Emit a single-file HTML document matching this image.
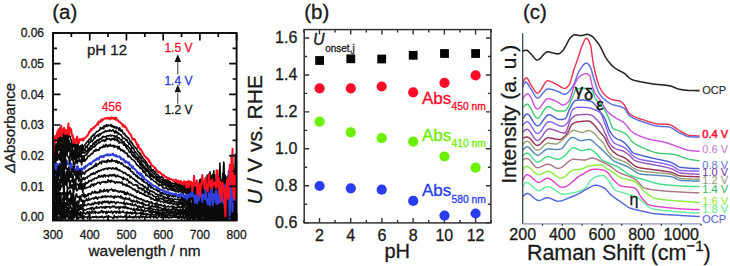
<!DOCTYPE html>
<html><head><meta charset="utf-8"><style>
html,body{margin:0;padding:0;background:#fff;width:730px;height:266px;overflow:hidden}
svg{display:block;font-family:"Liberation Sans",sans-serif}
</style></head><body>
<svg width="730" height="266" viewBox="0 0 730 266"><text x="52.3" y="18.6" font-size="20.5" fill="#1a1a1a" text-anchor="start" font-family="Liberation Sans, sans-serif"  stroke="#1a1a1a" stroke-width="0.3">(a)</text>
<text x="44" y="221.3" font-size="12" fill="#1a1a1a" text-anchor="end" font-family="Liberation Sans, sans-serif"  stroke="#1a1a1a" stroke-width="0.3">0.00</text>
<text x="44" y="190.63" font-size="12" fill="#1a1a1a" text-anchor="end" font-family="Liberation Sans, sans-serif"  stroke="#1a1a1a" stroke-width="0.3">0.01</text>
<text x="44" y="159.96" font-size="12" fill="#1a1a1a" text-anchor="end" font-family="Liberation Sans, sans-serif"  stroke="#1a1a1a" stroke-width="0.3">0.02</text>
<text x="44" y="129.29000000000002" font-size="12" fill="#1a1a1a" text-anchor="end" font-family="Liberation Sans, sans-serif"  stroke="#1a1a1a" stroke-width="0.3">0.03</text>
<text x="44" y="98.61999999999999" font-size="12" fill="#1a1a1a" text-anchor="end" font-family="Liberation Sans, sans-serif"  stroke="#1a1a1a" stroke-width="0.3">0.04</text>
<text x="44" y="67.95" font-size="12" fill="#1a1a1a" text-anchor="end" font-family="Liberation Sans, sans-serif"  stroke="#1a1a1a" stroke-width="0.3">0.05</text>
<text x="44" y="37.280000000000015" font-size="12" fill="#1a1a1a" text-anchor="end" font-family="Liberation Sans, sans-serif"  stroke="#1a1a1a" stroke-width="0.3">0.06</text>
<text x="53.0" y="238.8" font-size="12" fill="#1a1a1a" text-anchor="middle" font-family="Liberation Sans, sans-serif"  stroke="#1a1a1a" stroke-width="0.3">300</text>
<text x="89.72" y="238.8" font-size="12" fill="#1a1a1a" text-anchor="middle" font-family="Liberation Sans, sans-serif"  stroke="#1a1a1a" stroke-width="0.3">400</text>
<text x="126.44" y="238.8" font-size="12" fill="#1a1a1a" text-anchor="middle" font-family="Liberation Sans, sans-serif"  stroke="#1a1a1a" stroke-width="0.3">500</text>
<text x="163.16" y="238.8" font-size="12" fill="#1a1a1a" text-anchor="middle" font-family="Liberation Sans, sans-serif"  stroke="#1a1a1a" stroke-width="0.3">600</text>
<text x="199.88" y="238.8" font-size="12" fill="#1a1a1a" text-anchor="middle" font-family="Liberation Sans, sans-serif"  stroke="#1a1a1a" stroke-width="0.3">700</text>
<text x="236.6" y="238.8" font-size="12" fill="#1a1a1a" text-anchor="middle" font-family="Liberation Sans, sans-serif"  stroke="#1a1a1a" stroke-width="0.3">800</text>
<text x="144.5" y="256.4" font-size="15.4" fill="#1a1a1a" text-anchor="middle" font-family="Liberation Sans, sans-serif"  stroke="#1a1a1a" stroke-width="0.3">wavelength / nm</text>
<text transform="translate(15.3,128) rotate(-90)" font-size="15" fill="#1a1a1a" stroke="#1a1a1a" stroke-width="0.3" text-anchor="middle" font-family="Liberation Sans, sans-serif"><tspan font-style="italic">Δ</tspan>Absorbance</text>
<defs><clipPath id="ca"><rect x="53.0" y="33.0" width="183.6" height="187.5"/></clipPath></defs>
<g clip-path="url(#ca)" fill="none" stroke-linejoin="round">
<path d="M53.00,172.15 L53.55,176.44 L54.10,170.12 L54.65,171.64 L55.20,167.62 L55.75,160.57 L56.30,178.94 L56.86,167.76 L57.41,163.94 L57.96,166.07 L58.51,171.52 L59.06,165.60 L59.61,163.52 L60.16,163.85 L60.71,168.08 L61.26,167.64 L61.81,164.62 L62.36,167.78 L62.91,163.95 L63.47,162.03 L64.02,162.51 L64.57,169.03 L65.12,161.46 L65.67,165.48 L66.22,165.04 L66.77,160.79 L67.32,163.88 L67.87,164.25 L68.42,164.57 L68.97,164.27 L69.52,163.48 L70.07,160.38 L70.63,166.56 L71.18,169.94 L71.73,164.27 L72.28,167.52 L72.83,168.08 L73.38,166.83 L73.93,169.45 L74.48,170.88 L75.03,169.15 L75.58,175.60 L76.13,172.48 L76.68,166.69 L77.24,168.39 L77.79,166.12 L78.34,169.41 L78.89,169.81 L79.44,171.00 L79.99,168.81 L80.54,169.82 L81.09,168.46 L81.64,171.33 L82.19,169.88 L82.74,168.75 L83.29,168.45 L83.84,167.27 L84.40,168.72 L84.95,167.90 L85.50,165.98 L86.05,166.77 L86.60,165.88" stroke="#2f3fd8" stroke-width="2.0"/>
<path d="M53.00,143.06 L53.55,143.05 L54.10,146.51 L54.65,153.12 L55.20,154.36 L55.75,148.11 L56.30,155.44 L56.86,153.91 L57.41,143.73 L57.96,137.38 L58.51,137.29 L59.06,137.50 L59.61,139.18 L60.16,127.22 L60.71,134.14 L61.26,141.31 L61.81,132.68 L62.36,142.72 L62.91,143.20 L63.47,134.49 L64.02,147.14 L64.57,134.54 L65.12,134.50 L65.67,136.65 L66.22,141.94 L66.77,132.74 L67.32,138.00 L67.87,132.83 L68.42,137.24 L68.97,136.40 L69.52,135.92 L70.07,136.48 L70.63,139.31 L71.18,139.59 L71.73,142.76 L72.28,144.95 L72.83,143.81 L73.38,146.68 L73.93,143.66 L74.48,147.27 L75.03,148.74 L75.58,142.94 L76.13,148.02 L76.68,151.43 L77.24,146.10 L77.79,143.84 L78.34,146.00 L78.89,148.27 L79.44,146.35 L79.99,147.65 L80.54,145.55 L81.09,146.83 L81.64,147.53 L82.19,144.65 L82.74,148.92 L83.29,148.42 L83.84,145.88 L84.40,145.39 L84.95,144.91 L85.50,143.89 L86.05,143.53 L86.60,142.31 L87.15,142.07 L87.70,141.18 L88.25,142.26 L88.80,139.72 L89.35,139.59 L89.90,138.89 L90.45,138.28 L91.01,138.97 L91.56,136.28 L92.11,136.14 L92.66,136.24 L93.21,134.98 L93.76,134.27 L94.31,135.04 L94.86,133.72 L95.41,133.34 L95.96,132.47 L96.51,131.81 L97.06,131.52 L97.61,131.42 L98.17,131.31 L98.72,130.54 L99.27,130.33 L99.82,129.77 L100.37,127.51 L100.92,128.76 L101.47,128.09 L102.02,128.54 L102.57,127.58 L103.12,127.16 L103.67,128.79 L104.22,125.44 L104.78,126.60 L105.33,126.63 L105.88,126.24 L106.43,124.65 L106.98,126.55 L107.53,125.99 L108.08,124.96 L108.63,125.70 L109.18,125.59 L109.73,125.31 L110.28,126.13 L110.83,124.60 L111.38,125.17 L111.94,126.61 L112.49,125.49 L113.04,127.09 L113.59,126.71 L114.14,127.91 L114.69,126.43 L115.24,127.02 L115.79,127.10 L116.34,128.85 L116.89,127.11 L117.44,127.67 L117.99,127.97 L118.55,128.76 L119.10,130.43 L119.65,127.84 L120.20,129.39 L120.75,130.80 L121.30,131.30 L121.85,129.71 L122.40,131.32 L122.95,133.09 L123.50,133.81 L124.05,133.55 L124.60,133.28 L125.15,135.19 L125.71,136.10 L126.26,135.87 L126.81,136.32 L127.36,137.59 L127.91,137.46 L128.46,137.90 L129.01,138.87 L129.56,139.49 L130.11,141.96 L130.66,141.57 L131.21,141.43 L131.76,143.28 L132.32,143.05 L132.87,144.86 L133.42,145.75 L133.97,146.46 L134.52,146.51 L135.07,147.21 L135.62,148.20 L136.17,148.22 L136.72,148.38 L137.27,150.61 L137.82,151.70 L138.37,151.56 L138.92,152.68 L139.48,152.58 L140.03,154.55 L140.58,153.61 L141.13,156.18 L141.68,156.90 L142.23,156.65 L142.78,157.89 L143.33,158.71 L143.88,159.25 L144.43,160.05 L144.98,160.60 L145.53,162.11 L146.09,161.65 L146.64,162.62 L147.19,163.82 L147.74,165.14 L148.29,165.79 L148.84,165.78 L149.39,166.33 L149.94,167.24 L150.49,166.05 L151.04,168.76 L151.59,170.35 L152.14,169.54 L152.69,170.31 L153.25,169.76 L153.80,171.10 L154.35,171.62 L154.90,172.29 L155.45,171.08 L156.00,172.84 L156.55,174.03 L157.10,174.64 L157.65,174.45 L158.20,175.03 L158.75,175.62 L159.30,176.39 L159.86,177.60 L160.41,177.71 L160.96,177.15 L161.51,176.63 L162.06,176.70 L162.61,177.45 L163.16,178.51 L163.71,179.88 L164.26,180.12 L164.81,180.07 L165.36,180.29 L165.91,179.91 L166.46,181.42 L167.02,179.90 L167.57,180.15 L168.12,182.28 L168.67,179.96 L169.22,182.12 L169.77,181.95 L170.32,181.50 L170.87,183.33 L171.42,183.76 L171.97,183.13 L172.52,183.15 L173.07,183.69 L173.63,183.70 L174.18,183.59 L174.73,183.14 L175.28,182.58 L175.83,184.97 L176.38,184.46 L176.93,183.53 L177.48,184.96 L178.03,185.16 L178.58,184.05 L179.13,185.28 L179.68,183.82 L180.23,184.87 L180.79,184.37 L181.34,184.14 L181.89,185.17 L182.44,185.58 L182.99,184.93 L183.54,188.03 L184.09,186.45 L184.64,184.50 L185.19,187.46 L185.74,183.87 L186.29,181.98 L186.84,186.75 L187.40,181.83 L187.95,184.85 L188.50,182.62 L189.05,191.19 L189.60,186.73 L190.15,187.13 L190.70,183.93 L191.25,182.29 L191.80,184.17 L192.35,187.81 L192.90,186.24 L193.45,189.75 L194.00,185.69 L194.56,188.23 L195.11,190.47 L195.66,189.03 L196.21,190.95 L196.76,191.78 L197.31,189.17 L197.86,189.12 L198.41,185.84 L198.96,187.71 L199.51,179.95 L200.06,180.40 L200.61,179.20 L201.17,184.92 L201.72,189.14 L202.27,189.97 L202.82,189.16 L203.37,183.49 L203.92,188.00 L204.47,191.55 L205.02,186.57 L205.57,177.45 L206.12,182.23 L206.67,186.76 L207.22,183.73 L207.77,185.64 L208.33,188.25 L208.88,196.49 L209.43,187.43 L209.98,191.39 L210.53,187.68 L211.08,175.48 L211.63,184.72 L212.18,183.38 L212.73,186.99 L213.28,183.64 L213.83,191.91 L214.38,182.82 L214.94,180.04 L215.49,187.49 L216.04,185.82 L216.59,182.21 L217.14,187.43 L217.69,189.08 L218.24,183.06 L218.79,184.03 L219.34,185.43 L219.89,163.17 L220.44,191.08 L220.99,187.20 L221.54,199.12 L222.10,185.52 L222.65,194.85 L223.20,184.19 L223.75,188.29 L224.30,197.01 L224.85,180.24 L225.40,182.56 L225.95,181.54 L226.50,180.80 L227.05,191.22 L227.60,204.49 L228.15,205.02 L228.71,217.31 L229.26,194.86 L229.81,175.66 L230.36,191.56 L230.91,199.81 L231.46,184.14 L232.01,193.70 L232.56,184.04 L233.11,178.30 L233.66,183.52 L234.21,190.80 L234.76,194.85 L235.31,204.29 L235.87,156.97 L236.42,174.98" stroke="#0a0a0a" stroke-width="1.6"/>
<path d="M53.00,157.89 L53.55,148.83 L54.10,149.90 L54.65,142.54 L55.20,149.61 L55.75,145.87 L56.30,152.18 L56.86,153.02 L57.41,145.34 L57.96,146.24 L58.51,145.40 L59.06,143.66 L59.61,140.10 L60.16,136.65 L60.71,147.13 L61.26,143.77 L61.81,145.30 L62.36,149.06 L62.91,148.92 L63.47,147.42 L64.02,132.61 L64.57,140.04 L65.12,140.87 L65.67,143.35 L66.22,133.30 L66.77,144.55 L67.32,150.49 L67.87,135.21 L68.42,141.72 L68.97,140.18 L69.52,142.47 L70.07,148.28 L70.63,145.11 L71.18,143.12 L71.73,143.21 L72.28,142.59 L72.83,151.36 L73.38,151.26 L73.93,158.11 L74.48,150.12 L75.03,150.81 L75.58,150.05 L76.13,144.71 L76.68,148.88 L77.24,152.42 L77.79,144.96 L78.34,149.40 L78.89,147.97 L79.44,149.57 L79.99,147.45 L80.54,154.19 L81.09,150.51 L81.64,147.78 L82.19,150.99 L82.74,150.01 L83.29,151.11 L83.84,149.01 L84.40,150.28 L84.95,149.61 L85.50,147.87 L86.05,146.09 L86.60,146.98 L87.15,147.61 L87.70,145.31 L88.25,144.31 L88.80,144.36 L89.35,142.01 L89.90,142.72 L90.45,141.93 L91.01,140.25 L91.56,140.41 L92.11,141.55 L92.66,140.36 L93.21,139.98 L93.76,138.99 L94.31,136.99 L94.86,138.33 L95.41,137.27 L95.96,136.01 L96.51,135.84 L97.06,135.95 L97.61,134.91 L98.17,135.26 L98.72,136.49 L99.27,133.70 L99.82,134.47 L100.37,134.98 L100.92,133.84 L101.47,133.25 L102.02,133.01 L102.57,133.04 L103.12,132.08 L103.67,132.33 L104.22,132.17 L104.78,131.39 L105.33,130.62 L105.88,131.51 L106.43,131.67 L106.98,130.87 L107.53,131.16 L108.08,130.68 L108.63,130.94 L109.18,131.09 L109.73,129.93 L110.28,130.74 L110.83,130.43 L111.38,131.27 L111.94,130.90 L112.49,130.32 L113.04,129.80 L113.59,131.32 L114.14,131.02 L114.69,132.97 L115.24,132.17 L115.79,130.76 L116.34,132.81 L116.89,131.97 L117.44,132.60 L117.99,133.80 L118.55,132.83 L119.10,134.36 L119.65,134.07 L120.20,134.69 L120.75,135.14 L121.30,134.87 L121.85,136.56 L122.40,136.82 L122.95,138.45 L123.50,138.45 L124.05,138.06 L124.60,138.23 L125.15,138.75 L125.71,140.23 L126.26,140.50 L126.81,139.30 L127.36,141.17 L127.91,142.37 L128.46,142.65 L129.01,144.32 L129.56,143.30 L130.11,144.36 L130.66,144.82 L131.21,146.09 L131.76,148.45 L132.32,147.58 L132.87,147.85 L133.42,148.53 L133.97,148.91 L134.52,151.21 L135.07,152.76 L135.62,151.95 L136.17,153.27 L136.72,153.60 L137.27,154.10 L137.82,155.01 L138.37,155.48 L138.92,155.92 L139.48,156.55 L140.03,157.76 L140.58,158.66 L141.13,158.25 L141.68,160.00 L142.23,161.84 L142.78,161.44 L143.33,160.90 L143.88,162.18 L144.43,162.81 L144.98,162.61 L145.53,164.06 L146.09,165.73 L146.64,165.15 L147.19,165.93 L147.74,167.60 L148.29,167.86 L148.84,168.82 L149.39,169.41 L149.94,169.90 L150.49,170.44 L151.04,171.13 L151.59,170.42 L152.14,171.98 L152.69,172.43 L153.25,173.42 L153.80,173.66 L154.35,173.76 L154.90,174.57 L155.45,175.16 L156.00,176.15 L156.55,176.35 L157.10,177.99 L157.65,177.64 L158.20,176.45 L158.75,177.65 L159.30,178.54 L159.86,178.20 L160.41,178.85 L160.96,179.19 L161.51,179.51 L162.06,179.35 L162.61,180.11 L163.16,182.23 L163.71,180.86 L164.26,181.63 L164.81,181.91 L165.36,181.57 L165.91,182.07 L166.46,182.87 L167.02,182.44 L167.57,183.16 L168.12,182.96 L168.67,183.23 L169.22,183.54 L169.77,183.93 L170.32,182.86 L170.87,185.43 L171.42,184.61 L171.97,184.94 L172.52,185.62 L173.07,185.66 L173.63,185.43 L174.18,185.99 L174.73,185.15 L175.28,184.58 L175.83,185.04 L176.38,184.89 L176.93,185.66 L177.48,185.13 L178.03,186.80 L178.58,186.71 L179.13,184.80 L179.68,188.49 L180.23,185.57 L180.79,187.41 L181.34,184.79 L181.89,186.38 L182.44,189.66 L182.99,187.89 L183.54,185.24 L184.09,186.09 L184.64,188.34 L185.19,187.09 L185.74,186.93 L186.29,188.92 L186.84,188.58 L187.40,187.82 L187.95,186.78 L188.50,187.73 L189.05,186.61 L189.60,188.56 L190.15,188.47 L190.70,187.80 L191.25,191.09 L191.80,186.99 L192.35,185.97 L192.90,190.83 L193.45,194.40 L194.00,190.05 L194.56,186.36 L195.11,188.26 L195.66,189.71 L196.21,195.06 L196.76,186.08 L197.31,187.29 L197.86,189.07 L198.41,193.87 L198.96,197.60 L199.51,184.06 L200.06,198.93 L200.61,188.84 L201.17,184.50 L201.72,199.92 L202.27,182.88 L202.82,190.60 L203.37,184.60 L203.92,189.56 L204.47,190.38 L205.02,188.37 L205.57,188.75 L206.12,202.67 L206.67,196.69 L207.22,187.33 L207.77,187.08 L208.33,184.65 L208.88,189.01 L209.43,185.22 L209.98,171.69 L210.53,181.42 L211.08,179.79 L211.63,189.66 L212.18,177.16 L212.73,174.33 L213.28,185.53 L213.83,181.05 L214.38,196.71 L214.94,191.84 L215.49,180.95 L216.04,193.99 L216.59,185.53 L217.14,179.46 L217.69,185.30 L218.24,175.50 L218.79,178.68 L219.34,175.95 L219.89,210.81 L220.44,203.28 L220.99,181.74 L221.54,204.47 L222.10,186.11 L222.65,173.58 L223.20,186.97 L223.75,162.08 L224.30,185.20 L224.85,215.84 L225.40,181.37 L225.95,201.20 L226.50,189.06 L227.05,177.84 L227.60,194.79 L228.15,209.48 L228.71,218.93 L229.26,183.12 L229.81,170.07 L230.36,195.96 L230.91,181.07 L231.46,187.84 L232.01,201.77 L232.56,192.38 L233.11,191.60 L233.66,183.88 L234.21,188.66 L234.76,203.14 L235.31,181.74 L235.87,193.93 L236.42,198.10" stroke="#0a0a0a" stroke-width="1.6"/>
<path d="M53.00,161.30 L53.55,161.20 L54.10,153.44 L54.65,153.54 L55.20,145.80 L55.75,154.92 L56.30,143.72 L56.86,148.20 L57.41,146.76 L57.96,143.29 L58.51,149.23 L59.06,149.84 L59.61,145.79 L60.16,138.04 L60.71,143.73 L61.26,157.84 L61.81,145.20 L62.36,149.40 L62.91,143.58 L63.47,146.67 L64.02,144.64 L64.57,156.83 L65.12,144.52 L65.67,146.81 L66.22,147.95 L66.77,151.96 L67.32,148.33 L67.87,144.15 L68.42,148.93 L68.97,145.67 L69.52,148.92 L70.07,146.67 L70.63,145.05 L71.18,146.83 L71.73,145.80 L72.28,152.73 L72.83,150.73 L73.38,154.29 L73.93,151.44 L74.48,154.29 L75.03,151.59 L75.58,155.39 L76.13,155.82 L76.68,151.76 L77.24,155.57 L77.79,155.30 L78.34,151.82 L78.89,153.59 L79.44,151.37 L79.99,149.14 L80.54,156.80 L81.09,153.43 L81.64,149.48 L82.19,152.60 L82.74,153.18 L83.29,152.82 L83.84,152.52 L84.40,152.56 L84.95,153.05 L85.50,150.62 L86.05,151.89 L86.60,150.97 L87.15,151.49 L87.70,149.38 L88.25,148.68 L88.80,149.28 L89.35,147.82 L89.90,148.40 L90.45,145.87 L91.01,146.19 L91.56,145.73 L92.11,146.56 L92.66,144.54 L93.21,142.95 L93.76,143.11 L94.31,144.43 L94.86,142.53 L95.41,141.29 L95.96,142.65 L96.51,141.86 L97.06,140.10 L97.61,140.46 L98.17,139.82 L98.72,141.15 L99.27,139.02 L99.82,138.98 L100.37,139.13 L100.92,138.40 L101.47,138.94 L102.02,137.68 L102.57,136.61 L103.12,137.11 L103.67,136.30 L104.22,136.71 L104.78,137.01 L105.33,136.82 L105.88,136.62 L106.43,136.02 L106.98,136.00 L107.53,135.79 L108.08,135.71 L108.63,136.12 L109.18,135.44 L109.73,135.47 L110.28,135.03 L110.83,136.20 L111.38,135.78 L111.94,135.24 L112.49,135.44 L113.04,135.57 L113.59,135.80 L114.14,136.40 L114.69,135.63 L115.24,136.86 L115.79,136.57 L116.34,137.91 L116.89,135.62 L117.44,137.96 L117.99,137.69 L118.55,138.25 L119.10,137.80 L119.65,139.02 L120.20,139.03 L120.75,139.86 L121.30,140.60 L121.85,139.69 L122.40,141.25 L122.95,141.71 L123.50,142.61 L124.05,141.78 L124.60,143.10 L125.15,145.07 L125.71,144.60 L126.26,144.68 L126.81,145.43 L127.36,146.33 L127.91,145.77 L128.46,146.75 L129.01,147.48 L129.56,148.28 L130.11,148.58 L130.66,150.43 L131.21,149.07 L131.76,151.11 L132.32,152.18 L132.87,152.71 L133.42,152.58 L133.97,153.72 L134.52,154.81 L135.07,155.04 L135.62,155.87 L136.17,156.86 L136.72,158.07 L137.27,158.20 L137.82,157.02 L138.37,157.97 L138.92,159.93 L139.48,159.98 L140.03,160.67 L140.58,163.36 L141.13,162.21 L141.68,163.78 L142.23,164.25 L142.78,164.20 L143.33,165.25 L143.88,166.13 L144.43,166.43 L144.98,167.36 L145.53,168.53 L146.09,168.22 L146.64,168.22 L147.19,169.68 L147.74,169.79 L148.29,171.41 L148.84,170.95 L149.39,171.68 L149.94,172.73 L150.49,172.98 L151.04,174.13 L151.59,174.07 L152.14,174.59 L152.69,175.44 L153.25,175.36 L153.80,176.65 L154.35,176.98 L154.90,177.39 L155.45,177.39 L156.00,178.47 L156.55,179.87 L157.10,178.89 L157.65,179.01 L158.20,179.23 L158.75,180.33 L159.30,180.45 L159.86,180.26 L160.41,181.36 L160.96,181.08 L161.51,181.53 L162.06,181.53 L162.61,182.85 L163.16,182.51 L163.71,183.30 L164.26,182.16 L164.81,183.32 L165.36,182.83 L165.91,184.86 L166.46,184.16 L167.02,184.19 L167.57,185.17 L168.12,186.45 L168.67,184.31 L169.22,184.81 L169.77,186.35 L170.32,186.66 L170.87,185.92 L171.42,186.69 L171.97,187.52 L172.52,187.02 L173.07,186.61 L173.63,186.22 L174.18,186.97 L174.73,186.17 L175.28,186.88 L175.83,187.97 L176.38,186.89 L176.93,188.23 L177.48,188.10 L178.03,188.01 L178.58,188.02 L179.13,187.68 L179.68,188.36 L180.23,189.25 L180.79,190.65 L181.34,188.96 L181.89,189.37 L182.44,188.45 L182.99,188.24 L183.54,188.15 L184.09,189.63 L184.64,190.16 L185.19,188.50 L185.74,188.92 L186.29,189.72 L186.84,187.99 L187.40,190.23 L187.95,191.46 L188.50,188.90 L189.05,186.78 L189.60,190.75 L190.15,186.18 L190.70,186.49 L191.25,189.52 L191.80,191.89 L192.35,190.22 L192.90,193.70 L193.45,188.27 L194.00,194.78 L194.56,188.32 L195.11,189.27 L195.66,190.01 L196.21,186.33 L196.76,195.42 L197.31,185.74 L197.86,189.62 L198.41,186.40 L198.96,199.91 L199.51,200.24 L200.06,190.63 L200.61,183.23 L201.17,188.38 L201.72,199.70 L202.27,186.72 L202.82,187.61 L203.37,182.69 L203.92,188.24 L204.47,181.11 L205.02,188.87 L205.57,182.01 L206.12,193.91 L206.67,187.93 L207.22,175.08 L207.77,186.58 L208.33,197.94 L208.88,174.03 L209.43,199.07 L209.98,183.14 L210.53,195.77 L211.08,207.55 L211.63,199.61 L212.18,193.72 L212.73,184.35 L213.28,192.55 L213.83,170.72 L214.38,206.35 L214.94,175.09 L215.49,193.24 L216.04,190.00 L216.59,189.99 L217.14,189.98 L217.69,186.46 L218.24,189.85 L218.79,191.53 L219.34,213.38 L219.89,202.05 L220.44,179.23 L220.99,192.60 L221.54,192.45 L222.10,181.84 L222.65,187.17 L223.20,182.01 L223.75,163.52 L224.30,178.67 L224.85,200.35 L225.40,176.27 L225.95,199.89 L226.50,188.82 L227.05,196.19 L227.60,202.24 L228.15,196.60 L228.71,191.83 L229.26,189.98 L229.81,202.66 L230.36,182.17 L230.91,192.93 L231.46,184.03 L232.01,190.57 L232.56,195.11 L233.11,190.05 L233.66,187.85 L234.21,203.66 L234.76,184.05 L235.31,154.28 L235.87,182.51 L236.42,174.30" stroke="#0a0a0a" stroke-width="1.6"/>
<path d="M53.00,157.97 L53.55,160.47 L54.10,154.69 L54.65,162.82 L55.20,148.61 L55.75,152.43 L56.30,155.19 L56.86,160.32 L57.41,160.23 L57.96,138.22 L58.51,143.22 L59.06,149.87 L59.61,148.60 L60.16,147.31 L60.71,160.83 L61.26,151.63 L61.81,146.13 L62.36,150.86 L62.91,153.16 L63.47,149.32 L64.02,152.59 L64.57,146.15 L65.12,148.85 L65.67,152.22 L66.22,145.91 L66.77,144.53 L67.32,153.03 L67.87,150.17 L68.42,141.05 L68.97,151.08 L69.52,148.00 L70.07,145.97 L70.63,153.29 L71.18,150.70 L71.73,158.65 L72.28,152.95 L72.83,152.46 L73.38,158.31 L73.93,157.73 L74.48,159.39 L75.03,152.27 L75.58,156.81 L76.13,159.23 L76.68,154.18 L77.24,151.17 L77.79,157.83 L78.34,151.38 L78.89,158.82 L79.44,154.90 L79.99,154.37 L80.54,155.15 L81.09,154.70 L81.64,159.88 L82.19,156.59 L82.74,155.78 L83.29,155.92 L83.84,158.41 L84.40,156.07 L84.95,155.32 L85.50,155.53 L86.05,154.63 L86.60,154.08 L87.15,153.08 L87.70,153.77 L88.25,150.35 L88.80,151.58 L89.35,149.78 L89.90,150.28 L90.45,149.39 L91.01,148.93 L91.56,149.45 L92.11,147.61 L92.66,146.93 L93.21,146.95 L93.76,146.67 L94.31,147.05 L94.86,145.04 L95.41,146.28 L95.96,144.90 L96.51,144.10 L97.06,144.08 L97.61,143.53 L98.17,142.86 L98.72,142.87 L99.27,142.23 L99.82,142.63 L100.37,141.75 L100.92,141.49 L101.47,141.16 L102.02,140.53 L102.57,140.28 L103.12,140.66 L103.67,140.02 L104.22,141.46 L104.78,140.08 L105.33,139.86 L105.88,140.95 L106.43,137.67 L106.98,138.29 L107.53,139.42 L108.08,138.95 L108.63,138.73 L109.18,138.46 L109.73,138.64 L110.28,139.84 L110.83,140.37 L111.38,139.48 L111.94,138.47 L112.49,138.56 L113.04,139.54 L113.59,138.81 L114.14,138.04 L114.69,140.20 L115.24,139.11 L115.79,140.02 L116.34,139.90 L116.89,140.58 L117.44,139.11 L117.99,141.35 L118.55,140.76 L119.10,143.19 L119.65,142.21 L120.20,142.36 L120.75,142.39 L121.30,142.91 L121.85,142.69 L122.40,142.45 L122.95,142.90 L123.50,145.14 L124.05,144.60 L124.60,145.21 L125.15,144.89 L125.71,147.01 L126.26,146.57 L126.81,148.57 L127.36,148.61 L127.91,149.34 L128.46,149.99 L129.01,151.64 L129.56,152.59 L130.11,152.03 L130.66,152.16 L131.21,151.32 L131.76,154.92 L132.32,154.36 L132.87,156.27 L133.42,155.20 L133.97,157.68 L134.52,155.93 L135.07,157.36 L135.62,158.13 L136.17,159.38 L136.72,159.26 L137.27,159.02 L137.82,161.61 L138.37,161.77 L138.92,161.55 L139.48,162.96 L140.03,164.93 L140.58,163.81 L141.13,166.10 L141.68,164.69 L142.23,164.57 L142.78,168.14 L143.33,167.21 L143.88,167.96 L144.43,169.03 L144.98,168.81 L145.53,168.36 L146.09,171.81 L146.64,170.87 L147.19,169.84 L147.74,171.72 L148.29,172.14 L148.84,173.08 L149.39,175.13 L149.94,174.39 L150.49,176.28 L151.04,175.72 L151.59,175.10 L152.14,176.96 L152.69,176.55 L153.25,177.29 L153.80,177.84 L154.35,177.87 L154.90,177.00 L155.45,177.76 L156.00,178.83 L156.55,179.39 L157.10,181.10 L157.65,180.66 L158.20,181.39 L158.75,180.74 L159.30,182.25 L159.86,181.84 L160.41,182.17 L160.96,182.68 L161.51,183.12 L162.06,185.06 L162.61,184.18 L163.16,184.60 L163.71,185.08 L164.26,184.52 L164.81,184.38 L165.36,184.74 L165.91,185.59 L166.46,186.87 L167.02,184.78 L167.57,186.26 L168.12,186.53 L168.67,185.84 L169.22,188.13 L169.77,188.25 L170.32,187.02 L170.87,187.87 L171.42,188.40 L171.97,187.13 L172.52,188.16 L173.07,189.30 L173.63,187.84 L174.18,189.29 L174.73,189.29 L175.28,189.26 L175.83,189.91 L176.38,189.24 L176.93,188.95 L177.48,189.51 L178.03,190.79 L178.58,189.97 L179.13,189.52 L179.68,188.50 L180.23,189.71 L180.79,190.61 L181.34,189.80 L181.89,190.91 L182.44,190.70 L182.99,189.99 L183.54,188.35 L184.09,189.88 L184.64,188.94 L185.19,189.65 L185.74,193.43 L186.29,192.48 L186.84,186.69 L187.40,189.15 L187.95,190.00 L188.50,192.71 L189.05,190.47 L189.60,195.89 L190.15,189.95 L190.70,185.99 L191.25,191.28 L191.80,188.96 L192.35,184.92 L192.90,195.20 L193.45,189.40 L194.00,188.77 L194.56,190.30 L195.11,187.20 L195.66,190.84 L196.21,189.41 L196.76,190.12 L197.31,195.60 L197.86,192.19 L198.41,192.18 L198.96,185.15 L199.51,190.43 L200.06,189.26 L200.61,194.50 L201.17,191.63 L201.72,192.55 L202.27,191.21 L202.82,188.46 L203.37,189.74 L203.92,203.99 L204.47,192.12 L205.02,187.83 L205.57,178.31 L206.12,184.25 L206.67,188.64 L207.22,186.56 L207.77,187.10 L208.33,189.62 L208.88,193.79 L209.43,195.44 L209.98,191.31 L210.53,191.01 L211.08,182.16 L211.63,209.01 L212.18,192.63 L212.73,197.98 L213.28,195.77 L213.83,180.66 L214.38,210.91 L214.94,179.33 L215.49,202.65 L216.04,191.48 L216.59,203.58 L217.14,192.15 L217.69,181.79 L218.24,185.26 L218.79,183.42 L219.34,185.60 L219.89,192.65 L220.44,190.45 L220.99,196.22 L221.54,196.44 L222.10,179.77 L222.65,179.72 L223.20,186.34 L223.75,196.79 L224.30,186.93 L224.85,190.57 L225.40,203.63 L225.95,194.29 L226.50,184.97 L227.05,190.58 L227.60,197.07 L228.15,193.25 L228.71,189.37 L229.26,196.55 L229.81,172.40 L230.36,184.45 L230.91,183.44 L231.46,184.51 L232.01,183.21 L232.56,201.38 L233.11,177.95 L233.66,193.35 L234.21,192.02 L234.76,182.56 L235.31,210.90 L235.87,187.77 L236.42,177.44" stroke="#0a0a0a" stroke-width="1.6"/>
<path d="M53.00,166.96 L53.55,169.76 L54.10,152.89 L54.65,161.40 L55.20,162.33 L55.75,161.17 L56.30,153.83 L56.86,156.31 L57.41,154.78 L57.96,155.35 L58.51,154.24 L59.06,159.75 L59.61,158.74 L60.16,152.66 L60.71,153.88 L61.26,160.06 L61.81,166.17 L62.36,151.60 L62.91,157.04 L63.47,150.79 L64.02,146.96 L64.57,165.33 L65.12,164.84 L65.67,150.58 L66.22,155.33 L66.77,153.54 L67.32,155.70 L67.87,156.75 L68.42,157.46 L68.97,157.84 L69.52,163.75 L70.07,152.78 L70.63,153.73 L71.18,150.77 L71.73,159.82 L72.28,157.66 L72.83,157.70 L73.38,163.20 L73.93,164.47 L74.48,167.06 L75.03,161.80 L75.58,160.66 L76.13,162.62 L76.68,159.17 L77.24,163.57 L77.79,161.12 L78.34,160.24 L78.89,161.51 L79.44,159.77 L79.99,159.82 L80.54,162.06 L81.09,161.19 L81.64,164.93 L82.19,160.62 L82.74,157.47 L83.29,161.26 L83.84,160.66 L84.40,158.18 L84.95,161.27 L85.50,159.87 L86.05,159.95 L86.60,158.85 L87.15,158.37 L87.70,156.09 L88.25,156.39 L88.80,156.52 L89.35,155.78 L89.90,155.60 L90.45,155.08 L91.01,154.34 L91.56,153.38 L92.11,153.78 L92.66,153.75 L93.21,152.28 L93.76,151.07 L94.31,150.41 L94.86,151.39 L95.41,150.84 L95.96,149.19 L96.51,150.78 L97.06,149.95 L97.61,149.89 L98.17,149.57 L98.72,150.53 L99.27,149.43 L99.82,147.60 L100.37,148.38 L100.92,147.30 L101.47,147.35 L102.02,146.93 L102.57,147.47 L103.12,146.88 L103.67,145.01 L104.22,146.95 L104.78,145.75 L105.33,146.71 L105.88,144.35 L106.43,145.94 L106.98,145.50 L107.53,146.89 L108.08,144.96 L108.63,145.45 L109.18,146.30 L109.73,146.27 L110.28,144.23 L110.83,145.80 L111.38,145.67 L111.94,146.24 L112.49,145.84 L113.04,145.22 L113.59,146.01 L114.14,147.46 L114.69,145.56 L115.24,146.52 L115.79,146.65 L116.34,146.92 L116.89,146.46 L117.44,146.30 L117.99,148.95 L118.55,147.44 L119.10,146.49 L119.65,148.86 L120.20,148.92 L120.75,150.57 L121.30,149.67 L121.85,149.47 L122.40,150.96 L122.95,150.25 L123.50,151.16 L124.05,151.93 L124.60,150.97 L125.15,153.08 L125.71,152.97 L126.26,153.38 L126.81,153.05 L127.36,153.76 L127.91,156.52 L128.46,156.88 L129.01,155.86 L129.56,156.57 L130.11,157.16 L130.66,157.46 L131.21,158.31 L131.76,159.37 L132.32,159.65 L132.87,159.75 L133.42,160.29 L133.97,160.40 L134.52,161.25 L135.07,161.68 L135.62,162.77 L136.17,163.67 L136.72,165.03 L137.27,164.89 L137.82,165.72 L138.37,165.93 L138.92,166.54 L139.48,167.03 L140.03,168.38 L140.58,167.68 L141.13,168.61 L141.68,168.09 L142.23,169.54 L142.78,171.35 L143.33,172.12 L143.88,170.40 L144.43,172.71 L144.98,172.54 L145.53,173.63 L146.09,175.76 L146.64,174.25 L147.19,175.82 L147.74,175.96 L148.29,176.43 L148.84,176.71 L149.39,177.46 L149.94,177.40 L150.49,178.45 L151.04,179.65 L151.59,178.72 L152.14,179.37 L152.69,179.64 L153.25,180.14 L153.80,180.95 L154.35,181.57 L154.90,181.52 L155.45,181.64 L156.00,182.56 L156.55,182.70 L157.10,183.81 L157.65,183.69 L158.20,184.27 L158.75,185.55 L159.30,183.95 L159.86,185.40 L160.41,184.98 L160.96,185.14 L161.51,185.76 L162.06,185.98 L162.61,187.74 L163.16,187.16 L163.71,188.05 L164.26,188.20 L164.81,188.63 L165.36,188.00 L165.91,188.28 L166.46,187.92 L167.02,188.50 L167.57,189.16 L168.12,189.90 L168.67,189.38 L169.22,189.14 L169.77,189.19 L170.32,189.58 L170.87,189.98 L171.42,189.84 L171.97,190.52 L172.52,190.14 L173.07,190.03 L173.63,190.00 L174.18,191.09 L174.73,190.63 L175.28,190.68 L175.83,191.30 L176.38,191.36 L176.93,191.72 L177.48,191.48 L178.03,190.98 L178.58,192.17 L179.13,191.59 L179.68,191.32 L180.23,190.65 L180.79,191.48 L181.34,192.50 L181.89,192.17 L182.44,192.48 L182.99,194.45 L183.54,190.95 L184.09,191.81 L184.64,192.44 L185.19,190.71 L185.74,193.32 L186.29,188.69 L186.84,192.86 L187.40,192.53 L187.95,194.79 L188.50,189.65 L189.05,193.87 L189.60,195.73 L190.15,192.98 L190.70,190.91 L191.25,193.35 L191.80,197.90 L192.35,196.47 L192.90,195.25 L193.45,198.38 L194.00,195.91 L194.56,192.81 L195.11,190.07 L195.66,195.13 L196.21,194.40 L196.76,194.24 L197.31,189.45 L197.86,202.02 L198.41,186.31 L198.96,190.03 L199.51,194.56 L200.06,187.58 L200.61,197.85 L201.17,188.83 L201.72,192.70 L202.27,198.32 L202.82,194.82 L203.37,187.39 L203.92,199.68 L204.47,192.67 L205.02,190.19 L205.57,190.13 L206.12,187.03 L206.67,193.11 L207.22,196.29 L207.77,192.44 L208.33,189.00 L208.88,195.23 L209.43,190.66 L209.98,193.68 L210.53,199.07 L211.08,196.31 L211.63,179.99 L212.18,183.32 L212.73,197.18 L213.28,196.18 L213.83,198.14 L214.38,188.60 L214.94,213.47 L215.49,186.95 L216.04,189.52 L216.59,196.74 L217.14,201.44 L217.69,194.20 L218.24,197.40 L218.79,200.02 L219.34,195.67 L219.89,169.67 L220.44,192.69 L220.99,194.75 L221.54,197.68 L222.10,187.41 L222.65,190.93 L223.20,185.23 L223.75,196.87 L224.30,190.12 L224.85,220.79 L225.40,201.35 L225.95,190.27 L226.50,195.88 L227.05,186.31 L227.60,188.28 L228.15,188.17 L228.71,187.89 L229.26,182.79 L229.81,198.81 L230.36,204.53 L230.91,192.95 L231.46,184.14 L232.01,191.33 L232.56,221.00 L233.11,164.51 L233.66,178.86 L234.21,200.95 L234.76,198.09 L235.31,205.49 L235.87,190.15 L236.42,170.36" stroke="#0a0a0a" stroke-width="1.6"/>
<path d="M53.00,163.11 L53.55,162.42 L54.10,177.45 L54.65,174.22 L55.20,171.47 L55.75,173.81 L56.30,173.72 L56.86,177.88 L57.41,171.94 L57.96,166.64 L58.51,168.78 L59.06,171.76 L59.61,164.73 L60.16,166.91 L60.71,166.24 L61.26,179.20 L61.81,179.33 L62.36,172.42 L62.91,162.45 L63.47,158.34 L64.02,172.18 L64.57,167.41 L65.12,165.03 L65.67,159.17 L66.22,169.32 L66.77,167.97 L67.32,169.92 L67.87,173.90 L68.42,168.60 L68.97,170.41 L69.52,176.91 L70.07,174.47 L70.63,171.50 L71.18,176.36 L71.73,168.72 L72.28,170.23 L72.83,171.92 L73.38,166.70 L73.93,173.10 L74.48,174.63 L75.03,174.10 L75.58,170.78 L76.13,174.93 L76.68,172.79 L77.24,175.30 L77.79,170.74 L78.34,178.77 L78.89,177.43 L79.44,171.85 L79.99,169.72 L80.54,171.52 L81.09,177.28 L81.64,173.67 L82.19,173.88 L82.74,171.85 L83.29,173.36 L83.84,173.18 L84.40,174.24 L84.95,173.55 L85.50,171.24 L86.05,171.78 L86.60,171.10 L87.15,170.18 L87.70,170.81 L88.25,170.26 L88.80,169.74 L89.35,168.60 L89.90,169.29 L90.45,168.68 L91.01,168.46 L91.56,167.54 L92.11,168.23 L92.66,167.19 L93.21,167.33 L93.76,166.03 L94.31,165.69 L94.86,166.63 L95.41,164.49 L95.96,163.35 L96.51,166.19 L97.06,164.40 L97.61,164.13 L98.17,164.36 L98.72,163.75 L99.27,163.41 L99.82,162.14 L100.37,162.78 L100.92,162.18 L101.47,163.92 L102.02,161.05 L102.57,161.49 L103.12,161.50 L103.67,160.98 L104.22,162.20 L104.78,160.96 L105.33,161.61 L105.88,161.59 L106.43,162.54 L106.98,160.56 L107.53,162.01 L108.08,159.78 L108.63,160.61 L109.18,161.11 L109.73,161.87 L110.28,160.57 L110.83,161.22 L111.38,161.54 L111.94,159.31 L112.49,161.02 L113.04,161.06 L113.59,161.14 L114.14,160.50 L114.69,161.11 L115.24,161.34 L115.79,162.33 L116.34,160.81 L116.89,160.54 L117.44,162.45 L117.99,163.35 L118.55,161.83 L119.10,161.91 L119.65,162.46 L120.20,163.12 L120.75,163.45 L121.30,164.16 L121.85,162.84 L122.40,164.03 L122.95,164.44 L123.50,165.21 L124.05,166.18 L124.60,166.40 L125.15,166.15 L125.71,166.59 L126.26,167.40 L126.81,166.86 L127.36,167.71 L127.91,168.59 L128.46,167.17 L129.01,169.40 L129.56,169.26 L130.11,168.37 L130.66,171.28 L131.21,171.14 L131.76,171.72 L132.32,171.86 L132.87,171.86 L133.42,174.08 L133.97,173.27 L134.52,174.51 L135.07,174.53 L135.62,174.88 L136.17,176.53 L136.72,175.94 L137.27,175.83 L137.82,177.89 L138.37,177.23 L138.92,177.20 L139.48,178.47 L140.03,178.55 L140.58,179.28 L141.13,178.66 L141.68,179.18 L142.23,180.98 L142.78,179.68 L143.33,179.57 L143.88,182.19 L144.43,182.07 L144.98,182.34 L145.53,182.86 L146.09,182.65 L146.64,182.86 L147.19,183.26 L147.74,184.69 L148.29,184.47 L148.84,186.96 L149.39,185.05 L149.94,184.85 L150.49,186.67 L151.04,188.22 L151.59,186.90 L152.14,187.16 L152.69,187.42 L153.25,188.58 L153.80,189.27 L154.35,189.32 L154.90,189.51 L155.45,189.62 L156.00,189.60 L156.55,190.41 L157.10,189.61 L157.65,191.51 L158.20,190.94 L158.75,191.51 L159.30,190.45 L159.86,191.87 L160.41,193.73 L160.96,192.62 L161.51,193.82 L162.06,192.29 L162.61,192.96 L163.16,193.22 L163.71,193.92 L164.26,194.36 L164.81,193.99 L165.36,193.87 L165.91,193.70 L166.46,195.11 L167.02,195.32 L167.57,194.79 L168.12,194.31 L168.67,193.59 L169.22,196.84 L169.77,195.09 L170.32,195.21 L170.87,195.63 L171.42,195.90 L171.97,196.17 L172.52,195.68 L173.07,196.74 L173.63,196.96 L174.18,195.74 L174.73,194.91 L175.28,196.66 L175.83,195.56 L176.38,196.34 L176.93,196.58 L177.48,196.83 L178.03,197.54 L178.58,197.92 L179.13,197.12 L179.68,196.96 L180.23,197.86 L180.79,197.43 L181.34,196.53 L181.89,198.55 L182.44,197.83 L182.99,198.66 L183.54,198.30 L184.09,200.75 L184.64,197.43 L185.19,198.16 L185.74,199.33 L186.29,198.77 L186.84,199.21 L187.40,197.18 L187.95,199.38 L188.50,197.37 L189.05,199.39 L189.60,197.24 L190.15,197.15 L190.70,198.01 L191.25,197.13 L191.80,199.51 L192.35,196.59 L192.90,197.17 L193.45,197.93 L194.00,202.29 L194.56,199.17 L195.11,197.90 L195.66,201.38 L196.21,200.01 L196.76,197.19 L197.31,198.82 L197.86,196.20 L198.41,199.20 L198.96,199.85 L199.51,204.55 L200.06,201.96 L200.61,199.99 L201.17,193.71 L201.72,205.72 L202.27,200.40 L202.82,191.03 L203.37,199.09 L203.92,196.57 L204.47,199.16 L205.02,205.39 L205.57,188.34 L206.12,188.97 L206.67,203.78 L207.22,206.68 L207.77,206.82 L208.33,197.81 L208.88,209.64 L209.43,197.18 L209.98,203.98 L210.53,194.88 L211.08,194.85 L211.63,199.09 L212.18,204.06 L212.73,206.76 L213.28,200.83 L213.83,198.52 L214.38,197.50 L214.94,191.95 L215.49,191.46 L216.04,214.14 L216.59,191.60 L217.14,181.01 L217.69,180.81 L218.24,207.08 L218.79,209.26 L219.34,194.33 L219.89,206.51 L220.44,195.08 L220.99,199.27 L221.54,204.63 L222.10,198.23 L222.65,185.08 L223.20,193.93 L223.75,186.95 L224.30,203.31 L224.85,203.38 L225.40,197.17 L225.95,215.19 L226.50,208.03 L227.05,211.62 L227.60,203.46 L228.15,194.54 L228.71,208.78 L229.26,190.70 L229.81,167.10 L230.36,194.95 L230.91,202.39 L231.46,181.29 L232.01,199.25 L232.56,181.67 L233.11,211.19 L233.66,188.52 L234.21,184.54 L234.76,193.25 L235.31,210.10 L235.87,187.94 L236.42,188.57" stroke="#0a0a0a" stroke-width="1.6"/>
<path d="M53.00,179.20 L53.55,168.08 L54.10,178.62 L54.65,185.41 L55.20,176.68 L55.75,190.91 L56.30,185.11 L56.86,173.55 L57.41,178.24 L57.96,172.09 L58.51,179.61 L59.06,170.73 L59.61,166.75 L60.16,175.94 L60.71,176.14 L61.26,178.08 L61.81,174.43 L62.36,179.24 L62.91,174.07 L63.47,174.38 L64.02,169.77 L64.57,179.98 L65.12,176.95 L65.67,178.51 L66.22,171.51 L66.77,176.03 L67.32,177.84 L67.87,177.12 L68.42,171.08 L68.97,166.68 L69.52,177.58 L70.07,171.89 L70.63,177.17 L71.18,171.65 L71.73,177.77 L72.28,174.51 L72.83,174.57 L73.38,179.84 L73.93,182.93 L74.48,179.47 L75.03,181.52 L75.58,185.92 L76.13,175.24 L76.68,178.78 L77.24,174.91 L77.79,174.08 L78.34,179.07 L78.89,181.49 L79.44,178.12 L79.99,180.24 L80.54,179.51 L81.09,182.41 L81.64,182.40 L82.19,178.12 L82.74,179.08 L83.29,179.23 L83.84,177.58 L84.40,179.81 L84.95,179.20 L85.50,177.94 L86.05,177.49 L86.60,177.35 L87.15,178.14 L87.70,176.37 L88.25,176.37 L88.80,176.46 L89.35,175.62 L89.90,175.24 L90.45,175.33 L91.01,173.91 L91.56,174.37 L92.11,173.23 L92.66,174.32 L93.21,173.46 L93.76,172.86 L94.31,173.88 L94.86,174.15 L95.41,173.05 L95.96,172.00 L96.51,171.86 L97.06,172.67 L97.61,171.17 L98.17,171.12 L98.72,170.59 L99.27,171.31 L99.82,170.88 L100.37,170.34 L100.92,169.81 L101.47,170.37 L102.02,169.62 L102.57,169.54 L103.12,169.11 L103.67,169.78 L104.22,168.85 L104.78,169.02 L105.33,168.61 L105.88,168.42 L106.43,168.51 L106.98,168.33 L107.53,169.33 L108.08,168.95 L108.63,167.87 L109.18,168.49 L109.73,167.94 L110.28,168.09 L110.83,168.33 L111.38,168.95 L111.94,168.74 L112.49,168.03 L113.04,167.85 L113.59,168.39 L114.14,169.04 L114.69,168.94 L115.24,168.35 L115.79,168.92 L116.34,167.66 L116.89,169.65 L117.44,168.63 L117.99,169.91 L118.55,170.36 L119.10,170.55 L119.65,169.88 L120.20,170.52 L120.75,170.93 L121.30,171.18 L121.85,171.62 L122.40,171.55 L122.95,172.42 L123.50,173.22 L124.05,172.51 L124.60,172.52 L125.15,173.03 L125.71,172.92 L126.26,174.50 L126.81,174.32 L127.36,174.84 L127.91,175.38 L128.46,175.25 L129.01,174.94 L129.56,175.85 L130.11,177.75 L130.66,176.19 L131.21,176.76 L131.76,177.37 L132.32,178.08 L132.87,178.24 L133.42,179.14 L133.97,178.87 L134.52,179.49 L135.07,180.49 L135.62,180.60 L136.17,181.57 L136.72,180.61 L137.27,181.55 L137.82,182.15 L138.37,183.04 L138.92,183.04 L139.48,183.57 L140.03,183.91 L140.58,184.76 L141.13,184.61 L141.68,184.67 L142.23,185.60 L142.78,184.92 L143.33,185.92 L143.88,186.69 L144.43,187.99 L144.98,186.22 L145.53,186.90 L146.09,187.91 L146.64,188.72 L147.19,190.23 L147.74,187.45 L148.29,189.27 L148.84,189.79 L149.39,190.50 L149.94,191.09 L150.49,190.69 L151.04,191.54 L151.59,191.37 L152.14,191.25 L152.69,191.28 L153.25,192.37 L153.80,192.01 L154.35,192.47 L154.90,193.07 L155.45,193.94 L156.00,194.26 L156.55,193.87 L157.10,194.48 L157.65,194.66 L158.20,194.66 L158.75,194.61 L159.30,195.34 L159.86,195.14 L160.41,196.35 L160.96,196.17 L161.51,194.40 L162.06,195.20 L162.61,195.77 L163.16,197.59 L163.71,196.69 L164.26,196.74 L164.81,198.21 L165.36,197.20 L165.91,197.75 L166.46,198.19 L167.02,198.17 L167.57,196.56 L168.12,196.65 L168.67,198.83 L169.22,198.59 L169.77,199.68 L170.32,198.94 L170.87,198.13 L171.42,198.41 L171.97,198.68 L172.52,199.24 L173.07,199.37 L173.63,199.45 L174.18,199.80 L174.73,198.95 L175.28,199.25 L175.83,199.24 L176.38,199.41 L176.93,199.76 L177.48,199.14 L178.03,199.43 L178.58,199.42 L179.13,200.14 L179.68,199.49 L180.23,201.94 L180.79,199.81 L181.34,198.84 L181.89,200.38 L182.44,200.11 L182.99,200.16 L183.54,197.34 L184.09,198.48 L184.64,200.18 L185.19,200.04 L185.74,200.81 L186.29,202.00 L186.84,197.51 L187.40,199.12 L187.95,199.40 L188.50,205.35 L189.05,199.42 L189.60,199.57 L190.15,202.15 L190.70,199.21 L191.25,194.63 L191.80,199.25 L192.35,199.29 L192.90,207.53 L193.45,201.38 L194.00,198.22 L194.56,204.36 L195.11,197.60 L195.66,206.47 L196.21,202.94 L196.76,194.25 L197.31,202.10 L197.86,199.59 L198.41,202.95 L198.96,199.70 L199.51,201.23 L200.06,202.94 L200.61,201.46 L201.17,200.27 L201.72,206.24 L202.27,202.65 L202.82,204.05 L203.37,196.40 L203.92,204.13 L204.47,198.10 L205.02,202.47 L205.57,204.37 L206.12,196.88 L206.67,197.25 L207.22,196.52 L207.77,190.55 L208.33,188.09 L208.88,205.54 L209.43,190.87 L209.98,200.28 L210.53,194.95 L211.08,192.99 L211.63,199.68 L212.18,197.86 L212.73,196.50 L213.28,199.46 L213.83,211.80 L214.38,187.17 L214.94,204.69 L215.49,207.44 L216.04,180.05 L216.59,213.90 L217.14,179.26 L217.69,191.34 L218.24,200.89 L218.79,185.82 L219.34,192.18 L219.89,207.24 L220.44,214.38 L220.99,205.59 L221.54,193.75 L222.10,180.65 L222.65,212.66 L223.20,179.58 L223.75,196.29 L224.30,185.89 L224.85,204.22 L225.40,218.64 L225.95,210.32 L226.50,195.79 L227.05,209.36 L227.60,202.45 L228.15,208.77 L228.71,205.01 L229.26,208.36 L229.81,195.48 L230.36,209.33 L230.91,199.12 L231.46,189.73 L232.01,191.23 L232.56,200.43 L233.11,185.20 L233.66,178.42 L234.21,189.24 L234.76,198.40 L235.31,172.12 L235.87,177.52 L236.42,210.49" stroke="#0a0a0a" stroke-width="1.6"/>
<path d="M53.00,183.93 L53.55,187.43 L54.10,182.27 L54.65,188.98 L55.20,183.33 L55.75,185.17 L56.30,184.31 L56.86,182.86 L57.41,171.70 L57.96,169.19 L58.51,180.39 L59.06,179.62 L59.61,179.82 L60.16,187.06 L60.71,181.64 L61.26,178.19 L61.81,180.61 L62.36,183.01 L62.91,176.80 L63.47,179.63 L64.02,172.82 L64.57,180.52 L65.12,181.19 L65.67,180.04 L66.22,178.87 L66.77,182.61 L67.32,178.48 L67.87,180.62 L68.42,181.47 L68.97,177.31 L69.52,183.50 L70.07,187.00 L70.63,180.57 L71.18,180.92 L71.73,180.28 L72.28,182.02 L72.83,176.46 L73.38,182.03 L73.93,186.33 L74.48,182.30 L75.03,184.45 L75.58,188.71 L76.13,183.55 L76.68,183.22 L77.24,184.25 L77.79,184.42 L78.34,185.89 L78.89,186.17 L79.44,183.70 L79.99,185.51 L80.54,181.53 L81.09,185.44 L81.64,187.29 L82.19,184.30 L82.74,183.83 L83.29,186.30 L83.84,183.68 L84.40,185.18 L84.95,186.10 L85.50,182.42 L86.05,183.98 L86.60,182.71 L87.15,183.22 L87.70,182.34 L88.25,182.68 L88.80,180.62 L89.35,181.37 L89.90,180.79 L90.45,180.41 L91.01,180.24 L91.56,181.26 L92.11,180.01 L92.66,179.48 L93.21,179.14 L93.76,179.68 L94.31,178.29 L94.86,178.39 L95.41,178.32 L95.96,178.00 L96.51,178.53 L97.06,178.07 L97.61,177.07 L98.17,177.08 L98.72,175.71 L99.27,175.51 L99.82,177.03 L100.37,176.92 L100.92,176.70 L101.47,175.50 L102.02,176.35 L102.57,175.95 L103.12,177.12 L103.67,175.03 L104.22,175.70 L104.78,174.79 L105.33,176.65 L105.88,175.99 L106.43,175.61 L106.98,175.43 L107.53,175.49 L108.08,176.45 L108.63,176.63 L109.18,174.98 L109.73,174.77 L110.28,175.59 L110.83,175.04 L111.38,175.88 L111.94,174.79 L112.49,174.87 L113.04,175.86 L113.59,175.07 L114.14,174.30 L114.69,175.82 L115.24,175.21 L115.79,176.84 L116.34,176.27 L116.89,176.34 L117.44,174.96 L117.99,175.73 L118.55,176.29 L119.10,176.61 L119.65,176.55 L120.20,177.21 L120.75,177.04 L121.30,177.30 L121.85,177.85 L122.40,177.89 L122.95,179.63 L123.50,177.20 L124.05,178.78 L124.60,179.00 L125.15,179.01 L125.71,179.06 L126.26,179.47 L126.81,180.33 L127.36,178.97 L127.91,180.49 L128.46,181.20 L129.01,182.82 L129.56,181.50 L130.11,182.74 L130.66,182.27 L131.21,182.68 L131.76,183.41 L132.32,183.79 L132.87,184.94 L133.42,184.94 L133.97,185.06 L134.52,184.96 L135.07,184.88 L135.62,184.63 L136.17,184.97 L136.72,185.82 L137.27,185.08 L137.82,185.22 L138.37,188.61 L138.92,187.70 L139.48,188.02 L140.03,188.80 L140.58,188.07 L141.13,188.28 L141.68,189.01 L142.23,190.38 L142.78,188.47 L143.33,189.15 L143.88,189.80 L144.43,191.30 L144.98,192.83 L145.53,191.06 L146.09,191.85 L146.64,191.99 L147.19,191.86 L147.74,192.16 L148.29,194.32 L148.84,193.06 L149.39,192.17 L149.94,194.22 L150.49,194.51 L151.04,194.43 L151.59,194.32 L152.14,194.38 L152.69,195.45 L153.25,195.47 L153.80,196.53 L154.35,196.54 L154.90,196.24 L155.45,196.79 L156.00,197.29 L156.55,196.93 L157.10,196.47 L157.65,195.92 L158.20,196.76 L158.75,197.28 L159.30,199.16 L159.86,198.94 L160.41,198.45 L160.96,198.31 L161.51,198.90 L162.06,198.58 L162.61,199.07 L163.16,198.75 L163.71,200.40 L164.26,198.52 L164.81,199.84 L165.36,201.50 L165.91,201.06 L166.46,200.46 L167.02,200.19 L167.57,200.15 L168.12,200.96 L168.67,200.63 L169.22,199.23 L169.77,200.65 L170.32,201.78 L170.87,202.58 L171.42,200.39 L171.97,201.47 L172.52,201.42 L173.07,199.90 L173.63,201.86 L174.18,202.14 L174.73,201.69 L175.28,202.00 L175.83,201.92 L176.38,202.42 L176.93,202.12 L177.48,202.17 L178.03,201.98 L178.58,201.73 L179.13,201.45 L179.68,204.09 L180.23,202.13 L180.79,202.80 L181.34,202.75 L181.89,202.17 L182.44,201.56 L182.99,203.74 L183.54,202.64 L184.09,200.98 L184.64,203.65 L185.19,202.34 L185.74,200.76 L186.29,202.17 L186.84,203.71 L187.40,202.81 L187.95,201.13 L188.50,207.59 L189.05,203.30 L189.60,199.55 L190.15,202.22 L190.70,203.42 L191.25,204.70 L191.80,203.66 L192.35,203.61 L192.90,200.82 L193.45,203.54 L194.00,195.59 L194.56,195.32 L195.11,205.40 L195.66,203.95 L196.21,203.00 L196.76,201.25 L197.31,202.36 L197.86,208.38 L198.41,201.75 L198.96,204.04 L199.51,207.32 L200.06,202.85 L200.61,214.00 L201.17,207.84 L201.72,214.65 L202.27,202.32 L202.82,200.90 L203.37,203.09 L203.92,204.85 L204.47,194.39 L205.02,203.78 L205.57,200.06 L206.12,204.78 L206.67,217.72 L207.22,200.52 L207.77,204.53 L208.33,195.74 L208.88,204.44 L209.43,207.69 L209.98,201.46 L210.53,204.72 L211.08,203.42 L211.63,198.42 L212.18,204.86 L212.73,201.36 L213.28,202.62 L213.83,206.46 L214.38,206.09 L214.94,206.18 L215.49,221.00 L216.04,216.59 L216.59,204.91 L217.14,208.24 L217.69,202.89 L218.24,213.08 L218.79,198.68 L219.34,203.30 L219.89,210.85 L220.44,201.72 L220.99,205.53 L221.54,188.40 L222.10,216.31 L222.65,177.40 L223.20,197.80 L223.75,201.65 L224.30,194.29 L224.85,208.13 L225.40,175.29 L225.95,194.21 L226.50,205.77 L227.05,201.49 L227.60,176.21 L228.15,206.28 L228.71,177.01 L229.26,205.88 L229.81,221.00 L230.36,221.00 L230.91,206.87 L231.46,221.00 L232.01,192.53 L232.56,190.36 L233.11,194.25 L233.66,168.69 L234.21,221.00 L234.76,221.00 L235.31,204.64 L235.87,183.42 L236.42,216.27" stroke="#0a0a0a" stroke-width="1.6"/>
<path d="M53.00,183.35 L53.55,178.19 L54.10,194.13 L54.65,189.13 L55.20,187.60 L55.75,194.41 L56.30,199.71 L56.86,181.10 L57.41,184.95 L57.96,183.81 L58.51,191.28 L59.06,185.91 L59.61,187.28 L60.16,190.16 L60.71,187.35 L61.26,186.81 L61.81,185.66 L62.36,185.35 L62.91,180.03 L63.47,188.75 L64.02,182.70 L64.57,178.61 L65.12,180.29 L65.67,184.90 L66.22,182.89 L66.77,181.80 L67.32,188.78 L67.87,189.32 L68.42,188.36 L68.97,188.43 L69.52,186.03 L70.07,188.12 L70.63,187.26 L71.18,184.97 L71.73,187.96 L72.28,184.70 L72.83,186.72 L73.38,194.21 L73.93,190.47 L74.48,188.35 L75.03,184.95 L75.58,186.73 L76.13,188.22 L76.68,190.81 L77.24,190.49 L77.79,189.40 L78.34,188.43 L78.89,186.36 L79.44,189.07 L79.99,188.80 L80.54,185.04 L81.09,189.12 L81.64,185.22 L82.19,187.85 L82.74,192.37 L83.29,188.05 L83.84,188.22 L84.40,186.35 L84.95,188.68 L85.50,188.13 L86.05,187.89 L86.60,188.08 L87.15,187.43 L87.70,187.47 L88.25,186.99 L88.80,187.04 L89.35,186.45 L89.90,186.27 L90.45,187.14 L91.01,185.05 L91.56,184.13 L92.11,185.36 L92.66,184.58 L93.21,184.33 L93.76,186.10 L94.31,183.89 L94.86,184.63 L95.41,184.14 L95.96,184.32 L96.51,183.30 L97.06,183.29 L97.61,182.38 L98.17,182.82 L98.72,182.52 L99.27,182.19 L99.82,183.03 L100.37,184.19 L100.92,182.43 L101.47,182.36 L102.02,181.95 L102.57,181.89 L103.12,182.13 L103.67,181.62 L104.22,181.68 L104.78,182.32 L105.33,181.44 L105.88,182.72 L106.43,181.94 L106.98,181.92 L107.53,182.16 L108.08,179.80 L108.63,181.56 L109.18,180.76 L109.73,181.35 L110.28,180.67 L110.83,182.35 L111.38,180.39 L111.94,181.22 L112.49,181.22 L113.04,181.68 L113.59,181.38 L114.14,181.54 L114.69,182.33 L115.24,183.29 L115.79,182.28 L116.34,181.83 L116.89,181.87 L117.44,182.69 L117.99,182.38 L118.55,182.05 L119.10,182.56 L119.65,181.98 L120.20,182.69 L120.75,182.92 L121.30,183.10 L121.85,181.91 L122.40,183.22 L122.95,185.08 L123.50,184.17 L124.05,184.21 L124.60,184.40 L125.15,185.00 L125.71,185.67 L126.26,185.84 L126.81,183.97 L127.36,186.13 L127.91,186.17 L128.46,186.53 L129.01,185.85 L129.56,186.68 L130.11,187.64 L130.66,187.07 L131.21,187.54 L131.76,188.32 L132.32,188.35 L132.87,189.39 L133.42,189.07 L133.97,189.26 L134.52,190.18 L135.07,189.47 L135.62,190.90 L136.17,190.73 L136.72,192.28 L137.27,190.64 L137.82,192.10 L138.37,191.07 L138.92,191.60 L139.48,192.11 L140.03,193.30 L140.58,193.21 L141.13,192.57 L141.68,193.71 L142.23,193.79 L142.78,194.27 L143.33,193.49 L143.88,194.62 L144.43,195.39 L144.98,194.46 L145.53,195.13 L146.09,196.05 L146.64,196.26 L147.19,195.87 L147.74,196.16 L148.29,196.08 L148.84,196.57 L149.39,196.64 L149.94,197.67 L150.49,197.00 L151.04,199.09 L151.59,197.97 L152.14,198.95 L152.69,198.43 L153.25,198.64 L153.80,199.86 L154.35,199.71 L154.90,199.70 L155.45,200.49 L156.00,198.79 L156.55,198.48 L157.10,201.28 L157.65,198.84 L158.20,200.08 L158.75,200.78 L159.30,200.29 L159.86,200.41 L160.41,201.97 L160.96,201.61 L161.51,201.47 L162.06,201.52 L162.61,201.72 L163.16,201.75 L163.71,202.85 L164.26,202.05 L164.81,202.55 L165.36,202.42 L165.91,201.89 L166.46,202.77 L167.02,201.26 L167.57,202.53 L168.12,203.46 L168.67,202.64 L169.22,202.52 L169.77,203.93 L170.32,203.41 L170.87,203.28 L171.42,202.00 L171.97,203.48 L172.52,203.29 L173.07,204.85 L173.63,203.47 L174.18,203.63 L174.73,203.79 L175.28,204.75 L175.83,204.29 L176.38,203.86 L176.93,204.42 L177.48,205.84 L178.03,203.40 L178.58,204.66 L179.13,202.68 L179.68,204.17 L180.23,204.01 L180.79,204.13 L181.34,203.98 L181.89,202.88 L182.44,204.46 L182.99,204.71 L183.54,203.56 L184.09,206.04 L184.64,205.15 L185.19,205.50 L185.74,204.04 L186.29,203.06 L186.84,205.03 L187.40,206.94 L187.95,205.35 L188.50,202.35 L189.05,209.19 L189.60,199.96 L190.15,203.81 L190.70,205.08 L191.25,204.52 L191.80,206.71 L192.35,201.91 L192.90,204.76 L193.45,203.68 L194.00,197.69 L194.56,206.03 L195.11,205.63 L195.66,205.67 L196.21,203.27 L196.76,210.12 L197.31,201.74 L197.86,195.73 L198.41,204.09 L198.96,211.06 L199.51,207.19 L200.06,207.30 L200.61,205.16 L201.17,208.11 L201.72,193.58 L202.27,207.11 L202.82,203.77 L203.37,205.97 L203.92,216.30 L204.47,205.61 L205.02,218.75 L205.57,200.92 L206.12,206.20 L206.67,208.01 L207.22,220.15 L207.77,206.88 L208.33,202.66 L208.88,199.77 L209.43,214.37 L209.98,200.33 L210.53,209.95 L211.08,199.99 L211.63,201.11 L212.18,207.94 L212.73,203.37 L213.28,212.84 L213.83,198.44 L214.38,185.73 L214.94,201.37 L215.49,208.60 L216.04,221.00 L216.59,191.60 L217.14,191.39 L217.69,202.33 L218.24,210.99 L218.79,207.11 L219.34,217.28 L219.89,209.69 L220.44,208.30 L220.99,216.58 L221.54,199.37 L222.10,207.93 L222.65,202.82 L223.20,205.80 L223.75,206.76 L224.30,212.01 L224.85,215.20 L225.40,213.88 L225.95,221.00 L226.50,208.42 L227.05,198.96 L227.60,212.00 L228.15,221.00 L228.71,207.87 L229.26,203.41 L229.81,215.24 L230.36,202.05 L230.91,221.00 L231.46,206.21 L232.01,216.09 L232.56,200.31 L233.11,221.00 L233.66,221.00 L234.21,207.10 L234.76,205.54 L235.31,196.08 L235.87,190.70 L236.42,212.29" stroke="#0a0a0a" stroke-width="1.6"/>
<path d="M53.00,184.51 L53.55,200.98 L54.10,202.23 L54.65,196.88 L55.20,200.02 L55.75,195.00 L56.30,193.26 L56.86,194.65 L57.41,200.08 L57.96,196.43 L58.51,182.38 L59.06,198.09 L59.61,192.46 L60.16,205.39 L60.71,192.77 L61.26,193.86 L61.81,194.73 L62.36,192.79 L62.91,194.17 L63.47,192.96 L64.02,184.50 L64.57,198.54 L65.12,194.71 L65.67,193.44 L66.22,192.42 L66.77,197.18 L67.32,189.75 L67.87,196.15 L68.42,192.21 L68.97,194.12 L69.52,193.08 L70.07,190.31 L70.63,192.53 L71.18,195.53 L71.73,198.80 L72.28,193.30 L72.83,199.81 L73.38,194.32 L73.93,197.43 L74.48,199.35 L75.03,200.58 L75.58,197.97 L76.13,194.01 L76.68,194.15 L77.24,196.59 L77.79,197.01 L78.34,197.35 L78.89,196.72 L79.44,196.23 L79.99,198.80 L80.54,197.62 L81.09,195.80 L81.64,195.49 L82.19,194.49 L82.74,195.15 L83.29,196.74 L83.84,193.18 L84.40,196.52 L84.95,197.59 L85.50,194.76 L86.05,195.61 L86.60,196.34 L87.15,195.40 L87.70,194.19 L88.25,195.64 L88.80,193.54 L89.35,193.69 L89.90,193.93 L90.45,194.08 L91.01,194.58 L91.56,192.31 L92.11,191.94 L92.66,191.80 L93.21,193.10 L93.76,192.94 L94.31,192.76 L94.86,191.13 L95.41,191.97 L95.96,193.21 L96.51,192.05 L97.06,192.46 L97.61,193.00 L98.17,191.96 L98.72,192.03 L99.27,192.73 L99.82,189.93 L100.37,189.83 L100.92,192.02 L101.47,191.19 L102.02,191.00 L102.57,191.08 L103.12,191.86 L103.67,190.67 L104.22,189.33 L104.78,191.28 L105.33,190.93 L105.88,190.80 L106.43,189.96 L106.98,190.82 L107.53,189.63 L108.08,192.03 L108.63,190.91 L109.18,190.29 L109.73,189.83 L110.28,189.70 L110.83,189.81 L111.38,188.92 L111.94,189.77 L112.49,189.72 L113.04,191.23 L113.59,190.96 L114.14,189.76 L114.69,190.80 L115.24,189.98 L115.79,190.68 L116.34,190.76 L116.89,191.08 L117.44,190.82 L117.99,191.96 L118.55,191.34 L119.10,192.22 L119.65,191.51 L120.20,191.39 L120.75,190.93 L121.30,192.02 L121.85,192.24 L122.40,191.42 L122.95,192.40 L123.50,192.35 L124.05,191.42 L124.60,194.39 L125.15,192.47 L125.71,192.79 L126.26,194.71 L126.81,193.65 L127.36,192.19 L127.91,193.74 L128.46,193.29 L129.01,194.22 L129.56,194.90 L130.11,194.75 L130.66,193.88 L131.21,195.20 L131.76,195.83 L132.32,195.70 L132.87,195.18 L133.42,195.42 L133.97,196.63 L134.52,197.34 L135.07,197.38 L135.62,196.56 L136.17,196.37 L136.72,197.96 L137.27,198.26 L137.82,197.81 L138.37,198.70 L138.92,198.43 L139.48,199.02 L140.03,198.78 L140.58,199.38 L141.13,198.61 L141.68,199.13 L142.23,200.03 L142.78,199.92 L143.33,200.38 L143.88,200.18 L144.43,200.69 L144.98,201.36 L145.53,201.77 L146.09,201.09 L146.64,201.88 L147.19,200.88 L147.74,201.05 L148.29,201.57 L148.84,201.71 L149.39,203.83 L149.94,201.97 L150.49,201.98 L151.04,202.97 L151.59,201.80 L152.14,203.42 L152.69,203.15 L153.25,203.56 L153.80,203.55 L154.35,203.90 L154.90,203.75 L155.45,205.25 L156.00,203.12 L156.55,203.95 L157.10,202.94 L157.65,204.94 L158.20,204.63 L158.75,204.85 L159.30,204.52 L159.86,205.09 L160.41,205.40 L160.96,204.32 L161.51,205.37 L162.06,206.00 L162.61,205.64 L163.16,206.04 L163.71,206.19 L164.26,205.48 L164.81,204.94 L165.36,207.76 L165.91,206.95 L166.46,206.53 L167.02,206.56 L167.57,206.91 L168.12,205.99 L168.67,206.73 L169.22,207.04 L169.77,206.84 L170.32,206.62 L170.87,206.52 L171.42,206.70 L171.97,206.21 L172.52,206.63 L173.07,208.03 L173.63,206.67 L174.18,207.23 L174.73,206.89 L175.28,207.71 L175.83,208.03 L176.38,207.71 L176.93,207.89 L177.48,205.95 L178.03,207.38 L178.58,205.99 L179.13,207.48 L179.68,206.32 L180.23,207.88 L180.79,207.83 L181.34,207.51 L181.89,205.90 L182.44,207.59 L182.99,205.28 L183.54,206.74 L184.09,206.49 L184.64,205.58 L185.19,207.62 L185.74,209.19 L186.29,209.60 L186.84,206.69 L187.40,207.32 L187.95,207.83 L188.50,207.42 L189.05,203.83 L189.60,205.90 L190.15,204.33 L190.70,206.45 L191.25,207.96 L191.80,207.60 L192.35,209.52 L192.90,207.87 L193.45,209.39 L194.00,209.36 L194.56,208.26 L195.11,209.89 L195.66,209.23 L196.21,211.90 L196.76,212.05 L197.31,208.23 L197.86,207.20 L198.41,211.76 L198.96,209.37 L199.51,209.25 L200.06,209.91 L200.61,206.62 L201.17,204.22 L201.72,204.83 L202.27,215.87 L202.82,196.75 L203.37,203.09 L203.92,195.29 L204.47,208.99 L205.02,211.78 L205.57,204.98 L206.12,211.48 L206.67,193.59 L207.22,198.94 L207.77,202.30 L208.33,192.54 L208.88,221.00 L209.43,202.21 L209.98,199.87 L210.53,204.04 L211.08,221.00 L211.63,211.65 L212.18,212.83 L212.73,206.59 L213.28,221.00 L213.83,208.42 L214.38,218.35 L214.94,212.84 L215.49,203.34 L216.04,206.65 L216.59,212.19 L217.14,205.95 L217.69,215.77 L218.24,206.61 L218.79,197.51 L219.34,193.66 L219.89,205.68 L220.44,191.80 L220.99,189.69 L221.54,213.23 L222.10,201.46 L222.65,196.00 L223.20,212.07 L223.75,215.49 L224.30,213.39 L224.85,203.28 L225.40,203.31 L225.95,216.55 L226.50,220.37 L227.05,182.62 L227.60,221.00 L228.15,208.49 L228.71,191.73 L229.26,191.51 L229.81,213.41 L230.36,211.13 L230.91,201.94 L231.46,217.40 L232.01,204.60 L232.56,221.00 L233.11,190.68 L233.66,213.39 L234.21,198.61 L234.76,218.60 L235.31,217.26 L235.87,200.55 L236.42,207.16" stroke="#0a0a0a" stroke-width="1.6"/>
<path d="M53.00,198.47 L53.55,202.60 L54.10,193.84 L54.65,202.25 L55.20,206.30 L55.75,213.07 L56.30,202.36 L56.86,204.31 L57.41,191.29 L57.96,196.49 L58.51,192.38 L59.06,203.02 L59.61,200.58 L60.16,203.72 L60.71,203.48 L61.26,200.21 L61.81,200.13 L62.36,200.23 L62.91,199.12 L63.47,195.36 L64.02,198.44 L64.57,194.47 L65.12,199.36 L65.67,197.40 L66.22,197.73 L66.77,201.43 L67.32,200.57 L67.87,205.37 L68.42,198.59 L68.97,199.59 L69.52,202.41 L70.07,198.56 L70.63,201.14 L71.18,195.27 L71.73,200.44 L72.28,196.47 L72.83,201.57 L73.38,195.34 L73.93,202.22 L74.48,202.89 L75.03,201.30 L75.58,207.49 L76.13,203.47 L76.68,202.53 L77.24,201.11 L77.79,201.88 L78.34,205.72 L78.89,202.45 L79.44,199.02 L79.99,197.65 L80.54,196.59 L81.09,201.15 L81.64,199.51 L82.19,200.59 L82.74,202.60 L83.29,200.35 L83.84,201.20 L84.40,202.78 L84.95,200.63 L85.50,200.65 L86.05,200.19 L86.60,198.65 L87.15,200.49 L87.70,200.63 L88.25,200.40 L88.80,198.14 L89.35,199.87 L89.90,199.65 L90.45,199.63 L91.01,198.97 L91.56,198.93 L92.11,198.28 L92.66,198.19 L93.21,198.05 L93.76,199.08 L94.31,197.85 L94.86,198.44 L95.41,198.03 L95.96,196.63 L96.51,198.27 L97.06,198.55 L97.61,199.11 L98.17,197.26 L98.72,197.56 L99.27,197.43 L99.82,197.29 L100.37,197.47 L100.92,197.39 L101.47,196.70 L102.02,197.76 L102.57,196.01 L103.12,196.42 L103.67,197.12 L104.22,196.82 L104.78,196.11 L105.33,195.93 L105.88,197.40 L106.43,196.46 L106.98,196.65 L107.53,196.10 L108.08,196.66 L108.63,196.30 L109.18,196.54 L109.73,196.84 L110.28,196.78 L110.83,195.89 L111.38,196.27 L111.94,196.82 L112.49,196.49 L113.04,196.53 L113.59,198.07 L114.14,198.11 L114.69,195.98 L115.24,196.69 L115.79,196.36 L116.34,197.32 L116.89,196.78 L117.44,196.63 L117.99,196.13 L118.55,196.87 L119.10,197.04 L119.65,196.73 L120.20,197.85 L120.75,195.86 L121.30,197.73 L121.85,197.01 L122.40,198.63 L122.95,197.60 L123.50,198.48 L124.05,198.53 L124.60,199.84 L125.15,198.32 L125.71,197.59 L126.26,198.92 L126.81,198.64 L127.36,199.02 L127.91,199.26 L128.46,198.84 L129.01,199.76 L129.56,198.04 L130.11,200.14 L130.66,200.32 L131.21,201.49 L131.76,200.22 L132.32,201.29 L132.87,202.18 L133.42,200.35 L133.97,201.03 L134.52,201.20 L135.07,201.59 L135.62,201.80 L136.17,201.67 L136.72,200.25 L137.27,202.84 L137.82,202.64 L138.37,201.75 L138.92,201.63 L139.48,203.10 L140.03,203.20 L140.58,202.97 L141.13,202.54 L141.68,203.89 L142.23,203.30 L142.78,202.14 L143.33,205.45 L143.88,204.06 L144.43,204.36 L144.98,204.45 L145.53,205.55 L146.09,205.11 L146.64,205.06 L147.19,205.28 L147.74,205.40 L148.29,205.13 L148.84,204.55 L149.39,207.14 L149.94,206.43 L150.49,207.24 L151.04,206.58 L151.59,206.39 L152.14,204.93 L152.69,206.71 L153.25,206.32 L153.80,206.87 L154.35,206.32 L154.90,206.06 L155.45,207.15 L156.00,205.53 L156.55,206.91 L157.10,207.41 L157.65,207.70 L158.20,206.07 L158.75,208.08 L159.30,207.58 L159.86,207.55 L160.41,207.70 L160.96,207.90 L161.51,208.72 L162.06,209.16 L162.61,208.51 L163.16,209.72 L163.71,208.16 L164.26,207.97 L164.81,208.19 L165.36,208.92 L165.91,209.43 L166.46,208.86 L167.02,209.32 L167.57,210.11 L168.12,209.25 L168.67,208.92 L169.22,209.36 L169.77,209.52 L170.32,209.66 L170.87,209.31 L171.42,209.35 L171.97,209.54 L172.52,209.20 L173.07,208.09 L173.63,209.13 L174.18,209.54 L174.73,208.79 L175.28,210.75 L175.83,210.08 L176.38,209.50 L176.93,209.10 L177.48,210.80 L178.03,210.59 L178.58,209.77 L179.13,209.98 L179.68,211.60 L180.23,209.77 L180.79,209.70 L181.34,209.92 L181.89,211.01 L182.44,209.95 L182.99,207.15 L183.54,212.82 L184.09,209.81 L184.64,209.86 L185.19,211.77 L185.74,211.47 L186.29,210.68 L186.84,209.93 L187.40,208.90 L187.95,214.59 L188.50,213.78 L189.05,212.13 L189.60,211.48 L190.15,204.53 L190.70,208.13 L191.25,211.38 L191.80,206.40 L192.35,211.39 L192.90,207.98 L193.45,212.34 L194.00,207.27 L194.56,210.06 L195.11,209.32 L195.66,208.12 L196.21,210.09 L196.76,213.05 L197.31,211.39 L197.86,210.88 L198.41,201.57 L198.96,220.15 L199.51,210.47 L200.06,206.56 L200.61,212.18 L201.17,209.28 L201.72,207.08 L202.27,211.28 L202.82,197.93 L203.37,203.04 L203.92,221.00 L204.47,208.55 L205.02,207.54 L205.57,214.45 L206.12,205.71 L206.67,210.15 L207.22,205.98 L207.77,208.64 L208.33,202.95 L208.88,209.83 L209.43,210.94 L209.98,210.97 L210.53,202.37 L211.08,197.57 L211.63,210.51 L212.18,206.89 L212.73,209.58 L213.28,215.70 L213.83,196.13 L214.38,190.45 L214.94,205.46 L215.49,206.31 L216.04,218.40 L216.59,209.73 L217.14,192.62 L217.69,199.95 L218.24,210.40 L218.79,191.59 L219.34,221.00 L219.89,206.35 L220.44,208.60 L220.99,185.69 L221.54,203.42 L222.10,213.51 L222.65,200.90 L223.20,221.00 L223.75,209.92 L224.30,207.60 L224.85,216.18 L225.40,207.36 L225.95,197.16 L226.50,221.00 L227.05,208.91 L227.60,210.10 L228.15,207.76 L228.71,204.58 L229.26,212.73 L229.81,211.41 L230.36,190.26 L230.91,221.00 L231.46,190.52 L232.01,214.65 L232.56,221.00 L233.11,221.00 L233.66,216.52 L234.21,208.00 L234.76,197.69 L235.31,221.00 L235.87,210.91 L236.42,194.80" stroke="#0a0a0a" stroke-width="1.6"/>
<path d="M53.00,203.84 L53.55,203.72 L54.10,206.96 L54.65,208.51 L55.20,202.02 L55.75,208.35 L56.30,206.82 L56.86,198.98 L57.41,199.29 L57.96,206.01 L58.51,200.56 L59.06,202.89 L59.61,203.45 L60.16,202.14 L60.71,195.12 L61.26,202.57 L61.81,202.99 L62.36,214.69 L62.91,203.05 L63.47,205.98 L64.02,194.02 L64.57,208.27 L65.12,205.27 L65.67,202.76 L66.22,207.53 L66.77,205.48 L67.32,203.02 L67.87,197.50 L68.42,205.47 L68.97,206.38 L69.52,203.47 L70.07,199.95 L70.63,204.93 L71.18,202.16 L71.73,198.97 L72.28,203.78 L72.83,204.88 L73.38,207.71 L73.93,200.31 L74.48,205.10 L75.03,211.17 L75.58,207.07 L76.13,205.96 L76.68,204.53 L77.24,205.53 L77.79,210.90 L78.34,206.60 L78.89,205.85 L79.44,207.71 L79.99,205.91 L80.54,204.93 L81.09,205.01 L81.64,206.56 L82.19,208.96 L82.74,203.13 L83.29,203.92 L83.84,206.03 L84.40,204.05 L84.95,205.47 L85.50,205.06 L86.05,205.50 L86.60,205.64 L87.15,204.66 L87.70,204.24 L88.25,203.70 L88.80,204.58 L89.35,204.18 L89.90,204.57 L90.45,204.75 L91.01,205.11 L91.56,203.71 L92.11,203.57 L92.66,203.26 L93.21,204.72 L93.76,204.22 L94.31,202.97 L94.86,202.11 L95.41,203.31 L95.96,203.00 L96.51,203.53 L97.06,203.02 L97.61,203.11 L98.17,202.07 L98.72,204.32 L99.27,202.02 L99.82,202.29 L100.37,202.67 L100.92,202.41 L101.47,203.39 L102.02,203.96 L102.57,201.36 L103.12,201.92 L103.67,202.57 L104.22,201.83 L104.78,201.06 L105.33,202.56 L105.88,202.45 L106.43,201.51 L106.98,201.38 L107.53,202.43 L108.08,201.16 L108.63,202.20 L109.18,203.58 L109.73,202.11 L110.28,202.76 L110.83,201.31 L111.38,202.46 L111.94,201.55 L112.49,202.57 L113.04,202.03 L113.59,202.07 L114.14,201.59 L114.69,202.06 L115.24,203.02 L115.79,203.79 L116.34,202.66 L116.89,202.01 L117.44,202.55 L117.99,201.90 L118.55,202.59 L119.10,202.73 L119.65,202.64 L120.20,202.71 L120.75,202.80 L121.30,202.63 L121.85,203.23 L122.40,203.22 L122.95,203.04 L123.50,203.65 L124.05,201.71 L124.60,203.50 L125.15,205.04 L125.71,203.83 L126.26,203.28 L126.81,202.96 L127.36,204.20 L127.91,204.23 L128.46,203.64 L129.01,204.25 L129.56,204.45 L130.11,204.12 L130.66,203.75 L131.21,205.08 L131.76,204.91 L132.32,203.81 L132.87,205.25 L133.42,205.44 L133.97,205.41 L134.52,205.46 L135.07,204.01 L135.62,204.18 L136.17,205.77 L136.72,206.05 L137.27,205.97 L137.82,207.17 L138.37,206.42 L138.92,205.78 L139.48,207.13 L140.03,206.67 L140.58,207.01 L141.13,208.22 L141.68,206.68 L142.23,206.67 L142.78,207.21 L143.33,206.77 L143.88,207.28 L144.43,207.83 L144.98,208.25 L145.53,208.32 L146.09,208.50 L146.64,208.37 L147.19,208.38 L147.74,208.16 L148.29,209.05 L148.84,207.76 L149.39,210.26 L149.94,207.43 L150.49,208.90 L151.04,208.65 L151.59,208.07 L152.14,208.56 L152.69,208.92 L153.25,209.74 L153.80,209.21 L154.35,209.52 L154.90,209.41 L155.45,210.05 L156.00,209.80 L156.55,208.97 L157.10,209.31 L157.65,210.35 L158.20,209.46 L158.75,210.31 L159.30,210.29 L159.86,210.37 L160.41,210.11 L160.96,210.39 L161.51,209.85 L162.06,211.10 L162.61,211.84 L163.16,210.58 L163.71,210.57 L164.26,210.88 L164.81,209.28 L165.36,210.20 L165.91,211.08 L166.46,210.64 L167.02,211.47 L167.57,212.26 L168.12,210.94 L168.67,210.72 L169.22,211.10 L169.77,212.29 L170.32,212.13 L170.87,210.91 L171.42,209.79 L171.97,211.87 L172.52,212.81 L173.07,211.03 L173.63,212.79 L174.18,211.99 L174.73,211.14 L175.28,211.78 L175.83,212.05 L176.38,211.95 L176.93,212.68 L177.48,211.82 L178.03,211.07 L178.58,213.34 L179.13,211.55 L179.68,213.58 L180.23,209.78 L180.79,212.25 L181.34,211.40 L181.89,212.81 L182.44,211.14 L182.99,211.26 L183.54,213.54 L184.09,213.12 L184.64,213.75 L185.19,209.66 L185.74,209.83 L186.29,213.35 L186.84,209.77 L187.40,210.82 L187.95,207.34 L188.50,213.67 L189.05,211.78 L189.60,210.46 L190.15,210.94 L190.70,211.27 L191.25,215.24 L191.80,212.68 L192.35,214.58 L192.90,210.24 L193.45,211.02 L194.00,212.29 L194.56,214.15 L195.11,215.31 L195.66,214.03 L196.21,205.61 L196.76,212.77 L197.31,210.99 L197.86,209.08 L198.41,211.29 L198.96,211.57 L199.51,209.21 L200.06,211.43 L200.61,211.99 L201.17,215.04 L201.72,210.75 L202.27,210.47 L202.82,216.46 L203.37,212.59 L203.92,220.76 L204.47,218.86 L205.02,212.81 L205.57,211.37 L206.12,221.00 L206.67,211.93 L207.22,208.91 L207.77,209.85 L208.33,217.16 L208.88,203.96 L209.43,206.32 L209.98,210.44 L210.53,212.76 L211.08,204.19 L211.63,210.92 L212.18,218.40 L212.73,199.15 L213.28,210.99 L213.83,212.43 L214.38,213.99 L214.94,216.53 L215.49,214.34 L216.04,209.65 L216.59,216.52 L217.14,217.88 L217.69,221.00 L218.24,210.38 L218.79,206.52 L219.34,212.31 L219.89,188.36 L220.44,203.77 L220.99,205.55 L221.54,204.95 L222.10,218.24 L222.65,221.00 L223.20,217.01 L223.75,208.30 L224.30,221.00 L224.85,213.07 L225.40,221.00 L225.95,215.81 L226.50,221.00 L227.05,211.80 L227.60,209.14 L228.15,206.18 L228.71,201.54 L229.26,211.74 L229.81,204.86 L230.36,202.12 L230.91,214.63 L231.46,221.00 L232.01,219.21 L232.56,204.36 L233.11,212.16 L233.66,221.00 L234.21,192.36 L234.76,216.65 L235.31,197.76 L235.87,221.00 L236.42,205.61" stroke="#0a0a0a" stroke-width="1.6"/>
<path d="M53.00,208.78 L53.55,208.62 L54.10,212.53 L54.65,211.76 L55.20,209.42 L55.75,207.13 L56.30,210.25 L56.86,217.02 L57.41,207.28 L57.96,211.78 L58.51,208.33 L59.06,205.98 L59.61,208.94 L60.16,216.49 L60.71,205.19 L61.26,207.74 L61.81,218.28 L62.36,207.35 L62.91,207.73 L63.47,210.42 L64.02,202.26 L64.57,207.82 L65.12,213.31 L65.67,209.44 L66.22,213.40 L66.77,209.85 L67.32,207.52 L67.87,209.01 L68.42,211.65 L68.97,207.51 L69.52,208.93 L70.07,208.09 L70.63,206.00 L71.18,208.21 L71.73,208.16 L72.28,209.49 L72.83,215.45 L73.38,206.74 L73.93,210.56 L74.48,213.54 L75.03,212.37 L75.58,208.97 L76.13,212.06 L76.68,210.14 L77.24,210.46 L77.79,204.97 L78.34,207.59 L78.89,210.58 L79.44,210.02 L79.99,207.65 L80.54,209.26 L81.09,205.06 L81.64,209.10 L82.19,209.36 L82.74,206.03 L83.29,211.44 L83.84,209.21 L84.40,210.29 L84.95,209.97 L85.50,210.06 L86.05,209.82 L86.60,209.17 L87.15,209.07 L87.70,209.07 L88.25,208.79 L88.80,208.80 L89.35,208.91 L89.90,208.42 L90.45,207.78 L91.01,208.55 L91.56,209.49 L92.11,207.35 L92.66,207.85 L93.21,208.07 L93.76,209.55 L94.31,208.99 L94.86,208.50 L95.41,207.53 L95.96,207.77 L96.51,206.56 L97.06,208.25 L97.61,207.68 L98.17,207.81 L98.72,207.47 L99.27,207.86 L99.82,207.42 L100.37,206.97 L100.92,207.06 L101.47,206.82 L102.02,207.95 L102.57,207.19 L103.12,207.52 L103.67,206.93 L104.22,207.82 L104.78,206.88 L105.33,208.14 L105.88,206.26 L106.43,207.56 L106.98,207.14 L107.53,206.73 L108.08,206.97 L108.63,206.96 L109.18,206.56 L109.73,206.85 L110.28,208.14 L110.83,207.37 L111.38,206.92 L111.94,206.62 L112.49,206.09 L113.04,206.98 L113.59,206.28 L114.14,206.69 L114.69,206.25 L115.24,207.31 L115.79,207.86 L116.34,207.00 L116.89,207.88 L117.44,207.12 L117.99,207.29 L118.55,206.88 L119.10,208.93 L119.65,207.44 L120.20,206.64 L120.75,207.91 L121.30,207.11 L121.85,207.06 L122.40,206.95 L122.95,207.98 L123.50,207.00 L124.05,206.28 L124.60,207.96 L125.15,207.96 L125.71,207.04 L126.26,206.84 L126.81,208.14 L127.36,208.59 L127.91,207.62 L128.46,208.49 L129.01,208.39 L129.56,208.54 L130.11,208.67 L130.66,209.09 L131.21,208.25 L131.76,208.89 L132.32,209.48 L132.87,209.68 L133.42,210.13 L133.97,208.31 L134.52,210.87 L135.07,209.64 L135.62,209.49 L136.17,209.17 L136.72,208.57 L137.27,210.31 L137.82,208.24 L138.37,210.45 L138.92,210.06 L139.48,210.15 L140.03,209.66 L140.58,209.98 L141.13,209.19 L141.68,210.75 L142.23,209.67 L142.78,211.64 L143.33,210.84 L143.88,210.96 L144.43,209.87 L144.98,211.14 L145.53,211.63 L146.09,211.12 L146.64,210.87 L147.19,210.33 L147.74,210.78 L148.29,211.15 L148.84,211.50 L149.39,212.44 L149.94,210.74 L150.49,212.82 L151.04,211.60 L151.59,210.44 L152.14,212.59 L152.69,210.28 L153.25,212.32 L153.80,211.81 L154.35,211.91 L154.90,212.69 L155.45,211.76 L156.00,212.58 L156.55,211.51 L157.10,212.63 L157.65,213.55 L158.20,211.54 L158.75,211.62 L159.30,212.55 L159.86,212.75 L160.41,212.03 L160.96,213.27 L161.51,214.04 L162.06,212.85 L162.61,212.42 L163.16,212.73 L163.71,213.00 L164.26,212.37 L164.81,213.31 L165.36,213.43 L165.91,213.71 L166.46,211.43 L167.02,212.41 L167.57,212.96 L168.12,212.81 L168.67,213.21 L169.22,213.84 L169.77,213.65 L170.32,213.47 L170.87,212.85 L171.42,212.86 L171.97,213.57 L172.52,213.66 L173.07,213.76 L173.63,213.09 L174.18,212.88 L174.73,212.58 L175.28,213.05 L175.83,212.74 L176.38,213.14 L176.93,213.19 L177.48,213.28 L178.03,213.18 L178.58,213.47 L179.13,214.04 L179.68,212.90 L180.23,213.42 L180.79,213.17 L181.34,213.73 L181.89,214.05 L182.44,213.12 L182.99,213.32 L183.54,210.64 L184.09,212.47 L184.64,211.05 L185.19,212.67 L185.74,212.08 L186.29,212.71 L186.84,213.89 L187.40,212.34 L187.95,214.68 L188.50,216.69 L189.05,209.07 L189.60,212.95 L190.15,211.71 L190.70,218.74 L191.25,214.26 L191.80,212.62 L192.35,214.03 L192.90,220.47 L193.45,213.41 L194.00,206.29 L194.56,214.04 L195.11,209.75 L195.66,215.30 L196.21,215.54 L196.76,207.26 L197.31,215.83 L197.86,211.54 L198.41,211.23 L198.96,210.36 L199.51,211.68 L200.06,215.25 L200.61,214.54 L201.17,216.66 L201.72,210.62 L202.27,215.66 L202.82,211.14 L203.37,217.42 L203.92,218.03 L204.47,211.31 L205.02,208.43 L205.57,213.93 L206.12,221.00 L206.67,211.75 L207.22,208.18 L207.77,211.95 L208.33,218.43 L208.88,197.67 L209.43,197.63 L209.98,209.44 L210.53,219.58 L211.08,221.00 L211.63,213.39 L212.18,219.19 L212.73,217.98 L213.28,212.99 L213.83,204.88 L214.38,221.00 L214.94,207.89 L215.49,218.25 L216.04,212.62 L216.59,210.76 L217.14,216.55 L217.69,212.61 L218.24,221.00 L218.79,221.00 L219.34,220.38 L219.89,221.00 L220.44,207.34 L220.99,219.86 L221.54,210.97 L222.10,204.56 L222.65,203.24 L223.20,218.59 L223.75,221.00 L224.30,217.70 L224.85,209.87 L225.40,214.52 L225.95,212.55 L226.50,201.36 L227.05,221.00 L227.60,199.51 L228.15,213.72 L228.71,200.53 L229.26,219.83 L229.81,203.88 L230.36,221.00 L230.91,217.65 L231.46,201.06 L232.01,216.47 L232.56,221.00 L233.11,213.33 L233.66,210.71 L234.21,197.24 L234.76,218.13 L235.31,203.55 L235.87,221.00 L236.42,196.49" stroke="#0a0a0a" stroke-width="1.6"/>
<path d="M53.00,219.08 L53.55,221.00 L54.10,202.83 L54.65,221.00 L55.20,215.35 L55.75,214.99 L56.30,206.07 L56.86,210.46 L57.41,204.30 L57.96,214.84 L58.51,212.62 L59.06,213.65 L59.61,201.28 L60.16,214.42 L60.71,206.94 L61.26,212.49 L61.81,210.34 L62.36,202.11 L62.91,221.00 L63.47,212.77 L64.02,217.37 L64.57,212.32 L65.12,215.02 L65.67,215.68 L66.22,212.04 L66.77,213.69 L67.32,208.33 L67.87,208.27 L68.42,209.28 L68.97,211.34 L69.52,214.85 L70.07,211.61 L70.63,210.84 L71.18,214.34 L71.73,208.45 L72.28,214.13 L72.83,211.03 L73.38,213.26 L73.93,211.44 L74.48,213.28 L75.03,216.53 L75.58,214.20 L76.13,211.23 L76.68,211.56 L77.24,218.10 L77.79,211.04 L78.34,212.68 L78.89,214.12 L79.44,215.66 L79.99,212.49 L80.54,211.62 L81.09,216.77 L81.64,213.37 L82.19,212.27 L82.74,212.64 L83.29,212.68 L83.84,213.31 L84.40,213.03 L84.95,212.76 L85.50,214.24 L86.05,213.37 L86.60,213.05 L87.15,211.79 L87.70,212.81 L88.25,214.10 L88.80,212.23 L89.35,211.46 L89.90,212.45 L90.45,212.75 L91.01,212.22 L91.56,213.18 L92.11,211.01 L92.66,210.98 L93.21,212.84 L93.76,213.06 L94.31,212.46 L94.86,211.10 L95.41,213.41 L95.96,211.89 L96.51,212.47 L97.06,212.36 L97.61,212.77 L98.17,213.13 L98.72,212.20 L99.27,211.92 L99.82,212.93 L100.37,212.03 L100.92,212.03 L101.47,210.58 L102.02,211.84 L102.57,210.98 L103.12,212.97 L103.67,211.76 L104.22,211.59 L104.78,211.92 L105.33,212.06 L105.88,213.33 L106.43,211.32 L106.98,213.59 L107.53,211.93 L108.08,211.96 L108.63,211.24 L109.18,212.24 L109.73,212.31 L110.28,212.37 L110.83,211.92 L111.38,210.99 L111.94,211.77 L112.49,213.56 L113.04,213.04 L113.59,211.85 L114.14,211.98 L114.69,211.37 L115.24,211.57 L115.79,212.52 L116.34,213.19 L116.89,211.26 L117.44,211.45 L117.99,211.93 L118.55,212.59 L119.10,213.03 L119.65,210.86 L120.20,213.07 L120.75,212.29 L121.30,212.16 L121.85,212.08 L122.40,211.94 L122.95,210.86 L123.50,212.11 L124.05,212.40 L124.60,212.82 L125.15,212.46 L125.71,212.77 L126.26,213.04 L126.81,212.12 L127.36,211.94 L127.91,213.51 L128.46,213.17 L129.01,212.50 L129.56,213.20 L130.11,213.10 L130.66,212.07 L131.21,213.14 L131.76,214.20 L132.32,212.35 L132.87,213.44 L133.42,212.85 L133.97,213.18 L134.52,212.66 L135.07,213.09 L135.62,211.66 L136.17,214.13 L136.72,213.01 L137.27,213.60 L137.82,213.41 L138.37,213.32 L138.92,213.61 L139.48,213.35 L140.03,212.83 L140.58,212.04 L141.13,214.86 L141.68,212.94 L142.23,213.83 L142.78,214.30 L143.33,212.25 L143.88,214.45 L144.43,214.06 L144.98,213.80 L145.53,214.00 L146.09,213.74 L146.64,215.62 L147.19,213.75 L147.74,213.93 L148.29,214.42 L148.84,214.71 L149.39,214.33 L149.94,215.08 L150.49,214.65 L151.04,214.55 L151.59,214.28 L152.14,213.43 L152.69,214.72 L153.25,215.12 L153.80,215.24 L154.35,214.72 L154.90,214.69 L155.45,214.70 L156.00,213.03 L156.55,214.86 L157.10,214.71 L157.65,214.91 L158.20,215.08 L158.75,213.16 L159.30,215.46 L159.86,214.45 L160.41,213.22 L160.96,214.83 L161.51,216.02 L162.06,215.39 L162.61,214.26 L163.16,215.18 L163.71,214.90 L164.26,216.24 L164.81,216.30 L165.36,214.21 L165.91,214.41 L166.46,215.22 L167.02,215.37 L167.57,215.16 L168.12,214.12 L168.67,214.69 L169.22,215.02 L169.77,215.96 L170.32,215.16 L170.87,214.80 L171.42,215.18 L171.97,215.33 L172.52,215.21 L173.07,215.04 L173.63,216.71 L174.18,214.64 L174.73,215.65 L175.28,214.88 L175.83,213.62 L176.38,215.23 L176.93,214.83 L177.48,214.88 L178.03,213.96 L178.58,214.66 L179.13,215.00 L179.68,214.26 L180.23,215.20 L180.79,214.24 L181.34,213.89 L181.89,214.75 L182.44,215.12 L182.99,215.14 L183.54,217.32 L184.09,214.66 L184.64,213.42 L185.19,213.49 L185.74,215.09 L186.29,214.42 L186.84,219.42 L187.40,214.55 L187.95,213.25 L188.50,215.36 L189.05,214.81 L189.60,214.29 L190.15,220.73 L190.70,214.48 L191.25,211.71 L191.80,216.56 L192.35,216.85 L192.90,216.42 L193.45,215.72 L194.00,216.67 L194.56,221.00 L195.11,216.34 L195.66,216.43 L196.21,217.36 L196.76,217.37 L197.31,215.61 L197.86,212.45 L198.41,216.58 L198.96,217.14 L199.51,213.80 L200.06,213.95 L200.61,219.52 L201.17,217.40 L201.72,214.22 L202.27,214.92 L202.82,213.34 L203.37,209.86 L203.92,213.01 L204.47,217.15 L205.02,215.25 L205.57,214.97 L206.12,216.97 L206.67,212.02 L207.22,221.00 L207.77,203.86 L208.33,215.84 L208.88,211.04 L209.43,209.59 L209.98,218.36 L210.53,207.83 L211.08,214.34 L211.63,212.87 L212.18,208.89 L212.73,219.33 L213.28,213.46 L213.83,209.88 L214.38,210.76 L214.94,214.47 L215.49,212.94 L216.04,221.00 L216.59,213.13 L217.14,207.84 L217.69,210.48 L218.24,210.51 L218.79,221.00 L219.34,215.99 L219.89,213.02 L220.44,215.77 L220.99,214.11 L221.54,212.35 L222.10,217.54 L222.65,204.50 L223.20,221.00 L223.75,211.14 L224.30,220.35 L224.85,221.00 L225.40,216.56 L225.95,199.51 L226.50,221.00 L227.05,213.57 L227.60,221.00 L228.15,219.57 L228.71,221.00 L229.26,215.03 L229.81,212.42 L230.36,191.55 L230.91,221.00 L231.46,182.70 L232.01,182.25 L232.56,205.59 L233.11,221.00 L233.66,197.26 L234.21,214.98 L234.76,181.43 L235.31,221.00 L235.87,221.00 L236.42,220.06" stroke="#0a0a0a" stroke-width="1.6"/>
<path d="M53.00,213.33 L53.55,208.10 L54.10,217.21 L54.65,221.00 L55.20,219.05 L55.75,221.00 L56.30,221.00 L56.86,215.67 L57.41,216.13 L57.96,220.34 L58.51,219.72 L59.06,221.00 L59.61,217.55 L60.16,217.46 L60.71,214.47 L61.26,221.00 L61.81,216.84 L62.36,216.32 L62.91,212.44 L63.47,206.75 L64.02,215.99 L64.57,217.92 L65.12,218.95 L65.67,221.00 L66.22,209.86 L66.77,215.84 L67.32,216.44 L67.87,211.60 L68.42,221.00 L68.97,217.61 L69.52,218.49 L70.07,215.73 L70.63,213.15 L71.18,219.70 L71.73,218.59 L72.28,213.75 L72.83,221.00 L73.38,212.99 L73.93,214.63 L74.48,217.64 L75.03,213.75 L75.58,215.60 L76.13,210.93 L76.68,219.64 L77.24,213.74 L77.79,218.35 L78.34,218.57 L78.89,217.46 L79.44,217.61 L79.99,216.92 L80.54,217.59 L81.09,212.85 L81.64,216.64 L82.19,218.37 L82.74,213.97 L83.29,220.18 L83.84,217.05 L84.40,216.03 L84.95,216.78 L85.50,217.18 L86.05,217.00 L86.60,217.00 L87.15,216.94 L87.70,218.57 L88.25,216.44 L88.80,215.95 L89.35,216.34 L89.90,216.37 L90.45,217.76 L91.01,217.66 L91.56,217.68 L92.11,217.04 L92.66,216.66 L93.21,217.26 L93.76,216.84 L94.31,217.18 L94.86,216.73 L95.41,216.93 L95.96,216.09 L96.51,217.67 L97.06,217.13 L97.61,217.14 L98.17,217.24 L98.72,217.53 L99.27,216.64 L99.82,217.09 L100.37,216.93 L100.92,217.52 L101.47,216.81 L102.02,216.07 L102.57,217.17 L103.12,217.24 L103.67,217.84 L104.22,216.80 L104.78,217.16 L105.33,217.11 L105.88,216.58 L106.43,216.12 L106.98,216.04 L107.53,217.85 L108.08,216.62 L108.63,215.72 L109.18,216.68 L109.73,216.85 L110.28,217.04 L110.83,216.98 L111.38,217.09 L111.94,217.18 L112.49,218.19 L113.04,217.82 L113.59,218.57 L114.14,215.43 L114.69,217.15 L115.24,217.05 L115.79,216.69 L116.34,217.30 L116.89,216.87 L117.44,217.99 L117.99,216.74 L118.55,216.12 L119.10,216.62 L119.65,216.97 L120.20,217.16 L120.75,216.20 L121.30,216.71 L121.85,216.66 L122.40,217.11 L122.95,217.32 L123.50,216.81 L124.05,217.01 L124.60,217.02 L125.15,215.59 L125.71,216.80 L126.26,217.19 L126.81,217.36 L127.36,217.56 L127.91,217.00 L128.46,217.17 L129.01,217.13 L129.56,215.43 L130.11,217.54 L130.66,217.19 L131.21,216.86 L131.76,217.23 L132.32,217.60 L132.87,216.62 L133.42,218.09 L133.97,216.90 L134.52,217.19 L135.07,216.76 L135.62,215.43 L136.17,217.91 L136.72,217.25 L137.27,217.06 L137.82,217.04 L138.37,216.43 L138.92,217.48 L139.48,218.40 L140.03,217.19 L140.58,215.43 L141.13,216.82 L141.68,216.50 L142.23,217.70 L142.78,216.29 L143.33,216.44 L143.88,216.60 L144.43,217.61 L144.98,217.05 L145.53,217.23 L146.09,215.43 L146.64,217.55 L147.19,217.57 L147.74,217.18 L148.29,217.17 L148.84,216.94 L149.39,217.08 L149.94,216.26 L150.49,218.15 L151.04,215.53 L151.59,216.27 L152.14,216.79 L152.69,216.78 L153.25,216.25 L153.80,217.98 L154.35,216.68 L154.90,216.63 L155.45,217.29 L156.00,215.84 L156.55,217.44 L157.10,218.24 L157.65,217.21 L158.20,217.38 L158.75,216.54 L159.30,216.08 L159.86,216.58 L160.41,217.06 L160.96,217.43 L161.51,217.61 L162.06,217.68 L162.61,215.43 L163.16,215.52 L163.71,216.57 L164.26,217.38 L164.81,216.66 L165.36,216.01 L165.91,218.07 L166.46,216.73 L167.02,217.07 L167.57,215.43 L168.12,217.84 L168.67,217.72 L169.22,218.03 L169.77,217.14 L170.32,217.11 L170.87,217.21 L171.42,217.87 L171.97,216.78 L172.52,216.55 L173.07,217.44 L173.63,215.43 L174.18,217.00 L174.73,216.66 L175.28,217.50 L175.83,215.43 L176.38,217.44 L176.93,216.83 L177.48,216.71 L178.03,218.58 L178.58,216.59 L179.13,218.17 L179.68,217.14 L180.23,215.98 L180.79,216.56 L181.34,217.51 L181.89,216.86 L182.44,216.24 L182.99,218.00 L183.54,217.31 L184.09,217.21 L184.64,219.11 L185.19,217.25 L185.74,215.66 L186.29,216.08 L186.84,218.02 L187.40,218.81 L187.95,217.98 L188.50,217.89 L189.05,219.97 L189.60,217.68 L190.15,218.67 L190.70,217.50 L191.25,212.75 L191.80,218.41 L192.35,217.87 L192.90,221.00 L193.45,209.91 L194.00,214.49 L194.56,215.45 L195.11,221.00 L195.66,220.77 L196.21,213.41 L196.76,215.86 L197.31,209.35 L197.86,220.65 L198.41,221.00 L198.96,221.00 L199.51,212.54 L200.06,215.79 L200.61,213.98 L201.17,221.00 L201.72,218.12 L202.27,220.20 L202.82,220.85 L203.37,221.00 L203.92,208.71 L204.47,217.93 L205.02,221.00 L205.57,221.00 L206.12,212.65 L206.67,217.83 L207.22,221.00 L207.77,221.00 L208.33,209.00 L208.88,207.79 L209.43,213.97 L209.98,205.52 L210.53,218.12 L211.08,214.96 L211.63,207.56 L212.18,201.70 L212.73,210.02 L213.28,218.47 L213.83,216.98 L214.38,221.00 L214.94,221.00 L215.49,215.97 L216.04,221.00 L216.59,220.77 L217.14,217.12 L217.69,220.34 L218.24,205.81 L218.79,221.00 L219.34,221.00 L219.89,205.37 L220.44,208.10 L220.99,221.00 L221.54,221.00 L222.10,214.69 L222.65,209.33 L223.20,215.80 L223.75,198.67 L224.30,221.00 L224.85,221.00 L225.40,210.87 L225.95,221.00 L226.50,188.30 L227.05,212.92 L227.60,221.00 L228.15,221.00 L228.71,186.56 L229.26,221.00 L229.81,217.79 L230.36,221.00 L230.91,212.83 L231.46,192.07 L232.01,221.00 L232.56,209.39 L233.11,211.33 L233.66,217.15 L234.21,193.96 L234.76,221.00 L235.31,221.00 L235.87,221.00 L236.42,221.00" stroke="#0a0a0a" stroke-width="1.6"/>
<path d="M86.05,166.77 L86.60,165.88 L87.15,165.83 L87.70,165.10 L88.25,164.58 L88.80,164.28 L89.35,163.42 L89.90,164.12 L90.45,162.97 L91.01,164.36 L91.56,162.95 L92.11,162.88 L92.66,161.55 L93.21,161.35 L93.76,160.53 L94.31,161.22 L94.86,160.53 L95.41,159.56 L95.96,159.92 L96.51,159.07 L97.06,158.30 L97.61,158.52 L98.17,159.68 L98.72,159.39 L99.27,157.49 L99.82,156.69 L100.37,157.05 L100.92,156.50 L101.47,156.14 L102.02,157.08 L102.57,156.51 L103.12,156.12 L103.67,157.05 L104.22,155.50 L104.78,155.50 L105.33,155.30 L105.88,155.32 L106.43,154.71 L106.98,155.13 L107.53,154.23 L108.08,155.27 L108.63,154.50 L109.18,155.38 L109.73,154.96 L110.28,154.54 L110.83,155.05 L111.38,154.57 L111.94,154.33 L112.49,154.86 L113.04,153.66 L113.59,155.54 L114.14,155.52 L114.69,154.95 L115.24,155.28 L115.79,156.35 L116.34,155.23 L116.89,156.61 L117.44,156.32 L117.99,156.62 L118.55,156.74 L119.10,156.64 L119.65,156.39 L120.20,157.19 L120.75,159.00 L121.30,158.02 L121.85,159.37 L122.40,159.06 L122.95,159.65 L123.50,158.85 L124.05,160.09 L124.60,161.97 L125.15,160.91 L125.71,162.70 L126.26,161.41 L126.81,161.88 L127.36,162.20 L127.91,162.44 L128.46,163.74 L129.01,162.43 L129.56,164.79 L130.11,165.08 L130.66,164.92 L131.21,166.29 L131.76,166.91 L132.32,168.18 L132.87,166.19 L133.42,168.60 L133.97,168.67 L134.52,168.79 L135.07,169.20 L135.62,170.13 L136.17,170.58 L136.72,171.20 L137.27,173.23 L137.82,172.15 L138.37,173.61 L138.92,172.91 L139.48,173.27 L140.03,175.37 L140.58,173.59 L141.13,175.33 L141.68,174.25 L142.23,177.58 L142.78,176.06 L143.33,177.45 L143.88,177.29 L144.43,179.01 L144.98,179.13 L145.53,179.64 L146.09,179.98 L146.64,180.33 L147.19,180.70 L147.74,181.26 L148.29,182.09 L148.84,182.48 L149.39,182.32 L149.94,183.49 L150.49,183.18 L151.04,183.64 L151.59,184.89 L152.14,184.44 L152.69,185.27 L153.25,185.59 L153.80,185.55 L154.35,186.23 L154.90,186.16 L155.45,186.44 L156.00,186.79 L156.55,188.09 L157.10,187.24 L157.65,187.50 L158.20,187.84 L158.75,188.89 L159.30,188.88 L159.86,189.31 L160.41,189.85 L160.96,189.75 L161.51,190.08 L162.06,189.81 L162.61,190.21 L163.16,190.46 L163.71,192.16 L164.26,192.82 L164.81,191.05 L165.36,191.69 L165.91,191.94 L166.46,191.48 L167.02,192.15 L167.57,192.47 L168.12,192.72 L168.67,192.04 L169.22,193.55 L169.77,192.84 L170.32,193.72 L170.87,193.98 L171.42,193.22 L171.97,193.79 L172.52,194.27 L173.07,193.62 L173.63,194.03 L174.18,194.11 L174.73,194.46 L175.28,193.33 L175.83,193.61 L176.38,194.56 L176.93,196.27 L177.48,195.24 L178.03,194.47 L178.58,195.58 L179.13,194.34 L179.68,195.36 L180.23,197.09 L180.79,194.03 L181.34,195.06 L181.89,195.56 L182.44,194.70 L182.99,194.28 L183.54,197.02 L184.09,195.27 L184.64,197.18 L185.19,196.20 L185.74,197.43 L186.29,195.10 L186.84,199.51 L187.40,196.52 L187.95,194.62 L188.50,196.11 L189.05,197.12 L189.60,196.01 L190.15,194.31 L190.70,193.37 L191.25,196.58 L191.80,196.39 L192.35,191.33 L192.90,195.29 L193.45,196.46 L194.00,196.01 L194.56,195.93 L195.11,202.93 L195.66,194.93 L196.21,199.23 L196.76,197.67 L197.31,203.18 L197.86,197.85 L198.41,191.12 L198.96,200.09 L199.51,194.40 L200.06,197.00 L200.61,196.64 L201.17,194.21 L201.72,195.08 L202.27,202.03 L202.82,194.61 L203.37,195.56 L203.92,197.51 L204.47,195.86 L205.02,199.40 L205.57,184.52 L206.12,199.00 L206.67,198.55 L207.22,201.87 L207.77,204.58 L208.33,199.28 L208.88,193.37 L209.43,199.76 L209.98,205.44 L210.53,195.70 L211.08,189.71 L211.63,186.72 L212.18,196.82 L212.73,205.10 L213.28,196.34 L213.83,195.11 L214.38,193.99 L214.94,195.00 L215.49,202.44 L216.04,190.64 L216.59,198.11 L217.14,203.92 L217.69,203.61 L218.24,203.07 L218.79,187.80 L219.34,195.63 L219.89,202.56 L220.44,187.11 L220.99,194.94 L221.54,191.71 L222.10,191.36 L222.65,196.09 L223.20,202.48 L223.75,203.33 L224.30,201.86 L224.85,209.14 L225.40,184.19 L225.95,188.03 L226.50,196.80 L227.05,195.87 L227.60,198.86 L228.15,191.51 L228.71,170.81 L229.26,197.93 L229.81,221.00 L230.36,190.94 L230.91,193.12 L231.46,178.64 L232.01,200.09 L232.56,211.41 L233.11,196.66 L233.66,197.40 L234.21,197.20 L234.76,200.49 L235.31,195.00 L235.87,199.99 L236.42,193.13" stroke="#2f3fd8" stroke-width="2.0"/>
<path d="M53.00,157.87 L53.55,145.49 L54.10,137.74 L54.65,142.06 L55.20,135.81 L55.75,136.39 L56.30,140.91 L56.86,134.60 L57.41,131.62 L57.96,136.92 L58.51,129.21 L59.06,133.80 L59.61,135.88 L60.16,131.47 L60.71,132.05 L61.26,125.76 L61.81,136.18 L62.36,130.32 L62.91,129.25 L63.47,131.70 L64.02,127.74 L64.57,131.73 L65.12,133.92 L65.67,129.72 L66.22,132.22 L66.77,134.05 L67.32,131.15 L67.87,129.96 L68.42,123.60 L68.97,134.73 L69.52,131.91 L70.07,128.03 L70.63,131.78 L71.18,129.14 L71.73,134.88 L72.28,136.76 L72.83,135.15 L73.38,142.97 L73.93,138.47 L74.48,140.96 L75.03,142.10 L75.58,143.05 L76.13,138.98 L76.68,140.16 L77.24,136.62 L77.79,142.08 L78.34,140.20 L78.89,143.03 L79.44,139.25 L79.99,140.16 L80.54,139.36 L81.09,139.88 L81.64,138.95 L82.19,139.45 L82.74,140.53 L83.29,138.36 L83.84,139.81 L84.40,138.26 L84.95,137.94 L85.50,137.60 L86.05,137.16 L86.60,136.10 L87.15,135.95 L87.70,135.19 L88.25,134.36 L88.80,133.29 L89.35,131.43 L89.90,131.90 L90.45,130.54 L91.01,129.12 L91.56,130.07 L92.11,129.69 L92.66,128.36 L93.21,127.47 L93.76,127.96 L94.31,126.80 L94.86,126.39 L95.41,126.50 L95.96,125.39 L96.51,124.85 L97.06,124.65 L97.61,123.02 L98.17,124.65 L98.72,121.54 L99.27,122.05 L99.82,122.00 L100.37,120.87 L100.92,121.79 L101.47,119.17 L102.02,120.72 L102.57,119.57 L103.12,119.65 L103.67,119.20 L104.22,118.63 L104.78,118.32 L105.33,118.37 L105.88,118.48 L106.43,118.42 L106.98,117.88 L107.53,117.76 L108.08,118.70 L108.63,117.94 L109.18,118.21 L109.73,117.89 L110.28,119.38 L110.83,118.71 L111.38,117.23 L111.94,118.32 L112.49,117.76 L113.04,118.39 L113.59,118.00 L114.14,119.23 L114.69,118.00 L115.24,117.63 L115.79,119.70 L116.34,118.06 L116.89,119.34 L117.44,120.40 L117.99,120.22 L118.55,121.72 L119.10,121.40 L119.65,121.90 L120.20,122.26 L120.75,123.00 L121.30,123.40 L121.85,123.69 L122.40,125.05 L122.95,126.59 L123.50,124.74 L124.05,126.26 L124.60,127.01 L125.15,126.12 L125.71,127.59 L126.26,127.59 L126.81,129.85 L127.36,130.22 L127.91,130.68 L128.46,131.62 L129.01,132.76 L129.56,133.57 L130.11,133.89 L130.66,134.17 L131.21,136.02 L131.76,137.03 L132.32,138.88 L132.87,138.50 L133.42,139.85 L133.97,139.43 L134.52,139.04 L135.07,140.05 L135.62,141.87 L136.17,142.30 L136.72,144.80 L137.27,143.75 L137.82,147.21 L138.37,144.91 L138.92,147.41 L139.48,148.33 L140.03,149.53 L140.58,148.89 L141.13,149.92 L141.68,151.14 L142.23,151.71 L142.78,153.54 L143.33,153.49 L143.88,155.17 L144.43,156.09 L144.98,156.13 L145.53,156.95 L146.09,158.03 L146.64,157.48 L147.19,159.00 L147.74,159.49 L148.29,159.05 L148.84,161.47 L149.39,160.44 L149.94,162.72 L150.49,162.44 L151.04,164.54 L151.59,164.92 L152.14,165.39 L152.69,165.84 L153.25,166.20 L153.80,166.54 L154.35,167.72 L154.90,168.32 L155.45,167.97 L156.00,169.17 L156.55,170.02 L157.10,170.37 L157.65,171.15 L158.20,172.57 L158.75,171.78 L159.30,172.05 L159.86,172.27 L160.41,173.09 L160.96,173.43 L161.51,174.14 L162.06,175.05 L162.61,174.82 L163.16,174.62 L163.71,175.55 L164.26,175.54 L164.81,176.77 L165.36,177.34 L165.91,176.87 L166.46,177.06 L167.02,177.76 L167.57,177.96 L168.12,178.16 L168.67,179.30 L169.22,178.12 L169.77,179.22 L170.32,179.34 L170.87,179.14 L171.42,179.50 L171.97,179.46 L172.52,179.85 L173.07,180.64 L173.63,181.50 L174.18,180.32 L174.73,180.97 L175.28,180.49 L175.83,179.62 L176.38,181.51 L176.93,182.29 L177.48,181.69 L178.03,180.48 L178.58,182.21 L179.13,183.23 L179.68,181.69 L180.23,180.88 L180.79,180.95 L181.34,183.91 L181.89,182.37 L182.44,182.42 L182.99,184.03 L183.54,184.55 L184.09,181.33 L184.64,183.94 L185.19,181.97 L185.74,181.73 L186.29,187.50 L186.84,187.18 L187.40,186.07 L187.95,182.73 L188.50,180.75 L189.05,187.15 L189.60,184.52 L190.15,182.74 L190.70,181.50 L191.25,184.51 L191.80,182.70 L192.35,191.12 L192.90,184.24 L193.45,186.74 L194.00,175.86 L194.56,184.58 L195.11,183.83 L195.66,184.57 L196.21,184.66 L196.76,180.38 L197.31,194.32 L197.86,187.01 L198.41,183.50 L198.96,184.65 L199.51,184.58 L200.06,196.19 L200.61,188.95 L201.17,183.44 L201.72,184.02 L202.27,175.00 L202.82,181.57 L203.37,183.49 L203.92,180.95 L204.47,188.57 L205.02,183.76 L205.57,177.67 L206.12,188.17 L206.67,187.78 L207.22,184.91 L207.77,191.44 L208.33,181.88 L208.88,174.17 L209.43,182.25 L209.98,185.83 L210.53,186.64 L211.08,180.91 L211.63,188.67 L212.18,179.60 L212.73,186.17 L213.28,185.42 L213.83,184.17 L214.38,182.42 L214.94,183.24 L215.49,185.44 L216.04,187.94 L216.59,170.21 L217.14,185.56 L217.69,170.42 L218.24,186.51 L218.79,177.99 L219.34,191.13 L219.89,194.52 L220.44,181.63 L220.99,185.99 L221.54,201.30 L222.10,194.26 L222.65,182.66 L223.20,191.22 L223.75,185.58 L224.30,187.65 L224.85,203.32 L225.40,216.49 L225.95,191.55 L226.50,198.10 L227.05,180.27 L227.60,188.44 L228.15,178.37 L228.71,198.66 L229.26,188.82 L229.81,164.80 L230.36,185.43 L230.91,179.14 L231.46,156.08 L232.01,168.16 L232.56,148.72 L233.11,190.11 L233.66,197.90 L234.21,176.37 L234.76,180.86 L235.31,175.27 L235.87,201.58 L236.42,194.60" stroke="#ff1020" stroke-width="2.0"/>
</g>
<rect x="53.0" y="33.0" width="183.6" height="187.5" fill="none" stroke="#0a0a0a" stroke-width="1.9"/>
<path d="M53.00,33.0 v7.5 M53.00,220.5 v-7.5 M71.36,33.0 v4 M71.36,220.5 v-4 M89.72,33.0 v7.5 M89.72,220.5 v-7.5 M108.08,33.0 v4 M108.08,220.5 v-4 M126.44,33.0 v7.5 M126.44,220.5 v-7.5 M144.80,33.0 v4 M144.80,220.5 v-4 M163.16,33.0 v7.5 M163.16,220.5 v-7.5 M181.52,33.0 v4 M181.52,220.5 v-4 M199.88,33.0 v7.5 M199.88,220.5 v-7.5 M218.24,33.0 v4 M218.24,220.5 v-4 M236.60,33.0 v7.5 M236.60,220.5 v-7.5 M53.0,217.00 h7.5 M236.6,217.00 h-7.5 M53.0,201.66 h4 M236.6,201.66 h-4 M53.0,186.33 h7.5 M236.6,186.33 h-7.5 M53.0,171.00 h4 M236.6,171.00 h-4 M53.0,155.66 h7.5 M236.6,155.66 h-7.5 M53.0,140.32 h4 M236.6,140.32 h-4 M53.0,124.99 h7.5 M236.6,124.99 h-7.5 M53.0,109.65 h4 M236.6,109.65 h-4 M53.0,94.32 h7.5 M236.6,94.32 h-7.5 M53.0,78.99 h4 M236.6,78.99 h-4 M53.0,63.65 h7.5 M236.6,63.65 h-7.5 M53.0,48.31 h4 M236.6,48.31 h-4 M53.0,32.98 h7.5 M236.6,32.98 h-7.5" stroke="#0a0a0a" stroke-width="1.7"/>
<text x="87" y="55" font-size="15" fill="#1a1a1a" text-anchor="start" font-family="Liberation Sans, sans-serif"  stroke="#1a1a1a" stroke-width="0.3">pH 12</text>
<text x="164.4" y="52.3" font-size="12" fill="#ff1030" text-anchor="start" font-family="Liberation Sans, sans-serif"  stroke="#ff1030" stroke-width="0.3">1.5 V</text>
<text x="164.4" y="84.5" font-size="12" fill="#2f3fd8" text-anchor="start" font-family="Liberation Sans, sans-serif"  stroke="#2f3fd8" stroke-width="0.3">1.4 V</text>
<text x="164.4" y="113.9" font-size="12" fill="#1a1a1a" text-anchor="start" font-family="Liberation Sans, sans-serif"  stroke="#1a1a1a" stroke-width="0.3">1.2 V</text>
<text x="111.7" y="111.1" font-size="12" fill="#ff1030" text-anchor="middle" font-family="Liberation Sans, sans-serif"  stroke="#ff1030" stroke-width="0.3">456</text>
<path d="M177.8,62 V74.3" stroke="#333" stroke-width="1"/>
<path d="M177.8,54.2 L181.1,61.900000000000006 L174.5,61.900000000000006 Z" fill="#111"/>
<path d="M177.8,93.2 V103.8" stroke="#333" stroke-width="1"/>
<path d="M177.8,84.6 L181.1,92.3 L174.5,92.3 Z" fill="#111"/>
<text x="304.2" y="18.6" font-size="20.5" fill="#1a1a1a" text-anchor="start" font-family="Liberation Sans, sans-serif"  stroke="#1a1a1a" stroke-width="0.3">(b)</text>
<text x="297.3" y="227.89999999999998" font-size="16" fill="#1a1a1a" text-anchor="end" font-family="Liberation Sans, sans-serif"  stroke="#1a1a1a" stroke-width="0.3">0.6</text>
<text x="297.3" y="190.95999999999998" font-size="16" fill="#1a1a1a" text-anchor="end" font-family="Liberation Sans, sans-serif"  stroke="#1a1a1a" stroke-width="0.3">0.8</text>
<text x="297.3" y="154.01999999999998" font-size="16" fill="#1a1a1a" text-anchor="end" font-family="Liberation Sans, sans-serif"  stroke="#1a1a1a" stroke-width="0.3">1.0</text>
<text x="297.3" y="117.08" font-size="16" fill="#1a1a1a" text-anchor="end" font-family="Liberation Sans, sans-serif"  stroke="#1a1a1a" stroke-width="0.3">1.2</text>
<text x="297.3" y="80.14" font-size="16" fill="#1a1a1a" text-anchor="end" font-family="Liberation Sans, sans-serif"  stroke="#1a1a1a" stroke-width="0.3">1.4</text>
<text x="297.3" y="43.2" font-size="16" fill="#1a1a1a" text-anchor="end" font-family="Liberation Sans, sans-serif"  stroke="#1a1a1a" stroke-width="0.3">1.6</text>
<text x="319.5" y="241.4" font-size="16" fill="#1a1a1a" text-anchor="middle" font-family="Liberation Sans, sans-serif"  stroke="#1a1a1a" stroke-width="0.3">2</text>
<text x="350.72" y="241.4" font-size="16" fill="#1a1a1a" text-anchor="middle" font-family="Liberation Sans, sans-serif"  stroke="#1a1a1a" stroke-width="0.3">4</text>
<text x="381.94" y="241.4" font-size="16" fill="#1a1a1a" text-anchor="middle" font-family="Liberation Sans, sans-serif"  stroke="#1a1a1a" stroke-width="0.3">6</text>
<text x="413.15999999999997" y="241.4" font-size="16" fill="#1a1a1a" text-anchor="middle" font-family="Liberation Sans, sans-serif"  stroke="#1a1a1a" stroke-width="0.3">8</text>
<text x="444.38" y="241.4" font-size="16" fill="#1a1a1a" text-anchor="middle" font-family="Liberation Sans, sans-serif"  stroke="#1a1a1a" stroke-width="0.3">10</text>
<text x="475.6" y="241.4" font-size="16" fill="#1a1a1a" text-anchor="middle" font-family="Liberation Sans, sans-serif"  stroke="#1a1a1a" stroke-width="0.3">12</text>
<text x="397.2" y="257.5" font-size="20" fill="#1a1a1a" text-anchor="middle" font-family="Liberation Sans, sans-serif"  stroke="#1a1a1a" stroke-width="0.3">pH</text>
<text transform="translate(261.6,139.8) rotate(-90)" font-size="21" fill="#1a1a1a" stroke="#1a1a1a" stroke-width="0.3" text-anchor="middle" font-family="Liberation Sans, sans-serif"><tspan font-style="italic">U</tspan> / V vs. RHE</text>
<rect x="304.2" y="29.6" width="186.7" height="193.3" fill="none" stroke="#333" stroke-width="1.5"/>
<path d="M303.89,29.6 v3 M303.89,222.9 v-3 M319.50,29.6 v5 M319.50,222.9 v-5 M335.11,29.6 v3 M335.11,222.9 v-3 M350.72,29.6 v5 M350.72,222.9 v-5 M366.33,29.6 v3 M366.33,222.9 v-3 M381.94,29.6 v5 M381.94,222.9 v-5 M397.55,29.6 v3 M397.55,222.9 v-3 M413.16,29.6 v5 M413.16,222.9 v-5 M428.77,29.6 v3 M428.77,222.9 v-3 M444.38,29.6 v5 M444.38,222.9 v-5 M459.99,29.6 v3 M459.99,222.9 v-3 M475.60,29.6 v5 M475.60,222.9 v-5 M491.21,29.6 v3 M491.21,222.9 v-3 M304.2,222.70 h5 M490.9,222.70 h-5 M304.2,204.23 h3 M490.9,204.23 h-3 M304.2,185.76 h5 M490.9,185.76 h-5 M304.2,167.29 h3 M490.9,167.29 h-3 M304.2,148.82 h5 M490.9,148.82 h-5 M304.2,130.35 h3 M490.9,130.35 h-3 M304.2,111.88 h5 M490.9,111.88 h-5 M304.2,93.41 h3 M490.9,93.41 h-3 M304.2,74.94 h5 M490.9,74.94 h-5 M304.2,56.47 h3 M490.9,56.47 h-3 M304.2,38.00 h5 M490.9,38.00 h-5" stroke="#333" stroke-width="1.4"/>
<rect x="315.20" y="56.10" width="8.8" height="8.8" fill="#050505"/>
<circle cx="319.60" cy="88.30" r="5.1" fill="#ff0a28"/>
<circle cx="319.60" cy="121.70" r="5.1" fill="#6cf000"/>
<circle cx="319.60" cy="186.00" r="5.1" fill="#2a3cf0"/>
<rect x="346.40" y="54.40" width="8.8" height="8.8" fill="#050505"/>
<circle cx="350.80" cy="88.30" r="5.1" fill="#ff0a28"/>
<circle cx="350.80" cy="132.40" r="5.1" fill="#6cf000"/>
<circle cx="350.80" cy="188.30" r="5.1" fill="#2a3cf0"/>
<rect x="377.30" y="54.60" width="8.8" height="8.8" fill="#050505"/>
<circle cx="381.70" cy="86.50" r="5.1" fill="#ff0a28"/>
<circle cx="381.70" cy="138.20" r="5.1" fill="#6cf000"/>
<circle cx="381.70" cy="189.70" r="5.1" fill="#2a3cf0"/>
<rect x="408.80" y="50.90" width="8.8" height="8.8" fill="#050505"/>
<circle cx="413.20" cy="92.30" r="5.1" fill="#ff0a28"/>
<circle cx="413.20" cy="141.60" r="5.1" fill="#6cf000"/>
<circle cx="413.20" cy="200.90" r="5.1" fill="#2a3cf0"/>
<rect x="440.10" y="49.10" width="8.8" height="8.8" fill="#050505"/>
<circle cx="444.50" cy="82.80" r="5.1" fill="#ff0a28"/>
<circle cx="444.50" cy="156.50" r="5.1" fill="#6cf000"/>
<circle cx="444.50" cy="215.60" r="5.1" fill="#2a3cf0"/>
<rect x="471.20" y="49.10" width="8.8" height="8.8" fill="#050505"/>
<circle cx="475.60" cy="75.40" r="5.1" fill="#ff0a28"/>
<circle cx="475.60" cy="167.70" r="5.1" fill="#6cf000"/>
<circle cx="475.60" cy="213.50" r="5.1" fill="#2a3cf0"/>
<text x="313" y="45.3" font-size="16" fill="#1a1a1a" stroke="#1a1a1a" stroke-width="0.3" font-style="italic" font-family="Liberation Sans, sans-serif">U</text>
<text x="325.2" y="52.4" font-size="10" fill="#1a1a1a" text-anchor="start" font-family="Liberation Sans, sans-serif"  stroke="#1a1a1a" stroke-width="0.3">onset,j</text>
<text x="422" y="103.8" font-size="17" fill="#ff0a28" text-anchor="start" font-family="Liberation Sans, sans-serif"  stroke="#ff0a28" stroke-width="0.3">Abs</text>
<text x="451.5" y="110" font-size="10.3" fill="#ff0a28" text-anchor="start" font-family="Liberation Sans, sans-serif"  stroke="#ff0a28" stroke-width="0.3">450 nm</text>
<text x="422" y="140.9" font-size="17" fill="#6cf000" text-anchor="start" font-family="Liberation Sans, sans-serif"  stroke="#6cf000" stroke-width="0.3">Abs</text>
<text x="451.5" y="147.1" font-size="10.3" fill="#6cf000" text-anchor="start" font-family="Liberation Sans, sans-serif"  stroke="#6cf000" stroke-width="0.3">410 nm</text>
<text x="422" y="196.4" font-size="17" fill="#2a3cf0" text-anchor="start" font-family="Liberation Sans, sans-serif"  stroke="#2a3cf0" stroke-width="0.3">Abs</text>
<text x="451.5" y="202.5" font-size="10.3" fill="#2a3cf0" text-anchor="start" font-family="Liberation Sans, sans-serif"  stroke="#2a3cf0" stroke-width="0.3">580 nm</text>
<text x="523" y="18.6" font-size="20.5" fill="#1a1a1a" text-anchor="start" font-family="Liberation Sans, sans-serif"  stroke="#1a1a1a" stroke-width="0.3">(c)</text>
<text x="522.7" y="239.8" font-size="16" fill="#1a1a1a" text-anchor="middle" font-family="Liberation Sans, sans-serif"  stroke="#1a1a1a" stroke-width="0.3">200</text>
<text x="562.3222222222223" y="239.8" font-size="16" fill="#1a1a1a" text-anchor="middle" font-family="Liberation Sans, sans-serif"  stroke="#1a1a1a" stroke-width="0.3">400</text>
<text x="601.9444444444445" y="239.8" font-size="16" fill="#1a1a1a" text-anchor="middle" font-family="Liberation Sans, sans-serif"  stroke="#1a1a1a" stroke-width="0.3">600</text>
<text x="641.5666666666667" y="239.8" font-size="16" fill="#1a1a1a" text-anchor="middle" font-family="Liberation Sans, sans-serif"  stroke="#1a1a1a" stroke-width="0.3">800</text>
<text x="681.1888888888889" y="239.8" font-size="16" fill="#1a1a1a" text-anchor="middle" font-family="Liberation Sans, sans-serif"  stroke="#1a1a1a" stroke-width="0.3">1000</text>
<text x="527" y="259.6" font-size="21.4" fill="#1a1a1a" stroke="#1a1a1a" stroke-width="0.3" font-family="Liberation Sans, sans-serif">Raman Shift (cm<tspan font-size="15.2" dy="-8.7">−1</tspan><tspan dy="8.7">)</tspan></text>
<text transform="translate(515.6,114.3) rotate(-90)" font-size="21" fill="#1a1a1a" stroke="#1a1a1a" stroke-width="0.3" text-anchor="middle" font-family="Liberation Sans, sans-serif">Intensity (a. u.)</text>
<g fill="none" stroke-width="1.3" stroke-linejoin="round">
<path d="M522.70,51.40 L523.30,50.98 L523.90,50.69 L524.50,50.49 L525.10,50.38 L525.70,50.32 L526.30,50.30 L526.90,50.33 L527.50,50.57 L528.10,50.99 L528.70,51.55 L529.30,52.20 L529.90,52.87 L530.50,53.52 L531.10,54.09 L531.70,54.71 L532.30,55.41 L532.90,56.16 L533.50,56.94 L534.10,57.69 L534.70,58.40 L535.30,59.02 L535.90,59.51 L536.50,59.85 L537.10,60.00 L537.70,59.95 L538.30,59.75 L538.90,59.42 L539.50,58.99 L540.10,58.47 L540.70,57.87 L541.30,57.23 L541.90,56.54 L542.50,55.84 L543.10,55.14 L543.70,54.46 L544.30,53.82 L544.90,53.24 L545.50,52.73 L546.10,52.31 L546.70,52.01 L547.30,51.83 L547.90,51.80 L548.50,51.85 L549.10,51.95 L549.70,52.09 L550.30,52.26 L550.90,52.43 L551.50,52.61 L552.10,52.79 L552.70,52.94 L553.30,53.06 L553.90,53.19 L554.50,53.33 L555.10,53.47 L555.70,53.60 L556.30,53.71 L556.90,53.81 L557.50,53.87 L558.10,53.90 L558.70,53.84 L559.30,53.61 L559.90,53.25 L560.50,52.78 L561.10,52.23 L561.70,51.63 L562.30,51.01 L562.90,50.39 L563.50,49.62 L564.10,48.72 L564.70,47.73 L565.30,46.69 L565.90,45.67 L566.50,44.62 L567.10,43.44 L567.70,42.21 L568.30,40.98 L568.90,39.83 L569.50,38.82 L570.10,38.01 L570.70,37.41 L571.30,36.83 L571.90,36.28 L572.50,35.79 L573.10,35.37 L573.70,35.05 L574.30,34.85 L574.90,34.80 L575.50,34.83 L576.10,34.90 L576.70,34.99 L577.30,35.10 L577.90,35.22 L578.50,35.34 L579.10,35.44 L579.70,35.53 L580.30,35.58 L580.90,35.60 L581.50,35.56 L582.10,35.48 L582.70,35.35 L583.30,35.20 L583.90,35.04 L584.50,34.88 L585.10,34.72 L585.70,34.58 L586.30,34.48 L586.90,34.41 L587.50,34.41 L588.10,34.48 L588.70,34.63 L589.30,34.85 L589.90,35.12 L590.50,35.43 L591.10,35.77 L591.70,36.12 L592.30,36.49 L592.90,36.97 L593.50,37.55 L594.10,38.20 L594.70,38.91 L595.30,39.64 L595.90,40.38 L596.50,41.12 L597.10,41.90 L597.70,42.72 L598.30,43.58 L598.90,44.47 L599.50,45.40 L600.10,46.37 L600.70,47.39 L601.30,48.52 L601.90,49.73 L602.50,51.00 L603.10,52.30 L603.70,53.59 L604.30,54.84 L604.90,56.03 L605.50,57.13 L606.10,58.12 L606.70,59.02 L607.30,59.88 L607.90,60.69 L608.50,61.47 L609.10,62.21 L609.70,62.94 L610.30,63.66 L610.90,64.36 L611.50,65.03 L612.10,65.65 L612.70,66.22 L613.30,66.74 L613.90,67.21 L614.50,67.66 L615.10,68.08 L615.70,68.48 L616.30,68.87 L616.90,69.24 L617.50,69.62 L618.10,69.98 L618.70,70.33 L619.30,70.65 L619.90,70.97 L620.50,71.27 L621.10,71.58 L621.70,71.89 L622.30,72.20 L622.90,72.54 L623.50,72.89 L624.10,73.27 L624.70,73.69 L625.30,74.17 L625.90,74.69 L626.50,75.24 L627.10,75.81 L627.70,76.38 L628.30,76.95 L628.90,77.50 L629.50,78.02 L630.10,78.49 L630.70,78.92 L631.30,79.28 L631.90,79.56 L632.50,79.78 L633.10,79.99 L633.70,80.18 L634.30,80.37 L634.90,80.54 L635.50,80.69 L636.10,80.84 L636.70,80.99 L637.30,81.12 L637.90,81.25 L638.50,81.37 L639.10,81.49 L639.70,81.60 L640.30,81.72 L640.90,81.83 L641.50,81.94 L642.10,82.05 L642.70,82.16 L643.30,82.28 L643.90,82.40 L644.50,82.51 L645.10,82.63 L645.70,82.74 L646.30,82.85 L646.90,82.96 L647.50,83.07 L648.10,83.17 L648.70,83.28 L649.30,83.38 L649.90,83.48 L650.50,83.57 L651.10,83.66 L651.70,83.76 L652.30,83.84 L652.90,83.93 L653.50,84.01 L654.10,84.09 L654.70,84.17 L655.30,84.24 L655.90,84.30 L656.50,84.37 L657.10,84.43 L657.70,84.49 L658.30,84.54 L658.90,84.60 L659.50,84.65 L660.10,84.71 L660.70,84.76 L661.30,84.81 L661.90,84.87 L662.50,84.92 L663.10,84.98 L663.70,85.04 L664.30,85.10 L664.90,85.16 L665.50,85.23 L666.10,85.30 L666.70,85.38 L667.30,85.46 L667.90,85.54 L668.50,85.63 L669.10,85.73 L669.70,85.84 L670.30,85.97 L670.90,86.13 L671.50,86.31 L672.10,86.52 L672.70,86.75 L673.30,86.98 L673.90,87.23 L674.50,87.48 L675.10,87.74 L675.70,87.99 L676.30,88.24 L676.90,88.47 L677.50,88.69 L678.10,88.90 L678.70,89.08 L679.30,89.24 L679.90,89.36 L680.50,89.47 L681.10,89.56 L681.70,89.66 L682.30,89.75 L682.90,89.84 L683.50,89.93 L684.10,90.01 L684.70,90.09 L685.30,90.16 L685.90,90.23 L686.50,90.29 L687.10,90.35 L687.70,90.39 L688.30,90.43 L688.90,90.46 L689.50,90.49 L690.10,90.50 L690.70,90.51 L691.30,90.52 L691.90,90.53 L692.50,90.54 L693.10,90.55 L693.70,90.56 L694.30,90.57 L694.90,90.57 L695.50,90.58 L696.10,90.58 L696.70,90.59 L697.30,90.59 L697.90,90.60 L698.50,90.60 L699.10,90.60 L699.70,90.60" stroke="#2a2a2a" stroke-width="1.6"/>
<path d="M522.70,83.30 L523.30,81.75 L523.90,80.45 L524.50,79.42 L525.10,78.65 L525.70,78.15 L526.30,77.92 L526.90,78.01 L527.50,78.56 L528.10,79.44 L528.70,80.57 L529.30,81.81 L529.90,83.06 L530.50,84.21 L531.10,85.14 L531.70,86.03 L532.30,86.99 L532.90,87.98 L533.50,88.96 L534.10,89.91 L534.70,90.78 L535.30,91.56 L535.90,92.20 L536.50,92.67 L537.10,92.95 L537.70,92.99 L538.30,92.79 L538.90,92.39 L539.50,91.80 L540.10,91.06 L540.70,90.20 L541.30,89.24 L541.90,88.22 L542.50,87.17 L543.10,86.10 L543.70,85.06 L544.30,84.07 L544.90,83.16 L545.50,82.35 L546.10,81.69 L546.70,81.19 L547.30,80.88 L547.90,80.80 L548.50,80.85 L549.10,80.95 L549.70,81.11 L550.30,81.32 L550.90,81.56 L551.50,81.83 L552.10,82.12 L552.70,82.43 L553.30,82.75 L553.90,83.06 L554.50,83.36 L555.10,83.65 L555.70,83.95 L556.30,84.28 L556.90,84.63 L557.50,84.99 L558.10,85.35 L558.70,85.70 L559.30,86.04 L559.90,86.35 L560.50,86.66 L561.10,86.99 L561.70,87.33 L562.30,87.66 L562.90,87.95 L563.50,88.19 L564.10,88.34 L564.70,88.40 L565.30,88.31 L565.90,88.05 L566.50,87.66 L567.10,87.14 L567.70,86.53 L568.30,85.85 L568.90,85.12 L569.50,84.19 L570.10,82.77 L570.70,80.98 L571.30,78.92 L571.90,76.71 L572.50,74.47 L573.10,72.29 L573.70,70.30 L574.30,68.55 L574.90,66.87 L575.50,65.23 L576.10,63.61 L576.70,61.97 L577.30,60.29 L577.90,58.51 L578.50,56.62 L579.10,54.67 L579.70,52.70 L580.30,50.77 L580.90,48.93 L581.50,47.24 L582.10,45.75 L582.70,44.41 L583.30,43.02 L583.90,41.65 L584.50,40.40 L585.10,39.36 L585.70,38.63 L586.30,38.31 L586.90,38.42 L587.50,38.87 L588.10,39.63 L588.70,40.65 L589.30,41.91 L589.90,43.38 L590.50,45.01 L591.10,47.72 L591.70,52.31 L592.30,57.27 L592.90,61.14 L593.50,64.45 L594.10,67.57 L594.70,70.48 L595.30,73.15 L595.90,75.58 L596.50,77.77 L597.10,79.84 L597.70,81.79 L598.30,83.61 L598.90,85.28 L599.50,86.79 L600.10,88.10 L600.70,89.25 L601.30,90.32 L601.90,91.30 L602.50,92.21 L603.10,93.03 L603.70,93.77 L604.30,94.42 L604.90,94.98 L605.50,95.50 L606.10,96.00 L606.70,96.48 L607.30,96.93 L607.90,97.36 L608.50,97.76 L609.10,98.13 L609.70,98.47 L610.30,98.79 L610.90,99.07 L611.50,99.33 L612.10,99.54 L612.70,99.73 L613.30,99.88 L613.90,100.01 L614.50,100.11 L615.10,100.20 L615.70,100.28 L616.30,100.36 L616.90,100.44 L617.50,100.53 L618.10,100.63 L618.70,100.75 L619.30,100.89 L619.90,101.07 L620.50,101.32 L621.10,101.69 L621.70,102.18 L622.30,102.75 L622.90,103.38 L623.50,104.04 L624.10,104.72 L624.70,105.54 L625.30,106.54 L625.90,107.66 L626.50,108.84 L627.10,110.03 L627.70,111.15 L628.30,112.16 L628.90,113.00 L629.50,113.60 L630.10,114.05 L630.70,114.48 L631.30,114.88 L631.90,115.26 L632.50,115.61 L633.10,115.95 L633.70,116.27 L634.30,116.57 L634.90,116.85 L635.50,117.12 L636.10,117.38 L636.70,117.62 L637.30,117.86 L637.90,118.08 L638.50,118.30 L639.10,118.50 L639.70,118.70 L640.30,118.90 L640.90,119.10 L641.50,119.29 L642.10,119.48 L642.70,119.67 L643.30,119.87 L643.90,120.06 L644.50,120.26 L645.10,120.47 L645.70,120.67 L646.30,120.87 L646.90,121.07 L647.50,121.27 L648.10,121.47 L648.70,121.67 L649.30,121.86 L649.90,122.05 L650.50,122.24 L651.10,122.42 L651.70,122.59 L652.30,122.76 L652.90,122.92 L653.50,123.08 L654.10,123.23 L654.70,123.36 L655.30,123.49 L655.90,123.61 L656.50,123.72 L657.10,123.82 L657.70,123.90 L658.30,123.97 L658.90,124.03 L659.50,124.07 L660.10,124.10 L660.70,124.13 L661.30,124.14 L661.90,124.16 L662.50,124.17 L663.10,124.18 L663.70,124.19 L664.30,124.20 L664.90,124.21 L665.50,124.22 L666.10,124.24 L666.70,124.25 L667.30,124.27 L667.90,124.30 L668.50,124.34 L669.10,124.45 L669.70,124.61 L670.30,124.82 L670.90,125.08 L671.50,125.38 L672.10,125.71 L672.70,126.07 L673.30,126.45 L673.90,126.86 L674.50,127.28 L675.10,127.70 L675.70,128.14 L676.30,128.57 L676.90,129.00 L677.50,129.42 L678.10,129.83 L678.70,130.21 L679.30,130.57 L679.90,130.90 L680.50,131.20 L681.10,131.50 L681.70,131.82 L682.30,132.14 L682.90,132.47 L683.50,132.80 L684.10,133.13 L684.70,133.46 L685.30,133.78 L685.90,134.08 L686.50,134.37 L687.10,134.63 L687.70,134.87 L688.30,135.09 L688.90,135.27 L689.50,135.42 L690.10,135.53 L690.70,135.59 L691.30,135.63 L691.90,135.66 L692.50,135.69 L693.10,135.72 L693.70,135.75 L694.30,135.78 L694.90,135.80 L695.50,135.82 L696.10,135.84 L696.70,135.86 L697.30,135.87 L697.90,135.88 L698.50,135.89 L699.10,135.90 L699.70,135.90" stroke="#ee3355" stroke-width="1.45"/>
<path d="M522.70,87.50 L523.30,85.75 L523.90,84.21 L524.50,82.99 L525.10,82.22 L525.70,82.00 L526.30,82.22 L526.90,82.70 L527.50,83.41 L528.10,84.28 L528.70,85.26 L529.30,86.29 L529.90,87.31 L530.50,88.28 L531.10,89.14 L531.70,90.04 L532.30,91.05 L532.90,92.13 L533.50,93.24 L534.10,94.32 L534.70,95.35 L535.30,96.26 L535.90,97.03 L536.50,97.60 L537.10,97.93 L537.70,97.99 L538.30,97.85 L538.90,97.55 L539.50,97.12 L540.10,96.58 L540.70,95.95 L541.30,95.24 L541.90,94.49 L542.50,93.71 L543.10,92.93 L543.70,92.15 L544.30,91.42 L544.90,90.73 L545.50,90.13 L546.10,89.62 L546.70,89.24 L547.30,88.99 L547.90,88.90 L548.50,88.92 L549.10,88.96 L549.70,89.03 L550.30,89.13 L550.90,89.25 L551.50,89.38 L552.10,89.54 L552.70,89.71 L553.30,89.89 L553.90,90.08 L554.50,90.28 L555.10,90.49 L555.70,90.69 L556.30,90.90 L556.90,91.10 L557.50,91.30 L558.10,91.50 L558.70,91.75 L559.30,92.05 L559.90,92.37 L560.50,92.70 L561.10,93.04 L561.70,93.37 L562.30,93.67 L562.90,93.92 L563.50,94.12 L564.10,94.25 L564.70,94.30 L565.30,94.22 L565.90,94.00 L566.50,93.66 L567.10,93.23 L567.70,92.72 L568.30,92.17 L568.90,91.58 L569.50,91.00 L570.10,90.37 L570.70,89.62 L571.30,88.76 L571.90,87.81 L572.50,86.80 L573.10,85.73 L573.70,84.62 L574.30,83.33 L574.90,81.85 L575.50,80.24 L576.10,78.57 L576.70,76.88 L577.30,75.22 L577.90,73.67 L578.50,72.26 L579.10,71.06 L579.70,70.10 L580.30,69.20 L580.90,68.30 L581.50,67.41 L582.10,66.57 L582.70,65.78 L583.30,65.05 L583.90,64.42 L584.50,63.89 L585.10,63.48 L585.70,63.22 L586.30,63.10 L586.90,63.19 L587.50,63.52 L588.10,64.04 L588.70,64.71 L589.30,65.48 L589.90,66.30 L590.50,67.43 L591.10,69.05 L591.70,71.01 L592.30,73.19 L592.90,75.42 L593.50,77.57 L594.10,79.50 L594.70,81.32 L595.30,83.19 L595.90,85.07 L596.50,86.91 L597.10,88.65 L597.70,90.25 L598.30,91.65 L598.90,92.80 L599.50,93.77 L600.10,94.67 L600.70,95.51 L601.30,96.27 L601.90,96.99 L602.50,97.65 L603.10,98.26 L603.70,98.83 L604.30,99.36 L604.90,99.86 L605.50,100.35 L606.10,100.82 L606.70,101.27 L607.30,101.71 L607.90,102.12 L608.50,102.52 L609.10,102.89 L609.70,103.24 L610.30,103.57 L610.90,103.88 L611.50,104.16 L612.10,104.41 L612.70,104.64 L613.30,104.84 L613.90,105.01 L614.50,105.18 L615.10,105.32 L615.70,105.46 L616.30,105.59 L616.90,105.72 L617.50,105.85 L618.10,105.98 L618.70,106.13 L619.30,106.29 L619.90,106.47 L620.50,106.66 L621.10,106.85 L621.70,107.05 L622.30,107.27 L622.90,107.53 L623.50,107.82 L624.10,108.16 L624.70,108.70 L625.30,109.46 L625.90,110.37 L626.50,111.38 L627.10,112.42 L627.70,113.43 L628.30,114.36 L628.90,115.13 L629.50,115.70 L630.10,116.13 L630.70,116.54 L631.30,116.93 L631.90,117.29 L632.50,117.64 L633.10,117.97 L633.70,118.29 L634.30,118.58 L634.90,118.87 L635.50,119.14 L636.10,119.40 L636.70,119.65 L637.30,119.88 L637.90,120.11 L638.50,120.33 L639.10,120.55 L639.70,120.76 L640.30,120.96 L640.90,121.17 L641.50,121.37 L642.10,121.57 L642.70,121.77 L643.30,121.97 L643.90,122.17 L644.50,122.37 L645.10,122.58 L645.70,122.78 L646.30,122.99 L646.90,123.19 L647.50,123.40 L648.10,123.60 L648.70,123.80 L649.30,123.99 L649.90,124.19 L650.50,124.37 L651.10,124.56 L651.70,124.74 L652.30,124.91 L652.90,125.08 L653.50,125.24 L654.10,125.39 L654.70,125.54 L655.30,125.67 L655.90,125.80 L656.50,125.92 L657.10,126.03 L657.70,126.13 L658.30,126.22 L658.90,126.29 L659.50,126.36 L660.10,126.41 L660.70,126.45 L661.30,126.48 L661.90,126.51 L662.50,126.54 L663.10,126.56 L663.70,126.58 L664.30,126.60 L664.90,126.62 L665.50,126.65 L666.10,126.67 L666.70,126.71 L667.30,126.75 L667.90,126.79 L668.50,126.86 L669.10,126.99 L669.70,127.16 L670.30,127.37 L670.90,127.62 L671.50,127.91 L672.10,128.23 L672.70,128.57 L673.30,128.93 L673.90,129.31 L674.50,129.70 L675.10,130.10 L675.70,130.50 L676.30,130.89 L676.90,131.28 L677.50,131.66 L678.10,132.02 L678.70,132.36 L679.30,132.67 L679.90,132.96 L680.50,133.22 L681.10,133.50 L681.70,133.79 L682.30,134.08 L682.90,134.38 L683.50,134.67 L684.10,134.96 L684.70,135.24 L685.30,135.51 L685.90,135.76 L686.50,135.99 L687.10,136.21 L687.70,136.39 L688.30,136.55 L688.90,136.67 L689.50,136.76 L690.10,136.81 L690.70,136.84 L691.30,136.87 L691.90,136.90 L692.50,136.93 L693.10,136.95 L693.70,136.97 L694.30,137.00 L694.90,137.02 L695.50,137.03 L696.10,137.05 L696.70,137.06 L697.30,137.08 L697.90,137.09 L698.50,137.09 L699.10,137.10 L699.70,137.10" stroke="#5a6ee0" stroke-width="1.45"/>
<path d="M522.70,99.30 L523.30,98.15 L523.90,97.12 L524.50,96.20 L525.10,95.42 L525.70,94.78 L526.30,94.29 L526.90,93.96 L527.50,93.81 L528.10,93.87 L528.70,94.25 L529.30,94.89 L529.90,95.77 L530.50,96.83 L531.10,98.05 L531.70,99.37 L532.30,100.75 L532.90,102.15 L533.50,103.53 L534.10,104.85 L534.70,106.07 L535.30,107.13 L535.90,108.01 L536.50,108.65 L537.10,109.03 L537.70,109.09 L538.30,108.92 L538.90,108.58 L539.50,108.08 L540.10,107.46 L540.70,106.73 L541.30,105.92 L541.90,105.05 L542.50,104.15 L543.10,103.25 L543.70,102.35 L544.30,101.50 L544.90,100.72 L545.50,100.02 L546.10,99.43 L546.70,98.99 L547.30,98.70 L547.90,98.60 L548.50,98.62 L549.10,98.68 L549.70,98.78 L550.30,98.92 L550.90,99.08 L551.50,99.27 L552.10,99.49 L552.70,99.72 L553.30,99.98 L553.90,100.25 L554.50,100.52 L555.10,100.81 L555.70,101.10 L556.30,101.39 L556.90,101.68 L557.50,101.96 L558.10,102.25 L558.70,102.63 L559.30,103.08 L559.90,103.55 L560.50,104.02 L561.10,104.43 L561.70,104.76 L562.30,104.96 L562.90,105.00 L563.50,104.92 L564.10,104.77 L564.70,104.54 L565.30,104.24 L565.90,103.87 L566.50,103.45 L567.10,102.98 L567.70,102.46 L568.30,101.89 L568.90,101.23 L569.50,100.15 L570.10,98.71 L570.70,97.07 L571.30,95.36 L571.90,93.58 L572.50,91.43 L573.10,89.15 L573.70,87.00 L574.30,85.24 L574.90,83.89 L575.50,82.61 L576.10,81.41 L576.70,80.30 L577.30,79.29 L577.90,78.40 L578.50,77.64 L579.10,77.03 L579.70,76.56 L580.30,76.13 L580.90,75.72 L581.50,75.34 L582.10,74.98 L582.70,74.65 L583.30,74.36 L583.90,74.11 L584.50,73.90 L585.10,73.74 L585.70,73.64 L586.30,73.60 L586.90,73.66 L587.50,73.86 L588.10,74.21 L588.70,74.70 L589.30,75.29 L589.90,76.00 L590.50,77.77 L591.10,80.77 L591.70,83.82 L592.30,85.97 L592.90,87.78 L593.50,89.43 L594.10,90.91 L594.70,92.22 L595.30,93.34 L595.90,94.33 L596.50,95.21 L597.10,96.02 L597.70,96.79 L598.30,97.54 L598.90,98.30 L599.50,99.12 L600.10,100.00 L600.70,100.95 L601.30,101.94 L601.90,102.94 L602.50,103.96 L603.10,104.97 L603.70,105.95 L604.30,106.90 L604.90,107.80 L605.50,108.69 L606.10,109.58 L606.70,110.43 L607.30,111.21 L607.90,111.90 L608.50,112.50 L609.10,113.06 L609.70,113.59 L610.30,114.09 L610.90,114.56 L611.50,115.02 L612.10,115.45 L612.70,115.87 L613.30,116.28 L613.90,116.68 L614.50,117.08 L615.10,117.47 L615.70,117.87 L616.30,118.24 L616.90,118.60 L617.50,118.94 L618.10,119.26 L618.70,119.57 L619.30,119.88 L619.90,120.19 L620.50,120.50 L621.10,120.83 L621.70,121.17 L622.30,121.53 L622.90,121.91 L623.50,122.33 L624.10,122.78 L624.70,123.31 L625.30,123.92 L625.90,124.60 L626.50,125.34 L627.10,126.11 L627.70,126.91 L628.30,127.71 L628.90,128.50 L629.50,129.27 L630.10,129.99 L630.70,130.66 L631.30,131.25 L631.90,131.75 L632.50,132.17 L633.10,132.57 L633.70,132.95 L634.30,133.31 L634.90,133.66 L635.50,133.99 L636.10,134.31 L636.70,134.62 L637.30,134.91 L637.90,135.19 L638.50,135.46 L639.10,135.72 L639.70,135.98 L640.30,136.22 L640.90,136.46 L641.50,136.69 L642.10,136.92 L642.70,137.14 L643.30,137.36 L643.90,137.58 L644.50,137.79 L645.10,137.99 L645.70,138.18 L646.30,138.36 L646.90,138.54 L647.50,138.72 L648.10,138.88 L648.70,139.04 L649.30,139.20 L649.90,139.35 L650.50,139.50 L651.10,139.64 L651.70,139.77 L652.30,139.90 L652.90,140.02 L653.50,140.14 L654.10,140.25 L654.70,140.36 L655.30,140.47 L655.90,140.58 L656.50,140.68 L657.10,140.79 L657.70,140.89 L658.30,141.00 L658.90,141.10 L659.50,141.21 L660.10,141.32 L660.70,141.43 L661.30,141.54 L661.90,141.66 L662.50,141.78 L663.10,141.91 L663.70,142.04 L664.30,142.18 L664.90,142.32 L665.50,142.48 L666.10,142.64 L666.70,142.81 L667.30,142.99 L667.90,143.19 L668.50,143.38 L669.10,143.59 L669.70,143.80 L670.30,144.01 L670.90,144.23 L671.50,144.46 L672.10,144.69 L672.70,144.92 L673.30,145.15 L673.90,145.38 L674.50,145.61 L675.10,145.84 L675.70,146.07 L676.30,146.30 L676.90,146.52 L677.50,146.74 L678.10,146.96 L678.70,147.17 L679.30,147.37 L679.90,147.57 L680.50,147.76 L681.10,147.96 L681.70,148.16 L682.30,148.36 L682.90,148.57 L683.50,148.78 L684.10,148.98 L684.70,149.18 L685.30,149.38 L685.90,149.57 L686.50,149.74 L687.10,149.91 L687.70,150.07 L688.30,150.20 L688.90,150.33 L689.50,150.43 L690.10,150.51 L690.70,150.59 L691.30,150.66 L691.90,150.73 L692.50,150.80 L693.10,150.87 L693.70,150.93 L694.30,150.99 L694.90,151.05 L695.50,151.10 L696.10,151.15 L696.70,151.19 L697.30,151.22 L697.90,151.25 L698.50,151.28 L699.10,151.29 L699.70,151.30" stroke="#cc55dd" stroke-width="1.45"/>
<path d="M522.70,108.00 L523.30,107.12 L523.90,106.32 L524.50,105.63 L525.10,105.05 L525.70,104.61 L526.30,104.32 L526.90,104.20 L527.50,104.29 L528.10,104.63 L528.70,105.18 L529.30,105.92 L529.90,106.81 L530.50,107.83 L531.10,108.94 L531.70,110.10 L532.30,111.30 L532.90,112.49 L533.50,113.65 L534.10,114.75 L534.70,115.74 L535.30,116.61 L535.90,117.32 L536.50,117.84 L537.10,118.14 L537.70,118.19 L538.30,118.00 L538.90,117.63 L539.50,117.08 L540.10,116.39 L540.70,115.58 L541.30,114.69 L541.90,113.73 L542.50,112.73 L543.10,111.73 L543.70,110.75 L544.30,109.81 L544.90,108.94 L545.50,108.17 L546.10,107.52 L546.70,107.03 L547.30,106.71 L547.90,106.60 L548.50,106.64 L549.10,106.77 L549.70,106.96 L550.30,107.21 L550.90,107.50 L551.50,107.84 L552.10,108.20 L552.70,108.58 L553.30,108.96 L553.90,109.34 L554.50,109.70 L555.10,110.04 L555.70,110.35 L556.30,110.61 L556.90,110.81 L557.50,110.94 L558.10,111.00 L558.70,111.00 L559.30,111.00 L559.90,111.00 L560.50,111.00 L561.10,111.00 L561.70,111.00 L562.30,111.00 L562.90,111.00 L563.50,111.00 L564.10,111.00 L564.70,111.00 L565.30,110.82 L565.90,110.31 L566.50,109.56 L567.10,108.64 L567.70,107.62 L568.30,106.57 L568.90,105.56 L569.50,104.39 L570.10,103.06 L570.70,101.62 L571.30,100.13 L571.90,98.65 L572.50,97.23 L573.10,95.77 L573.70,94.11 L574.30,92.45 L574.90,90.99 L575.50,89.93 L576.10,89.46 L576.70,89.27 L577.30,89.09 L577.90,88.93 L578.50,88.80 L579.10,88.68 L579.70,88.58 L580.30,88.51 L580.90,88.45 L581.50,88.42 L582.10,88.40 L582.70,88.40 L583.30,88.41 L583.90,88.42 L584.50,88.43 L585.10,88.45 L585.70,88.47 L586.30,88.50 L586.90,88.53 L587.50,88.57 L588.10,88.61 L588.70,88.66 L589.30,88.72 L589.90,88.78 L590.50,88.84 L591.10,88.92 L591.70,89.42 L592.30,90.46 L592.90,91.87 L593.50,93.53 L594.10,95.27 L594.70,96.95 L595.30,98.43 L595.90,99.56 L596.50,100.34 L597.10,101.00 L597.70,101.59 L598.30,102.12 L598.90,102.61 L599.50,103.10 L600.10,103.62 L600.70,104.18 L601.30,104.82 L601.90,105.56 L602.50,106.38 L603.10,107.28 L603.70,108.24 L604.30,109.27 L604.90,110.35 L605.50,111.47 L606.10,112.64 L606.70,113.84 L607.30,115.07 L607.90,116.32 L608.50,117.58 L609.10,118.93 L609.70,120.57 L610.30,122.37 L610.90,124.17 L611.50,125.84 L612.10,127.20 L612.70,128.12 L613.30,128.57 L613.90,128.93 L614.50,129.23 L615.10,129.49 L615.70,129.71 L616.30,129.90 L616.90,130.08 L617.50,130.25 L618.10,130.42 L618.70,130.61 L619.30,130.82 L619.90,131.06 L620.50,131.32 L621.10,131.57 L621.70,131.83 L622.30,132.09 L622.90,132.35 L623.50,132.64 L624.10,132.94 L624.70,133.27 L625.30,133.63 L625.90,134.03 L626.50,134.51 L627.10,135.14 L627.70,135.87 L628.30,136.69 L628.90,137.56 L629.50,138.43 L630.10,139.29 L630.70,140.10 L631.30,140.82 L631.90,141.43 L632.50,141.92 L633.10,142.38 L633.70,142.83 L634.30,143.25 L634.90,143.66 L635.50,144.06 L636.10,144.44 L636.70,144.80 L637.30,145.15 L637.90,145.49 L638.50,145.81 L639.10,146.13 L639.70,146.43 L640.30,146.72 L640.90,147.01 L641.50,147.28 L642.10,147.55 L642.70,147.81 L643.30,148.07 L643.90,148.32 L644.50,148.56 L645.10,148.81 L645.70,149.06 L646.30,149.30 L646.90,149.55 L647.50,149.79 L648.10,150.03 L648.70,150.27 L649.30,150.50 L649.90,150.73 L650.50,150.96 L651.10,151.18 L651.70,151.39 L652.30,151.60 L652.90,151.79 L653.50,151.99 L654.10,152.17 L654.70,152.34 L655.30,152.51 L655.90,152.66 L656.50,152.81 L657.10,152.94 L657.70,153.06 L658.30,153.17 L658.90,153.26 L659.50,153.34 L660.10,153.41 L660.70,153.47 L661.30,153.52 L661.90,153.57 L662.50,153.61 L663.10,153.64 L663.70,153.68 L664.30,153.71 L664.90,153.74 L665.50,153.77 L666.10,153.79 L666.70,153.82 L667.30,153.85 L667.90,153.87 L668.50,153.90 L669.10,153.94 L669.70,153.97 L670.30,154.01 L670.90,154.05 L671.50,154.10 L672.10,154.15 L672.70,154.21 L673.30,154.29 L673.90,154.38 L674.50,154.50 L675.10,154.63 L675.70,154.78 L676.30,154.95 L676.90,155.13 L677.50,155.32 L678.10,155.52 L678.70,155.73 L679.30,155.95 L679.90,156.17 L680.50,156.40 L681.10,156.63 L681.70,156.87 L682.30,157.10 L682.90,157.33 L683.50,157.57 L684.10,157.79 L684.70,158.01 L685.30,158.23 L685.90,158.43 L686.50,158.63 L687.10,158.81 L687.70,158.99 L688.30,159.14 L688.90,159.29 L689.50,159.41 L690.10,159.52 L690.70,159.61 L691.30,159.71 L691.90,159.80 L692.50,159.90 L693.10,159.98 L693.70,160.07 L694.30,160.15 L694.90,160.23 L695.50,160.30 L696.10,160.37 L696.70,160.44 L697.30,160.50 L697.90,160.55 L698.50,160.60 L699.10,160.65 L699.70,160.68" stroke="#44cc77" stroke-width="1.45"/>
<path d="M522.70,118.90 L523.30,117.84 L523.90,116.85 L524.50,115.95 L525.10,115.18 L525.70,114.58 L526.30,114.18 L526.90,114.00 L527.50,114.08 L528.10,114.36 L528.70,114.83 L529.30,115.46 L529.90,116.22 L530.50,117.09 L531.10,118.03 L531.70,119.02 L532.30,120.03 L532.90,121.05 L533.50,122.03 L534.10,122.96 L534.70,123.81 L535.30,124.55 L535.90,125.16 L536.50,125.60 L537.10,125.85 L537.70,125.89 L538.30,125.74 L538.90,125.44 L539.50,124.99 L540.10,124.43 L540.70,123.77 L541.30,123.02 L541.90,122.22 L542.50,121.37 L543.10,120.50 L543.70,119.62 L544.30,118.76 L544.90,117.94 L545.50,117.17 L546.10,116.48 L546.70,115.88 L547.30,115.39 L547.90,115.04 L548.50,114.84 L549.10,114.80 L549.70,114.88 L550.30,115.02 L550.90,115.24 L551.50,115.51 L552.10,115.83 L552.70,116.18 L553.30,116.56 L553.90,116.95 L554.50,117.35 L555.10,117.74 L555.70,118.12 L556.30,118.47 L556.90,118.79 L557.50,119.06 L558.10,119.28 L558.70,119.42 L559.30,119.50 L559.90,119.50 L560.50,119.48 L561.10,119.45 L561.70,119.41 L562.30,119.35 L562.90,119.28 L563.50,119.20 L564.10,119.10 L564.70,119.00 L565.30,118.64 L565.90,117.86 L566.50,116.73 L567.10,115.37 L567.70,113.87 L568.30,112.31 L568.90,110.81 L569.50,109.45 L570.10,108.33 L570.70,107.24 L571.30,106.10 L571.90,104.95 L572.50,103.83 L573.10,102.81 L573.70,101.92 L574.30,101.22 L574.90,100.75 L575.50,100.56 L576.10,100.44 L576.70,100.33 L577.30,100.24 L577.90,100.16 L578.50,100.10 L579.10,100.05 L579.70,100.02 L580.30,100.00 L580.90,100.00 L581.50,100.01 L582.10,100.03 L582.70,100.06 L583.30,100.09 L583.90,100.14 L584.50,100.19 L585.10,100.25 L585.70,100.32 L586.30,100.40 L586.90,100.49 L587.50,100.58 L588.10,100.69 L588.70,100.80 L589.30,100.92 L589.90,101.05 L590.50,101.18 L591.10,101.33 L591.70,101.59 L592.30,101.99 L592.90,102.48 L593.50,103.03 L594.10,103.59 L594.70,104.22 L595.30,104.93 L595.90,105.72 L596.50,106.55 L597.10,107.42 L597.70,108.29 L598.30,109.16 L598.90,110.00 L599.50,110.80 L600.10,111.57 L600.70,112.33 L601.30,113.09 L601.90,113.88 L602.50,114.69 L603.10,115.55 L603.70,116.47 L604.30,117.47 L604.90,118.58 L605.50,119.95 L606.10,121.53 L606.70,123.24 L607.30,125.00 L607.90,126.73 L608.50,128.37 L609.10,129.83 L609.70,131.03 L610.30,132.01 L610.90,132.93 L611.50,133.80 L612.10,134.61 L612.70,135.36 L613.30,136.05 L613.90,136.67 L614.50,137.22 L615.10,137.70 L615.70,138.11 L616.30,138.48 L616.90,138.80 L617.50,139.09 L618.10,139.36 L618.70,139.61 L619.30,139.85 L619.90,140.09 L620.50,140.35 L621.10,140.62 L621.70,140.92 L622.30,141.25 L622.90,141.63 L623.50,142.07 L624.10,142.57 L624.70,143.13 L625.30,143.73 L625.90,144.36 L626.50,145.02 L627.10,145.68 L627.70,146.35 L628.30,147.00 L628.90,147.69 L629.50,148.47 L630.10,149.28 L630.70,150.10 L631.30,150.90 L631.90,151.63 L632.50,152.26 L633.10,152.76 L633.70,153.10 L634.30,153.36 L634.90,153.60 L635.50,153.81 L636.10,153.99 L636.70,154.16 L637.30,154.32 L637.90,154.47 L638.50,154.61 L639.10,154.76 L639.70,154.92 L640.30,155.08 L640.90,155.25 L641.50,155.41 L642.10,155.57 L642.70,155.73 L643.30,155.88 L643.90,156.04 L644.50,156.19 L645.10,156.34 L645.70,156.49 L646.30,156.63 L646.90,156.78 L647.50,156.93 L648.10,157.07 L648.70,157.21 L649.30,157.36 L649.90,157.50 L650.50,157.64 L651.10,157.79 L651.70,157.93 L652.30,158.08 L652.90,158.22 L653.50,158.36 L654.10,158.49 L654.70,158.62 L655.30,158.75 L655.90,158.88 L656.50,159.00 L657.10,159.13 L657.70,159.25 L658.30,159.37 L658.90,159.49 L659.50,159.60 L660.10,159.72 L660.70,159.84 L661.30,159.97 L661.90,160.09 L662.50,160.21 L663.10,160.34 L663.70,160.47 L664.30,160.60 L664.90,160.74 L665.50,160.87 L666.10,161.02 L666.70,161.17 L667.30,161.32 L667.90,161.48 L668.50,161.64 L669.10,161.81 L669.70,161.99 L670.30,162.18 L670.90,162.37 L671.50,162.58 L672.10,162.84 L672.70,163.14 L673.30,163.47 L673.90,163.82 L674.50,164.20 L675.10,164.58 L675.70,164.97 L676.30,165.35 L676.90,165.72 L677.50,166.07 L678.10,166.40 L678.70,166.70 L679.30,166.95 L679.90,167.16 L680.50,167.32 L681.10,167.41 L681.70,167.48 L682.30,167.55 L682.90,167.62 L683.50,167.69 L684.10,167.75 L684.70,167.81 L685.30,167.87 L685.90,167.93 L686.50,167.98 L687.10,168.03 L687.70,168.08 L688.30,168.13 L688.90,168.18 L689.50,168.22 L690.10,168.26 L690.70,168.30 L691.30,168.34 L691.90,168.37 L692.50,168.41 L693.10,168.43 L693.70,168.46 L694.30,168.49 L694.90,168.51 L695.50,168.53 L696.10,168.55 L696.70,168.56 L697.30,168.57 L697.90,168.58 L698.50,168.59 L699.10,168.60 L699.70,168.60" stroke="#4a5fd0" stroke-width="1.45"/>
<path d="M522.70,125.90 L523.30,124.97 L523.90,124.11 L524.50,123.34 L525.10,122.69 L525.70,122.18 L526.30,121.85 L526.90,121.70 L527.50,121.78 L528.10,122.06 L528.70,122.53 L529.30,123.15 L529.90,123.90 L530.50,124.76 L531.10,125.69 L531.70,126.68 L532.30,127.68 L532.90,128.69 L533.50,129.67 L534.10,130.59 L534.70,131.43 L535.30,132.16 L535.90,132.76 L536.50,133.20 L537.10,133.45 L537.70,133.49 L538.30,133.33 L538.90,133.01 L539.50,132.54 L540.10,131.94 L540.70,131.23 L541.30,130.44 L541.90,129.58 L542.50,128.68 L543.10,127.76 L543.70,126.83 L544.30,125.91 L544.90,125.04 L545.50,124.22 L546.10,123.49 L546.70,122.85 L547.30,122.33 L547.90,121.96 L548.50,121.74 L549.10,121.70 L549.70,121.75 L550.30,121.84 L550.90,121.98 L551.50,122.17 L552.10,122.38 L552.70,122.62 L553.30,122.89 L553.90,123.18 L554.50,123.48 L555.10,123.79 L555.70,124.10 L556.30,124.42 L556.90,124.72 L557.50,125.01 L558.10,125.29 L558.70,125.54 L559.30,125.77 L559.90,125.96 L560.50,126.11 L561.10,126.22 L561.70,126.29 L562.30,126.29 L562.90,126.20 L563.50,126.00 L564.10,125.72 L564.70,125.35 L565.30,124.91 L565.90,124.42 L566.50,123.87 L567.10,123.30 L567.70,122.62 L568.30,121.44 L568.90,119.83 L569.50,117.95 L570.10,115.95 L570.70,113.99 L571.30,112.22 L571.90,110.80 L572.50,109.89 L573.10,109.40 L573.70,108.94 L574.30,108.52 L574.90,108.15 L575.50,107.83 L576.10,107.56 L576.70,107.37 L577.30,107.24 L577.90,107.20 L578.50,107.20 L579.10,107.21 L579.70,107.22 L580.30,107.23 L580.90,107.25 L581.50,107.27 L582.10,107.29 L582.70,107.32 L583.30,107.35 L583.90,107.39 L584.50,107.42 L585.10,107.47 L585.70,107.51 L586.30,107.56 L586.90,107.61 L587.50,107.67 L588.10,107.73 L588.70,107.79 L589.30,107.85 L589.90,107.93 L590.50,108.05 L591.10,108.24 L591.70,108.47 L592.30,108.72 L592.90,109.00 L593.50,109.28 L594.10,109.54 L594.70,109.79 L595.30,110.04 L595.90,110.28 L596.50,110.54 L597.10,110.81 L597.70,111.10 L598.30,111.43 L598.90,111.81 L599.50,112.24 L600.10,112.72 L600.70,113.35 L601.30,114.34 L601.90,115.61 L602.50,117.11 L603.10,118.75 L603.70,120.45 L604.30,122.14 L604.90,123.75 L605.50,125.31 L606.10,127.00 L606.70,128.76 L607.30,130.53 L607.90,132.23 L608.50,133.82 L609.10,135.21 L609.70,136.36 L610.30,137.43 L610.90,138.46 L611.50,139.44 L612.10,140.35 L612.70,141.19 L613.30,141.94 L613.90,142.60 L614.50,143.14 L615.10,143.56 L615.70,143.90 L616.30,144.20 L616.90,144.45 L617.50,144.68 L618.10,144.88 L618.70,145.07 L619.30,145.25 L619.90,145.45 L620.50,145.65 L621.10,145.89 L621.70,146.15 L622.30,146.46 L622.90,146.79 L623.50,147.16 L624.10,147.54 L624.70,147.95 L625.30,148.38 L625.90,148.83 L626.50,149.29 L627.10,149.77 L627.70,150.25 L628.30,150.76 L628.90,151.33 L629.50,151.95 L630.10,152.62 L630.70,153.30 L631.30,153.98 L631.90,154.64 L632.50,155.26 L633.10,155.82 L633.70,156.30 L634.30,156.69 L634.90,157.05 L635.50,157.40 L636.10,157.72 L636.70,158.03 L637.30,158.31 L637.90,158.57 L638.50,158.81 L639.10,159.02 L639.70,159.21 L640.30,159.38 L640.90,159.54 L641.50,159.68 L642.10,159.81 L642.70,159.94 L643.30,160.06 L643.90,160.17 L644.50,160.28 L645.10,160.38 L645.70,160.48 L646.30,160.57 L646.90,160.66 L647.50,160.75 L648.10,160.84 L648.70,160.94 L649.30,161.03 L649.90,161.13 L650.50,161.23 L651.10,161.33 L651.70,161.44 L652.30,161.56 L652.90,161.67 L653.50,161.79 L654.10,161.90 L654.70,162.01 L655.30,162.11 L655.90,162.22 L656.50,162.33 L657.10,162.43 L657.70,162.54 L658.30,162.64 L658.90,162.75 L659.50,162.86 L660.10,162.97 L660.70,163.08 L661.30,163.19 L661.90,163.30 L662.50,163.42 L663.10,163.54 L663.70,163.66 L664.30,163.79 L664.90,163.92 L665.50,164.05 L666.10,164.19 L666.70,164.33 L667.30,164.47 L667.90,164.63 L668.50,164.78 L669.10,164.95 L669.70,165.11 L670.30,165.29 L670.90,165.47 L671.50,165.67 L672.10,165.93 L672.70,166.23 L673.30,166.57 L673.90,166.93 L674.50,167.31 L675.10,167.71 L675.70,168.11 L676.30,168.50 L676.90,168.88 L677.50,169.24 L678.10,169.57 L678.70,169.87 L679.30,170.11 L679.90,170.31 L680.50,170.44 L681.10,170.51 L681.70,170.54 L682.30,170.58 L682.90,170.62 L683.50,170.65 L684.10,170.68 L684.70,170.72 L685.30,170.75 L685.90,170.78 L686.50,170.80 L687.10,170.83 L687.70,170.85 L688.30,170.88 L688.90,170.90 L689.50,170.92 L690.10,170.94 L690.70,170.96 L691.30,170.98 L691.90,171.00 L692.50,171.01 L693.10,171.02 L693.70,171.04 L694.30,171.05 L694.90,171.06 L695.50,171.07 L696.10,171.08 L696.70,171.08 L697.30,171.09 L697.90,171.09 L698.50,171.10 L699.10,171.10 L699.70,171.10" stroke="#8866ee" stroke-width="1.45"/>
<path d="M522.70,132.80 L523.30,132.01 L523.90,131.29 L524.50,130.65 L525.10,130.11 L525.70,129.69 L526.30,129.42 L526.90,129.30 L527.50,129.37 L528.10,129.64 L528.70,130.09 L529.30,130.68 L529.90,131.39 L530.50,132.20 L531.10,133.09 L531.70,134.02 L532.30,134.98 L532.90,135.93 L533.50,136.86 L534.10,137.74 L534.70,138.54 L535.30,139.23 L535.90,139.80 L536.50,140.21 L537.10,140.45 L537.70,140.49 L538.30,140.34 L538.90,140.02 L539.50,139.55 L540.10,138.97 L540.70,138.27 L541.30,137.49 L541.90,136.65 L542.50,135.76 L543.10,134.85 L543.70,133.94 L544.30,133.04 L544.90,132.18 L545.50,131.38 L546.10,130.66 L546.70,130.03 L547.30,129.52 L547.90,129.15 L548.50,128.94 L549.10,128.90 L549.70,128.93 L550.30,128.99 L550.90,129.08 L551.50,129.20 L552.10,129.34 L552.70,129.50 L553.30,129.68 L553.90,129.87 L554.50,130.08 L555.10,130.30 L555.70,130.52 L556.30,130.76 L556.90,130.99 L557.50,131.22 L558.10,131.45 L558.70,131.68 L559.30,131.89 L559.90,132.09 L560.50,132.28 L561.10,132.46 L561.70,132.61 L562.30,132.74 L562.90,132.85 L563.50,132.93 L564.10,132.98 L564.70,133.00 L565.30,132.73 L565.90,131.97 L566.50,130.83 L567.10,129.39 L567.70,127.75 L568.30,126.01 L568.90,124.25 L569.50,122.58 L570.10,121.08 L570.70,119.86 L571.30,119.00 L571.90,118.36 L572.50,117.75 L573.10,117.17 L573.70,116.63 L574.30,116.16 L574.90,115.75 L575.50,115.43 L576.10,115.21 L576.70,115.09 L577.30,115.01 L577.90,114.94 L578.50,114.87 L579.10,114.80 L579.70,114.75 L580.30,114.69 L580.90,114.64 L581.50,114.60 L582.10,114.56 L582.70,114.52 L583.30,114.49 L583.90,114.46 L584.50,114.44 L585.10,114.43 L585.70,114.41 L586.30,114.40 L586.90,114.40 L587.50,114.41 L588.10,114.46 L588.70,114.55 L589.30,114.67 L589.90,114.82 L590.50,114.99 L591.10,115.18 L591.70,115.39 L592.30,115.63 L592.90,115.99 L593.50,116.47 L594.10,117.03 L594.70,117.65 L595.30,118.28 L595.90,118.90 L596.50,119.50 L597.10,120.10 L597.70,120.72 L598.30,121.37 L598.90,122.05 L599.50,122.77 L600.10,123.54 L600.70,124.36 L601.30,125.27 L601.90,126.31 L602.50,127.47 L603.10,128.72 L603.70,130.02 L604.30,131.36 L604.90,132.70 L605.50,134.00 L606.10,135.36 L606.70,136.84 L607.30,138.36 L607.90,139.87 L608.50,141.29 L609.10,142.55 L609.70,143.59 L610.30,144.37 L610.90,145.06 L611.50,145.71 L612.10,146.30 L612.70,146.85 L613.30,147.35 L613.90,147.80 L614.50,148.20 L615.10,148.56 L615.70,148.86 L616.30,149.12 L616.90,149.34 L617.50,149.53 L618.10,149.70 L618.70,149.84 L619.30,149.98 L619.90,150.11 L620.50,150.25 L621.10,150.39 L621.70,150.56 L622.30,150.74 L622.90,150.96 L623.50,151.22 L624.10,151.52 L624.70,151.87 L625.30,152.25 L625.90,152.65 L626.50,153.08 L627.10,153.53 L627.70,153.99 L628.30,154.46 L628.90,154.92 L629.50,155.41 L630.10,155.98 L630.70,156.59 L631.30,157.22 L631.90,157.87 L632.50,158.50 L633.10,159.09 L633.70,159.63 L634.30,160.09 L634.90,160.45 L635.50,160.73 L636.10,160.97 L636.70,161.20 L637.30,161.40 L637.90,161.59 L638.50,161.76 L639.10,161.93 L639.70,162.08 L640.30,162.23 L640.90,162.38 L641.50,162.52 L642.10,162.66 L642.70,162.79 L643.30,162.91 L643.90,163.03 L644.50,163.15 L645.10,163.26 L645.70,163.37 L646.30,163.47 L646.90,163.58 L647.50,163.68 L648.10,163.79 L648.70,163.89 L649.30,163.99 L649.90,164.10 L650.50,164.21 L651.10,164.32 L651.70,164.44 L652.30,164.56 L652.90,164.68 L653.50,164.80 L654.10,164.91 L654.70,165.03 L655.30,165.14 L655.90,165.25 L656.50,165.36 L657.10,165.48 L657.70,165.59 L658.30,165.70 L658.90,165.81 L659.50,165.93 L660.10,166.04 L660.70,166.16 L661.30,166.28 L661.90,166.40 L662.50,166.52 L663.10,166.64 L663.70,166.77 L664.30,166.90 L664.90,167.03 L665.50,167.16 L666.10,167.30 L666.70,167.44 L667.30,167.59 L667.90,167.74 L668.50,167.90 L669.10,168.06 L669.70,168.22 L670.30,168.39 L670.90,168.57 L671.50,168.76 L672.10,169.00 L672.70,169.26 L673.30,169.55 L673.90,169.86 L674.50,170.19 L675.10,170.52 L675.70,170.86 L676.30,171.19 L676.90,171.51 L677.50,171.82 L678.10,172.11 L678.70,172.37 L679.30,172.59 L679.90,172.78 L680.50,172.92 L681.10,173.01 L681.70,173.08 L682.30,173.15 L682.90,173.22 L683.50,173.28 L684.10,173.35 L684.70,173.41 L685.30,173.46 L685.90,173.52 L686.50,173.58 L687.10,173.63 L687.70,173.68 L688.30,173.73 L688.90,173.77 L689.50,173.82 L690.10,173.86 L690.70,173.90 L691.30,173.93 L691.90,173.97 L692.50,174.00 L693.10,174.03 L693.70,174.06 L694.30,174.08 L694.90,174.11 L695.50,174.13 L696.10,174.15 L696.70,174.16 L697.30,174.17 L697.90,174.18 L698.50,174.19 L699.10,174.20 L699.70,174.20" stroke="#9955bb" stroke-width="1.45"/>
<path d="M522.70,138.50 L523.30,138.12 L523.90,137.79 L524.50,137.52 L525.10,137.30 L525.70,137.14 L526.30,137.04 L526.90,137.00 L527.50,137.06 L528.10,137.26 L528.70,137.59 L529.30,138.03 L529.90,138.57 L530.50,139.18 L531.10,139.84 L531.70,140.54 L532.30,141.26 L532.90,141.98 L533.50,142.67 L534.10,143.33 L534.70,143.93 L535.30,144.45 L535.90,144.87 L536.50,145.19 L537.10,145.36 L537.70,145.39 L538.30,145.27 L538.90,145.02 L539.50,144.66 L540.10,144.21 L540.70,143.68 L541.30,143.10 L541.90,142.47 L542.50,141.82 L543.10,141.16 L543.70,140.52 L544.30,139.90 L544.90,139.33 L545.50,138.83 L546.10,138.40 L546.70,138.08 L547.30,137.87 L547.90,137.80 L548.50,137.81 L549.10,137.85 L549.70,137.91 L550.30,137.98 L550.90,138.07 L551.50,138.18 L552.10,138.29 L552.70,138.42 L553.30,138.54 L553.90,138.67 L554.50,138.80 L555.10,138.93 L555.70,139.05 L556.30,139.16 L556.90,139.26 L557.50,139.34 L558.10,139.41 L558.70,139.47 L559.30,139.49 L559.90,139.49 L560.50,139.37 L561.10,139.12 L561.70,138.77 L562.30,138.35 L562.90,137.89 L563.50,137.40 L564.10,136.92 L564.70,136.37 L565.30,135.73 L565.90,135.01 L566.50,134.24 L567.10,133.42 L567.70,132.55 L568.30,131.47 L568.90,130.23 L569.50,128.90 L570.10,127.57 L570.70,126.31 L571.30,125.20 L571.90,124.33 L572.50,123.76 L573.10,123.44 L573.70,123.16 L574.30,122.91 L574.90,122.69 L575.50,122.48 L576.10,122.31 L576.70,122.15 L577.30,122.02 L577.90,121.90 L578.50,121.80 L579.10,121.71 L579.70,121.64 L580.30,121.57 L580.90,121.50 L581.50,121.43 L582.10,121.36 L582.70,121.30 L583.30,121.25 L583.90,121.20 L584.50,121.15 L585.10,121.11 L585.70,121.08 L586.30,121.05 L586.90,121.02 L587.50,121.01 L588.10,121.00 L588.70,121.02 L589.30,121.14 L589.90,121.38 L590.50,121.72 L591.10,122.13 L591.70,122.62 L592.30,123.15 L592.90,123.72 L593.50,124.32 L594.10,124.91 L594.70,125.50 L595.30,126.13 L595.90,126.89 L596.50,127.72 L597.10,128.58 L597.70,129.41 L598.30,130.17 L598.90,130.88 L599.50,131.56 L600.10,132.22 L600.70,132.87 L601.30,133.52 L601.90,134.19 L602.50,134.88 L603.10,135.61 L603.70,136.40 L604.30,137.25 L604.90,138.19 L605.50,139.33 L606.10,140.61 L606.70,141.96 L607.30,143.29 L607.90,144.53 L608.50,145.60 L609.10,146.54 L609.70,147.44 L610.30,148.30 L610.90,149.09 L611.50,149.83 L612.10,150.50 L612.70,151.09 L613.30,151.65 L613.90,152.17 L614.50,152.67 L615.10,153.13 L615.70,153.57 L616.30,153.98 L616.90,154.37 L617.50,154.72 L618.10,155.05 L618.70,155.35 L619.30,155.61 L619.90,155.85 L620.50,156.07 L621.10,156.29 L621.70,156.50 L622.30,156.73 L622.90,156.97 L623.50,157.25 L624.10,157.55 L624.70,157.91 L625.30,158.30 L625.90,158.73 L626.50,159.19 L627.10,159.67 L627.70,160.16 L628.30,160.65 L628.90,161.14 L629.50,161.62 L630.10,162.08 L630.70,162.55 L631.30,163.05 L631.90,163.56 L632.50,164.07 L633.10,164.58 L633.70,165.06 L634.30,165.51 L634.90,165.91 L635.50,166.26 L636.10,166.54 L636.70,166.78 L637.30,167.00 L637.90,167.21 L638.50,167.39 L639.10,167.56 L639.70,167.71 L640.30,167.85 L640.90,167.98 L641.50,168.10 L642.10,168.20 L642.70,168.30 L643.30,168.40 L643.90,168.49 L644.50,168.57 L645.10,168.65 L645.70,168.73 L646.30,168.80 L646.90,168.87 L647.50,168.94 L648.10,169.01 L648.70,169.08 L649.30,169.15 L649.90,169.23 L650.50,169.30 L651.10,169.38 L651.70,169.46 L652.30,169.54 L652.90,169.62 L653.50,169.71 L654.10,169.78 L654.70,169.86 L655.30,169.94 L655.90,170.01 L656.50,170.09 L657.10,170.16 L657.70,170.24 L658.30,170.31 L658.90,170.38 L659.50,170.46 L660.10,170.53 L660.70,170.61 L661.30,170.69 L661.90,170.76 L662.50,170.84 L663.10,170.93 L663.70,171.01 L664.30,171.10 L664.90,171.19 L665.50,171.28 L666.10,171.37 L666.70,171.47 L667.30,171.58 L667.90,171.68 L668.50,171.79 L669.10,171.91 L669.70,172.03 L670.30,172.15 L670.90,172.28 L671.50,172.42 L672.10,172.61 L672.70,172.83 L673.30,173.07 L673.90,173.33 L674.50,173.61 L675.10,173.90 L675.70,174.19 L676.30,174.48 L676.90,174.76 L677.50,175.02 L678.10,175.27 L678.70,175.49 L679.30,175.68 L679.90,175.84 L680.50,175.95 L681.10,176.01 L681.70,176.05 L682.30,176.09 L682.90,176.13 L683.50,176.17 L684.10,176.21 L684.70,176.24 L685.30,176.28 L685.90,176.31 L686.50,176.35 L687.10,176.38 L687.70,176.41 L688.30,176.43 L688.90,176.46 L689.50,176.48 L690.10,176.51 L690.70,176.53 L691.30,176.55 L691.90,176.57 L692.50,176.59 L693.10,176.61 L693.70,176.62 L694.30,176.64 L694.90,176.65 L695.50,176.66 L696.10,176.67 L696.70,176.68 L697.30,176.69 L697.90,176.69 L698.50,176.70 L699.10,176.70 L699.70,176.70" stroke="#993355" stroke-width="1.45"/>
<path d="M522.70,144.70 L523.30,143.96 L523.90,143.26 L524.50,142.64 L525.10,142.11 L525.70,141.70 L526.30,141.42 L526.90,141.30 L527.50,141.36 L528.10,141.58 L528.70,141.93 L529.30,142.41 L529.90,142.98 L530.50,143.63 L531.10,144.35 L531.70,145.10 L532.30,145.86 L532.90,146.63 L533.50,147.38 L534.10,148.08 L534.70,148.72 L535.30,149.28 L535.90,149.74 L536.50,150.07 L537.10,150.26 L537.70,150.29 L538.30,150.18 L538.90,149.95 L539.50,149.62 L540.10,149.21 L540.70,148.72 L541.30,148.18 L541.90,147.60 L542.50,147.00 L543.10,146.40 L543.70,145.80 L544.30,145.24 L544.90,144.71 L545.50,144.25 L546.10,143.86 L546.70,143.56 L547.30,143.37 L547.90,143.30 L548.50,143.31 L549.10,143.34 L549.70,143.39 L550.30,143.45 L550.90,143.52 L551.50,143.59 L552.10,143.67 L552.70,143.75 L553.30,143.82 L553.90,143.88 L554.50,143.94 L555.10,143.98 L555.70,144.00 L556.30,143.98 L556.90,143.86 L557.50,143.63 L558.10,143.30 L558.70,142.90 L559.30,142.45 L559.90,141.95 L560.50,141.43 L561.10,140.90 L561.70,140.38 L562.30,139.88 L562.90,139.43 L563.50,138.95 L564.10,138.42 L564.70,137.84 L565.30,137.23 L565.90,136.60 L566.50,135.95 L567.10,135.29 L567.70,134.64 L568.30,133.99 L568.90,133.38 L569.50,132.79 L570.10,132.25 L570.70,131.76 L571.30,131.33 L571.90,130.97 L572.50,130.69 L573.10,130.50 L573.70,130.41 L574.30,130.41 L574.90,130.48 L575.50,130.60 L576.10,130.76 L576.70,130.94 L577.30,131.15 L577.90,131.38 L578.50,131.60 L579.10,131.82 L579.70,132.02 L580.30,132.20 L580.90,132.34 L581.50,132.45 L582.10,132.50 L582.70,132.47 L583.30,132.35 L583.90,132.15 L584.50,131.89 L585.10,131.60 L585.70,131.30 L586.30,131.01 L586.90,130.75 L587.50,130.55 L588.10,130.43 L588.70,130.41 L589.30,130.49 L589.90,130.65 L590.50,130.89 L591.10,131.20 L591.70,131.56 L592.30,131.97 L592.90,132.41 L593.50,132.87 L594.10,133.34 L594.70,133.82 L595.30,134.36 L595.90,135.04 L596.50,135.81 L597.10,136.60 L597.70,137.36 L598.30,138.02 L598.90,138.62 L599.50,139.19 L600.10,139.73 L600.70,140.27 L601.30,140.83 L601.90,141.41 L602.50,142.05 L603.10,142.75 L603.70,143.56 L604.30,144.53 L604.90,145.63 L605.50,146.81 L606.10,148.02 L606.70,149.21 L607.30,150.34 L607.90,151.35 L608.50,152.20 L609.10,152.94 L609.70,153.64 L610.30,154.32 L610.90,154.96 L611.50,155.55 L612.10,156.10 L612.70,156.60 L613.30,157.05 L613.90,157.44 L614.50,157.78 L615.10,158.08 L615.70,158.35 L616.30,158.60 L616.90,158.83 L617.50,159.06 L618.10,159.27 L618.70,159.49 L619.30,159.72 L619.90,159.96 L620.50,160.21 L621.10,160.45 L621.70,160.68 L622.30,160.92 L622.90,161.15 L623.50,161.38 L624.10,161.63 L624.70,161.88 L625.30,162.15 L625.90,162.43 L626.50,162.73 L627.10,163.06 L627.70,163.44 L628.30,163.88 L628.90,164.37 L629.50,164.89 L630.10,165.43 L630.70,165.98 L631.30,166.52 L631.90,167.04 L632.50,167.52 L633.10,167.96 L633.70,168.34 L634.30,168.65 L634.90,168.94 L635.50,169.23 L636.10,169.50 L636.70,169.76 L637.30,170.01 L637.90,170.24 L638.50,170.45 L639.10,170.64 L639.70,170.81 L640.30,170.96 L640.90,171.08 L641.50,171.19 L642.10,171.28 L642.70,171.37 L643.30,171.45 L643.90,171.52 L644.50,171.59 L645.10,171.66 L645.70,171.72 L646.30,171.78 L646.90,171.83 L647.50,171.89 L648.10,171.94 L648.70,171.99 L649.30,172.05 L649.90,172.10 L650.50,172.15 L651.10,172.21 L651.70,172.27 L652.30,172.33 L652.90,172.39 L653.50,172.45 L654.10,172.50 L654.70,172.56 L655.30,172.61 L655.90,172.65 L656.50,172.70 L657.10,172.75 L657.70,172.80 L658.30,172.84 L658.90,172.89 L659.50,172.93 L660.10,172.98 L660.70,173.02 L661.30,173.07 L661.90,173.12 L662.50,173.17 L663.10,173.22 L663.70,173.27 L664.30,173.33 L664.90,173.39 L665.50,173.45 L666.10,173.52 L666.70,173.58 L667.30,173.66 L667.90,173.73 L668.50,173.81 L669.10,173.90 L669.70,173.99 L670.30,174.08 L670.90,174.18 L671.50,174.31 L672.10,174.49 L672.70,174.72 L673.30,174.98 L673.90,175.28 L674.50,175.61 L675.10,175.95 L675.70,176.30 L676.30,176.65 L676.90,176.99 L677.50,177.32 L678.10,177.62 L678.70,177.89 L679.30,178.12 L679.90,178.31 L680.50,178.44 L681.10,178.51 L681.70,178.55 L682.30,178.59 L682.90,178.63 L683.50,178.67 L684.10,178.71 L684.70,178.75 L685.30,178.78 L685.90,178.82 L686.50,178.85 L687.10,178.88 L687.70,178.91 L688.30,178.94 L688.90,178.96 L689.50,178.99 L690.10,179.01 L690.70,179.03 L691.30,179.05 L691.90,179.07 L692.50,179.09 L693.10,179.11 L693.70,179.12 L694.30,179.14 L694.90,179.15 L695.50,179.16 L696.10,179.17 L696.70,179.18 L697.30,179.19 L697.90,179.19 L698.50,179.20 L699.10,179.20 L699.70,179.20" stroke="#99a077" stroke-width="1.45"/>
<path d="M522.70,150.30 L523.30,149.54 L523.90,148.83 L524.50,148.19 L525.10,147.65 L525.70,147.21 L526.30,146.93 L526.90,146.80 L527.50,146.86 L528.10,147.06 L528.70,147.39 L529.30,147.83 L529.90,148.37 L530.50,148.98 L531.10,149.64 L531.70,150.34 L532.30,151.06 L532.90,151.78 L533.50,152.47 L534.10,153.13 L534.70,153.73 L535.30,154.25 L535.90,154.67 L536.50,154.99 L537.10,155.16 L537.70,155.19 L538.30,155.09 L538.90,154.89 L539.50,154.59 L540.10,154.22 L540.70,153.78 L541.30,153.29 L541.90,152.77 L542.50,152.23 L543.10,151.69 L543.70,151.15 L544.30,150.64 L544.90,150.17 L545.50,149.75 L546.10,149.40 L546.70,149.13 L547.30,148.96 L547.90,148.90 L548.50,148.91 L549.10,148.94 L549.70,148.98 L550.30,149.03 L550.90,149.09 L551.50,149.15 L552.10,149.22 L552.70,149.28 L553.30,149.34 L553.90,149.40 L554.50,149.45 L555.10,149.48 L555.70,149.50 L556.30,149.50 L556.90,149.48 L557.50,149.45 L558.10,149.40 L558.70,149.35 L559.30,149.28 L559.90,149.21 L560.50,149.09 L561.10,148.83 L561.70,148.45 L562.30,147.96 L562.90,147.38 L563.50,146.72 L564.10,146.00 L564.70,145.23 L565.30,144.42 L565.90,143.60 L566.50,142.76 L567.10,141.94 L567.70,141.15 L568.30,140.39 L568.90,139.68 L569.50,139.05 L570.10,138.49 L570.70,138.04 L571.30,137.69 L571.90,137.48 L572.50,137.40 L573.10,137.45 L573.70,137.59 L574.30,137.80 L574.90,138.08 L575.50,138.39 L576.10,138.73 L576.70,139.09 L577.30,139.44 L577.90,139.77 L578.50,140.07 L579.10,140.31 L579.70,140.49 L580.30,140.59 L580.90,140.60 L581.50,140.57 L582.10,140.51 L582.70,140.44 L583.30,140.34 L583.90,140.24 L584.50,140.13 L585.10,140.01 L585.70,139.90 L586.30,139.79 L586.90,139.69 L587.50,139.61 L588.10,139.55 L588.70,139.51 L589.30,139.50 L589.90,139.58 L590.50,139.76 L591.10,140.03 L591.70,140.39 L592.30,140.82 L592.90,141.30 L593.50,141.83 L594.10,142.39 L594.70,142.97 L595.30,143.56 L595.90,144.15 L596.50,144.73 L597.10,145.27 L597.70,145.78 L598.30,146.29 L598.90,146.81 L599.50,147.34 L600.10,147.89 L600.70,148.44 L601.30,149.01 L601.90,149.57 L602.50,150.14 L603.10,150.71 L603.70,151.28 L604.30,151.86 L604.90,152.45 L605.50,153.05 L606.10,153.65 L606.70,154.24 L607.30,154.83 L607.90,155.41 L608.50,155.98 L609.10,156.59 L609.70,157.20 L610.30,157.81 L610.90,158.42 L611.50,159.01 L612.10,159.56 L612.70,160.08 L613.30,160.54 L613.90,160.94 L614.50,161.28 L615.10,161.60 L615.70,161.89 L616.30,162.15 L616.90,162.40 L617.50,162.64 L618.10,162.87 L618.70,163.10 L619.30,163.32 L619.90,163.55 L620.50,163.79 L621.10,164.04 L621.70,164.29 L622.30,164.54 L622.90,164.78 L623.50,165.02 L624.10,165.26 L624.70,165.51 L625.30,165.76 L625.90,166.01 L626.50,166.28 L627.10,166.56 L627.70,166.85 L628.30,167.16 L628.90,167.50 L629.50,167.87 L630.10,168.27 L630.70,168.68 L631.30,169.10 L631.90,169.52 L632.50,169.94 L633.10,170.35 L633.70,170.74 L634.30,171.11 L634.90,171.45 L635.50,171.77 L636.10,172.10 L636.70,172.44 L637.30,172.77 L637.90,173.09 L638.50,173.39 L639.10,173.66 L639.70,173.88 L640.30,174.06 L640.90,174.19 L641.50,174.26 L642.10,174.33 L642.70,174.40 L643.30,174.45 L643.90,174.50 L644.50,174.55 L645.10,174.59 L645.70,174.63 L646.30,174.66 L646.90,174.70 L647.50,174.73 L648.10,174.76 L648.70,174.79 L649.30,174.82 L649.90,174.86 L650.50,174.89 L651.10,174.93 L651.70,174.98 L652.30,175.02 L652.90,175.07 L653.50,175.11 L654.10,175.16 L654.70,175.20 L655.30,175.24 L655.90,175.28 L656.50,175.32 L657.10,175.36 L657.70,175.41 L658.30,175.45 L658.90,175.49 L659.50,175.53 L660.10,175.57 L660.70,175.61 L661.30,175.66 L661.90,175.70 L662.50,175.75 L663.10,175.80 L663.70,175.85 L664.30,175.90 L664.90,175.96 L665.50,176.02 L666.10,176.08 L666.70,176.14 L667.30,176.21 L667.90,176.28 L668.50,176.35 L669.10,176.43 L669.70,176.51 L670.30,176.60 L670.90,176.68 L671.50,176.79 L672.10,176.95 L672.70,177.15 L673.30,177.38 L673.90,177.64 L674.50,177.92 L675.10,178.21 L675.70,178.51 L676.30,178.81 L676.90,179.11 L677.50,179.39 L678.10,179.65 L678.70,179.88 L679.30,180.08 L679.90,180.24 L680.50,180.35 L681.10,180.41 L681.70,180.44 L682.30,180.48 L682.90,180.51 L683.50,180.55 L684.10,180.58 L684.70,180.61 L685.30,180.64 L685.90,180.67 L686.50,180.70 L687.10,180.73 L687.70,180.75 L688.30,180.77 L688.90,180.80 L689.50,180.82 L690.10,180.84 L690.70,180.86 L691.30,180.88 L691.90,180.89 L692.50,180.91 L693.10,180.92 L693.70,180.93 L694.30,180.95 L694.90,180.96 L695.50,180.97 L696.10,180.98 L696.70,180.98 L697.30,180.99 L697.90,180.99 L698.50,181.00 L699.10,181.00 L699.70,181.00" stroke="#5588bb" stroke-width="1.45"/>
<path d="M522.70,155.90 L523.30,155.27 L523.90,154.69 L524.50,154.18 L525.10,153.75 L525.70,153.41 L526.30,153.19 L526.90,153.10 L527.50,153.16 L528.10,153.38 L528.70,153.73 L529.30,154.21 L529.90,154.78 L530.50,155.43 L531.10,156.15 L531.70,156.90 L532.30,157.66 L532.90,158.43 L533.50,159.18 L534.10,159.88 L534.70,160.52 L535.30,161.08 L535.90,161.54 L536.50,161.87 L537.10,162.06 L537.70,162.09 L538.30,162.01 L538.90,161.83 L539.50,161.57 L540.10,161.24 L540.70,160.86 L541.30,160.43 L541.90,159.98 L542.50,159.51 L543.10,159.03 L543.70,158.57 L544.30,158.12 L544.90,157.71 L545.50,157.34 L546.10,157.04 L546.70,156.80 L547.30,156.65 L547.90,156.60 L548.50,156.63 L549.10,156.71 L549.70,156.83 L550.30,156.98 L550.90,157.17 L551.50,157.38 L552.10,157.61 L552.70,157.85 L553.30,158.09 L553.90,158.33 L554.50,158.55 L555.10,158.76 L555.70,158.94 L556.30,159.10 L556.90,159.21 L557.50,159.28 L558.10,159.30 L558.70,159.24 L559.30,159.09 L559.90,158.86 L560.50,158.58 L561.10,158.25 L561.70,157.87 L562.30,157.48 L562.90,157.07 L563.50,156.66 L564.10,156.26 L564.70,155.84 L565.30,155.31 L565.90,154.70 L566.50,154.02 L567.10,153.29 L567.70,152.54 L568.30,151.78 L568.90,151.03 L569.50,150.32 L570.10,149.66 L570.70,149.06 L571.30,148.56 L571.90,148.17 L572.50,147.91 L573.10,147.80 L573.70,147.82 L574.30,147.91 L574.90,148.06 L575.50,148.25 L576.10,148.47 L576.70,148.72 L577.30,148.99 L577.90,149.27 L578.50,149.54 L579.10,149.80 L579.70,150.04 L580.30,150.25 L580.90,150.42 L581.50,150.54 L582.10,150.60 L582.70,150.59 L583.30,150.52 L583.90,150.41 L584.50,150.26 L585.10,150.10 L585.70,149.92 L586.30,149.73 L586.90,149.56 L587.50,149.41 L588.10,149.30 L588.70,149.22 L589.30,149.20 L589.90,149.27 L590.50,149.42 L591.10,149.66 L591.70,149.97 L592.30,150.33 L592.90,150.74 L593.50,151.20 L594.10,151.67 L594.70,152.17 L595.30,152.66 L595.90,153.16 L596.50,153.66 L597.10,154.27 L597.70,154.98 L598.30,155.75 L598.90,156.54 L599.50,157.32 L600.10,158.05 L600.70,158.70 L601.30,159.23 L601.90,159.65 L602.50,160.04 L603.10,160.41 L603.70,160.76 L604.30,161.10 L604.90,161.41 L605.50,161.71 L606.10,161.99 L606.70,162.26 L607.30,162.52 L607.90,162.77 L608.50,163.01 L609.10,163.25 L609.70,163.48 L610.30,163.70 L610.90,163.93 L611.50,164.15 L612.10,164.38 L612.70,164.61 L613.30,164.84 L613.90,165.08 L614.50,165.33 L615.10,165.58 L615.70,165.85 L616.30,166.13 L616.90,166.42 L617.50,166.73 L618.10,167.06 L618.70,167.40 L619.30,167.78 L619.90,168.17 L620.50,168.58 L621.10,169.00 L621.70,169.43 L622.30,169.88 L622.90,170.33 L623.50,170.78 L624.10,171.23 L624.70,171.67 L625.30,172.11 L625.90,172.54 L626.50,172.96 L627.10,173.36 L627.70,173.75 L628.30,174.11 L628.90,174.45 L629.50,174.76 L630.10,175.05 L630.70,175.31 L631.30,175.57 L631.90,175.82 L632.50,176.06 L633.10,176.29 L633.70,176.52 L634.30,176.74 L634.90,176.96 L635.50,177.17 L636.10,177.37 L636.70,177.57 L637.30,177.77 L637.90,177.96 L638.50,178.15 L639.10,178.33 L639.70,178.51 L640.30,178.69 L640.90,178.87 L641.50,179.04 L642.10,179.22 L642.70,179.39 L643.30,179.56 L643.90,179.73 L644.50,179.90 L645.10,180.07 L645.70,180.24 L646.30,180.42 L646.90,180.59 L647.50,180.77 L648.10,180.95 L648.70,181.13 L649.30,181.32 L649.90,181.50 L650.50,181.68 L651.10,181.86 L651.70,182.05 L652.30,182.23 L652.90,182.40 L653.50,182.58 L654.10,182.75 L654.70,182.92 L655.30,183.08 L655.90,183.24 L656.50,183.39 L657.10,183.53 L657.70,183.67 L658.30,183.81 L658.90,183.93 L659.50,184.05 L660.10,184.16 L660.70,184.26 L661.30,184.34 L661.90,184.42 L662.50,184.49 L663.10,184.55 L663.70,184.61 L664.30,184.67 L664.90,184.73 L665.50,184.78 L666.10,184.84 L666.70,184.89 L667.30,184.95 L667.90,185.00 L668.50,185.06 L669.10,185.11 L669.70,185.16 L670.30,185.22 L670.90,185.27 L671.50,185.32 L672.10,185.37 L672.70,185.41 L673.30,185.46 L673.90,185.51 L674.50,185.56 L675.10,185.60 L675.70,185.64 L676.30,185.69 L676.90,185.73 L677.50,185.77 L678.10,185.81 L678.70,185.85 L679.30,185.89 L679.90,185.93 L680.50,185.97 L681.10,186.01 L681.70,186.04 L682.30,186.07 L682.90,186.11 L683.50,186.14 L684.10,186.17 L684.70,186.20 L685.30,186.23 L685.90,186.26 L686.50,186.29 L687.10,186.31 L687.70,186.34 L688.30,186.36 L688.90,186.39 L689.50,186.41 L690.10,186.43 L690.70,186.45 L691.30,186.47 L691.90,186.48 L692.50,186.50 L693.10,186.52 L693.70,186.53 L694.30,186.54 L694.90,186.55 L695.50,186.56 L696.10,186.57 L696.70,186.58 L697.30,186.59 L697.90,186.59 L698.50,186.60 L699.10,186.60 L699.70,186.60" stroke="#44dd88" stroke-width="1.45"/>
<path d="M522.70,160.00 L523.30,159.63 L523.90,159.31 L524.50,159.06 L525.10,158.86 L525.70,158.72 L526.30,158.64 L526.90,158.60 L527.50,158.66 L528.10,158.88 L528.70,159.24 L529.30,159.72 L529.90,160.30 L530.50,160.96 L531.10,161.68 L531.70,162.44 L532.30,163.21 L532.90,163.99 L533.50,164.74 L534.10,165.46 L534.70,166.10 L535.30,166.67 L535.90,167.13 L536.50,167.47 L537.10,167.66 L537.70,167.70 L538.30,167.64 L538.90,167.53 L539.50,167.36 L540.10,167.15 L540.70,166.91 L541.30,166.64 L541.90,166.35 L542.50,166.05 L543.10,165.75 L543.70,165.45 L544.30,165.17 L544.90,164.91 L545.50,164.67 L546.10,164.48 L546.70,164.33 L547.30,164.23 L547.90,164.20 L548.50,164.24 L549.10,164.35 L549.70,164.53 L550.30,164.77 L550.90,165.05 L551.50,165.36 L552.10,165.70 L552.70,166.06 L553.30,166.42 L553.90,166.78 L554.50,167.13 L555.10,167.45 L555.70,167.74 L556.30,167.99 L556.90,168.19 L557.50,168.33 L558.10,168.40 L558.70,168.38 L559.30,168.29 L559.90,168.12 L560.50,167.89 L561.10,167.60 L561.70,167.25 L562.30,166.86 L562.90,166.43 L563.50,165.96 L564.10,165.47 L564.70,164.96 L565.30,164.43 L565.90,163.89 L566.50,163.36 L567.10,162.83 L567.70,162.32 L568.30,161.82 L568.90,161.35 L569.50,160.91 L570.10,160.51 L570.70,160.16 L571.30,159.86 L571.90,159.61 L572.50,159.43 L573.10,159.33 L573.70,159.30 L574.30,159.31 L574.90,159.33 L575.50,159.35 L576.10,159.39 L576.70,159.43 L577.30,159.48 L577.90,159.53 L578.50,159.58 L579.10,159.64 L579.70,159.70 L580.30,159.75 L580.90,159.80 L581.50,159.85 L582.10,159.90 L582.70,159.94 L583.30,159.97 L583.90,159.99 L584.50,160.00 L585.10,159.99 L585.70,159.91 L586.30,159.76 L586.90,159.56 L587.50,159.32 L588.10,159.07 L588.70,158.81 L589.30,158.56 L589.90,158.34 L590.50,158.16 L591.10,158.04 L591.70,158.00 L592.30,158.02 L592.90,158.09 L593.50,158.19 L594.10,158.33 L594.70,158.50 L595.30,158.70 L595.90,158.92 L596.50,159.16 L597.10,159.42 L597.70,159.69 L598.30,159.97 L598.90,160.25 L599.50,160.54 L600.10,160.82 L600.70,161.09 L601.30,161.36 L601.90,161.62 L602.50,161.89 L603.10,162.16 L603.70,162.45 L604.30,162.75 L604.90,163.06 L605.50,163.38 L606.10,163.70 L606.70,164.04 L607.30,164.38 L607.90,164.73 L608.50,165.08 L609.10,165.44 L609.70,165.81 L610.30,166.19 L610.90,166.60 L611.50,167.05 L612.10,167.51 L612.70,168.00 L613.30,168.49 L613.90,168.99 L614.50,169.48 L615.10,169.97 L615.70,170.44 L616.30,170.90 L616.90,171.32 L617.50,171.71 L618.10,172.06 L618.70,172.38 L619.30,172.68 L619.90,172.96 L620.50,173.23 L621.10,173.49 L621.70,173.74 L622.30,173.97 L622.90,174.20 L623.50,174.42 L624.10,174.63 L624.70,174.84 L625.30,175.04 L625.90,175.25 L626.50,175.45 L627.10,175.65 L627.70,175.86 L628.30,176.07 L628.90,176.28 L629.50,176.51 L630.10,176.74 L630.70,176.98 L631.30,177.23 L631.90,177.49 L632.50,177.77 L633.10,178.07 L633.70,178.38 L634.30,178.71 L634.90,179.06 L635.50,179.48 L636.10,179.97 L636.70,180.54 L637.30,181.15 L637.90,181.81 L638.50,182.49 L639.10,183.19 L639.70,183.89 L640.30,184.58 L640.90,185.25 L641.50,185.87 L642.10,186.45 L642.70,186.97 L643.30,187.40 L643.90,187.75 L644.50,188.00 L645.10,188.19 L645.70,188.36 L646.30,188.52 L646.90,188.68 L647.50,188.82 L648.10,188.95 L648.70,189.08 L649.30,189.19 L649.90,189.30 L650.50,189.41 L651.10,189.51 L651.70,189.60 L652.30,189.68 L652.90,189.77 L653.50,189.85 L654.10,189.92 L654.70,189.99 L655.30,190.06 L655.90,190.13 L656.50,190.20 L657.10,190.27 L657.70,190.33 L658.30,190.40 L658.90,190.46 L659.50,190.52 L660.10,190.58 L660.70,190.64 L661.30,190.69 L661.90,190.75 L662.50,190.80 L663.10,190.86 L663.70,190.91 L664.30,190.96 L664.90,191.01 L665.50,191.06 L666.10,191.10 L666.70,191.15 L667.30,191.20 L667.90,191.24 L668.50,191.28 L669.10,191.33 L669.70,191.37 L670.30,191.41 L670.90,191.45 L671.50,191.49 L672.10,191.53 L672.70,191.57 L673.30,191.60 L673.90,191.64 L674.50,191.68 L675.10,191.72 L675.70,191.75 L676.30,191.79 L676.90,191.82 L677.50,191.86 L678.10,191.89 L678.70,191.93 L679.30,191.96 L679.90,191.99 L680.50,192.03 L681.10,192.06 L681.70,192.09 L682.30,192.13 L682.90,192.16 L683.50,192.19 L684.10,192.22 L684.70,192.26 L685.30,192.29 L685.90,192.32 L686.50,192.35 L687.10,192.38 L687.70,192.41 L688.30,192.44 L688.90,192.46 L689.50,192.49 L690.10,192.52 L690.70,192.55 L691.30,192.57 L691.90,192.60 L692.50,192.63 L693.10,192.65 L693.70,192.68 L694.30,192.70 L694.90,192.72 L695.50,192.75 L696.10,192.77 L696.70,192.79 L697.30,192.81 L697.90,192.83 L698.50,192.85 L699.10,192.87 L699.70,192.89" stroke="#aa7788" stroke-width="1.45"/>
<path d="M522.70,170.00 L523.30,169.16 L523.90,168.34 L524.50,167.58 L525.10,166.97 L525.70,166.55 L526.30,166.40 L526.90,166.45 L527.50,166.61 L528.10,166.86 L528.70,167.19 L529.30,167.59 L529.90,168.05 L530.50,168.55 L531.10,169.10 L531.70,169.67 L532.30,170.25 L532.90,170.85 L533.50,171.43 L534.10,172.00 L534.70,172.55 L535.30,173.05 L535.90,173.51 L536.50,173.91 L537.10,174.24 L537.70,174.49 L538.30,174.65 L538.90,174.70 L539.50,174.66 L540.10,174.53 L540.70,174.35 L541.30,174.10 L541.90,173.82 L542.50,173.50 L543.10,173.17 L543.70,172.83 L544.30,172.50 L544.90,172.18 L545.50,171.90 L546.10,171.65 L546.70,171.47 L547.30,171.34 L547.90,171.30 L548.50,171.34 L549.10,171.46 L549.70,171.65 L550.30,171.90 L550.90,172.21 L551.50,172.56 L552.10,172.95 L552.70,173.37 L553.30,173.82 L553.90,174.28 L554.50,174.75 L555.10,175.22 L555.70,175.68 L556.30,176.13 L556.90,176.55 L557.50,176.94 L558.10,177.29 L558.70,177.60 L559.30,177.85 L559.90,178.04 L560.50,178.16 L561.10,178.20 L561.70,178.15 L562.30,178.01 L562.90,177.78 L563.50,177.48 L564.10,177.11 L564.70,176.69 L565.30,176.22 L565.90,175.71 L566.50,175.17 L567.10,174.62 L567.70,174.06 L568.30,173.49 L568.90,172.94 L569.50,172.41 L570.10,171.90 L570.70,171.43 L571.30,171.01 L571.90,170.65 L572.50,170.35 L573.10,170.12 L573.70,169.98 L574.30,169.88 L574.90,169.80 L575.50,169.73 L576.10,169.68 L576.70,169.62 L577.30,169.57 L577.90,169.52 L578.50,169.47 L579.10,169.40 L579.70,169.33 L580.30,169.25 L580.90,169.14 L581.50,169.00 L582.10,168.82 L582.70,168.60 L583.30,168.37 L583.90,168.11 L584.50,167.84 L585.10,167.56 L585.70,167.28 L586.30,167.00 L586.90,166.73 L587.50,166.48 L588.10,166.25 L588.70,166.05 L589.30,165.89 L589.90,165.76 L590.50,165.68 L591.10,165.60 L591.70,165.53 L592.30,165.47 L592.90,165.40 L593.50,165.34 L594.10,165.28 L594.70,165.23 L595.30,165.18 L595.90,165.13 L596.50,165.08 L597.10,165.04 L597.70,165.01 L598.30,164.98 L598.90,164.95 L599.50,164.93 L600.10,164.91 L600.70,164.90 L601.30,164.90 L601.90,164.97 L602.50,165.22 L603.10,165.60 L603.70,166.08 L604.30,166.61 L604.90,167.14 L605.50,167.64 L606.10,168.06 L606.70,168.45 L607.30,168.82 L607.90,169.19 L608.50,169.55 L609.10,169.91 L609.70,170.28 L610.30,170.64 L610.90,171.00 L611.50,171.37 L612.10,171.75 L612.70,172.13 L613.30,172.53 L613.90,172.95 L614.50,173.39 L615.10,173.83 L615.70,174.28 L616.30,174.73 L616.90,175.17 L617.50,175.60 L618.10,176.02 L618.70,176.41 L619.30,176.78 L619.90,177.12 L620.50,177.42 L621.10,177.68 L621.70,177.92 L622.30,178.13 L622.90,178.33 L623.50,178.52 L624.10,178.69 L624.70,178.84 L625.30,178.99 L625.90,179.13 L626.50,179.27 L627.10,179.40 L627.70,179.53 L628.30,179.66 L628.90,179.80 L629.50,179.94 L630.10,180.08 L630.70,180.24 L631.30,180.40 L631.90,180.58 L632.50,180.78 L633.10,180.99 L633.70,181.22 L634.30,181.47 L634.90,181.75 L635.50,182.09 L636.10,182.52 L636.70,183.03 L637.30,183.59 L637.90,184.21 L638.50,184.88 L639.10,185.57 L639.70,186.29 L640.30,187.01 L640.90,187.74 L641.50,188.45 L642.10,189.15 L642.70,189.81 L643.30,190.43 L643.90,191.00 L644.50,191.50 L645.10,191.97 L645.70,192.45 L646.30,192.93 L646.90,193.41 L647.50,193.89 L648.10,194.36 L648.70,194.82 L649.30,195.27 L649.90,195.71 L650.50,196.12 L651.10,196.52 L651.70,196.89 L652.30,197.23 L652.90,197.55 L653.50,197.83 L654.10,198.07 L654.70,198.27 L655.30,198.44 L655.90,198.56 L656.50,198.67 L657.10,198.78 L657.70,198.88 L658.30,198.98 L658.90,199.08 L659.50,199.17 L660.10,199.26 L660.70,199.34 L661.30,199.42 L661.90,199.50 L662.50,199.58 L663.10,199.65 L663.70,199.72 L664.30,199.78 L664.90,199.85 L665.50,199.91 L666.10,199.97 L666.70,200.03 L667.30,200.08 L667.90,200.14 L668.50,200.19 L669.10,200.24 L669.70,200.29 L670.30,200.33 L670.90,200.38 L671.50,200.43 L672.10,200.47 L672.70,200.51 L673.30,200.56 L673.90,200.60 L674.50,200.64 L675.10,200.68 L675.70,200.72 L676.30,200.76 L676.90,200.81 L677.50,200.85 L678.10,200.89 L678.70,200.93 L679.30,200.98 L679.90,201.02 L680.50,201.06 L681.10,201.11 L681.70,201.16 L682.30,201.21 L682.90,201.26 L683.50,201.31 L684.10,201.36 L684.70,201.41 L685.30,201.46 L685.90,201.51 L686.50,201.56 L687.10,201.61 L687.70,201.66 L688.30,201.71 L688.90,201.76 L689.50,201.81 L690.10,201.86 L690.70,201.91 L691.30,201.95 L691.90,202.00 L692.50,202.05 L693.10,202.09 L693.70,202.14 L694.30,202.19 L694.90,202.23 L695.50,202.28 L696.10,202.32 L696.70,202.36 L697.30,202.41 L697.90,202.45 L698.50,202.49 L699.10,202.54 L699.70,202.58" stroke="#88ee44" stroke-width="1.45"/>
<path d="M522.70,180.30 L523.30,179.19 L523.90,178.10 L524.50,177.07 L525.10,176.16 L525.70,175.43 L526.30,174.92 L526.90,174.70 L527.50,174.74 L528.10,174.89 L528.70,175.13 L529.30,175.45 L529.90,175.85 L530.50,176.31 L531.10,176.81 L531.70,177.35 L532.30,177.92 L532.90,178.50 L533.50,179.08 L534.10,179.65 L534.70,180.20 L535.30,180.71 L535.90,181.18 L536.50,181.59 L537.10,181.92 L537.70,182.18 L538.30,182.34 L538.90,182.40 L539.50,182.34 L540.10,182.16 L540.70,181.89 L541.30,181.55 L541.90,181.15 L542.50,180.72 L543.10,180.26 L543.70,179.81 L544.30,179.38 L544.90,178.99 L545.50,178.66 L546.10,178.40 L546.70,178.24 L547.30,178.20 L547.90,178.26 L548.50,178.39 L549.10,178.59 L549.70,178.85 L550.30,179.17 L550.90,179.54 L551.50,179.95 L552.10,180.40 L552.70,180.88 L553.30,181.39 L553.90,181.91 L554.50,182.44 L555.10,182.97 L555.70,183.51 L556.30,184.03 L556.90,184.54 L557.50,185.02 L558.10,185.48 L558.70,185.89 L559.30,186.27 L559.90,186.60 L560.50,186.87 L561.10,187.09 L561.70,187.23 L562.30,187.30 L562.90,187.29 L563.50,187.22 L564.10,187.11 L564.70,186.94 L565.30,186.73 L565.90,186.47 L566.50,186.18 L567.10,185.84 L567.70,185.48 L568.30,185.08 L568.90,184.66 L569.50,184.21 L570.10,183.74 L570.70,183.26 L571.30,182.76 L571.90,182.24 L572.50,181.72 L573.10,181.19 L573.70,180.66 L574.30,180.13 L574.90,179.61 L575.50,179.09 L576.10,178.58 L576.70,178.08 L577.30,177.61 L577.90,177.15 L578.50,176.71 L579.10,176.30 L579.70,175.91 L580.30,175.56 L580.90,175.24 L581.50,174.91 L582.10,174.57 L582.70,174.22 L583.30,173.87 L583.90,173.51 L584.50,173.15 L585.10,172.79 L585.70,172.43 L586.30,172.08 L586.90,171.74 L587.50,171.41 L588.10,171.09 L588.70,170.79 L589.30,170.51 L589.90,170.25 L590.50,170.01 L591.10,169.80 L591.70,169.62 L592.30,169.46 L592.90,169.34 L593.50,169.26 L594.10,169.21 L594.70,169.20 L595.30,169.21 L595.90,169.22 L596.50,169.25 L597.10,169.28 L597.70,169.31 L598.30,169.36 L598.90,169.41 L599.50,169.47 L600.10,169.53 L600.70,169.60 L601.30,169.68 L601.90,169.77 L602.50,169.85 L603.10,169.96 L603.70,170.13 L604.30,170.37 L604.90,170.67 L605.50,171.02 L606.10,171.40 L606.70,171.80 L607.30,172.22 L607.90,172.75 L608.50,173.39 L609.10,174.11 L609.70,174.88 L610.30,175.70 L610.90,176.54 L611.50,177.38 L612.10,178.19 L612.70,178.96 L613.30,179.67 L613.90,180.30 L614.50,180.89 L615.10,181.48 L615.70,182.08 L616.30,182.67 L616.90,183.24 L617.50,183.79 L618.10,184.30 L618.70,184.76 L619.30,185.17 L619.90,185.51 L620.50,185.77 L621.10,185.95 L621.70,186.10 L622.30,186.23 L622.90,186.35 L623.50,186.45 L624.10,186.53 L624.70,186.61 L625.30,186.68 L625.90,186.74 L626.50,186.79 L627.10,186.84 L627.70,186.89 L628.30,186.94 L628.90,187.00 L629.50,187.05 L630.10,187.11 L630.70,187.18 L631.30,187.26 L631.90,187.35 L632.50,187.45 L633.10,187.57 L633.70,187.70 L634.30,187.86 L634.90,188.03 L635.50,188.38 L636.10,188.94 L636.70,189.68 L637.30,190.56 L637.90,191.55 L638.50,192.60 L639.10,193.68 L639.70,194.76 L640.30,195.79 L640.90,196.73 L641.50,197.56 L642.10,198.27 L642.70,199.00 L643.30,199.73 L643.90,200.46 L644.50,201.18 L645.10,201.87 L645.70,202.51 L646.30,203.11 L646.90,203.63 L647.50,204.08 L648.10,204.44 L648.70,204.70 L649.30,204.89 L649.90,205.07 L650.50,205.24 L651.10,205.40 L651.70,205.55 L652.30,205.68 L652.90,205.81 L653.50,205.92 L654.10,206.03 L654.70,206.13 L655.30,206.23 L655.90,206.32 L656.50,206.40 L657.10,206.48 L657.70,206.56 L658.30,206.63 L658.90,206.70 L659.50,206.77 L660.10,206.83 L660.70,206.90 L661.30,206.97 L661.90,207.03 L662.50,207.10 L663.10,207.16 L663.70,207.23 L664.30,207.29 L664.90,207.36 L665.50,207.42 L666.10,207.48 L666.70,207.55 L667.30,207.61 L667.90,207.67 L668.50,207.73 L669.10,207.79 L669.70,207.85 L670.30,207.91 L670.90,207.97 L671.50,208.03 L672.10,208.09 L672.70,208.14 L673.30,208.20 L673.90,208.25 L674.50,208.31 L675.10,208.36 L675.70,208.42 L676.30,208.47 L676.90,208.52 L677.50,208.57 L678.10,208.62 L678.70,208.67 L679.30,208.71 L679.90,208.76 L680.50,208.81 L681.10,208.85 L681.70,208.89 L682.30,208.94 L682.90,208.98 L683.50,209.02 L684.10,209.06 L684.70,209.09 L685.30,209.13 L685.90,209.17 L686.50,209.20 L687.10,209.23 L687.70,209.27 L688.30,209.30 L688.90,209.32 L689.50,209.35 L690.10,209.38 L690.70,209.40 L691.30,209.43 L691.90,209.45 L692.50,209.47 L693.10,209.49 L693.70,209.51 L694.30,209.52 L694.90,209.54 L695.50,209.55 L696.10,209.56 L696.70,209.57 L697.30,209.58 L697.90,209.59 L698.50,209.59 L699.10,209.60 L699.70,209.60" stroke="#dd44cc" stroke-width="1.45"/>
<path d="M522.70,186.60 L523.30,185.63 L523.90,184.67 L524.50,183.79 L525.10,183.07 L525.70,182.58 L526.30,182.40 L526.90,182.45 L527.50,182.61 L528.10,182.86 L528.70,183.19 L529.30,183.59 L529.90,184.05 L530.50,184.55 L531.10,185.10 L531.70,185.67 L532.30,186.25 L532.90,186.85 L533.50,187.43 L534.10,188.00 L534.70,188.55 L535.30,189.05 L535.90,189.51 L536.50,189.91 L537.10,190.24 L537.70,190.49 L538.30,190.65 L538.90,190.70 L539.50,190.64 L540.10,190.47 L540.70,190.21 L541.30,189.87 L541.90,189.48 L542.50,189.06 L543.10,188.61 L543.70,188.17 L544.30,187.75 L544.90,187.37 L545.50,187.05 L546.10,186.80 L546.70,186.64 L547.30,186.60 L547.90,186.64 L548.50,186.73 L549.10,186.87 L549.70,187.06 L550.30,187.29 L550.90,187.55 L551.50,187.85 L552.10,188.18 L552.70,188.53 L553.30,188.90 L553.90,189.29 L554.50,189.69 L555.10,190.09 L555.70,190.50 L556.30,190.91 L556.90,191.31 L557.50,191.71 L558.10,192.09 L558.70,192.45 L559.30,192.79 L559.90,193.10 L560.50,193.38 L561.10,193.63 L561.70,193.84 L562.30,194.00 L562.90,194.12 L563.50,194.19 L564.10,194.20 L564.70,194.18 L565.30,194.14 L565.90,194.09 L566.50,194.02 L567.10,193.93 L567.70,193.84 L568.30,193.73 L568.90,193.62 L569.50,193.50 L570.10,193.38 L570.70,193.26 L571.30,193.14 L571.90,193.02 L572.50,192.90 L573.10,192.78 L573.70,192.66 L574.30,192.53 L574.90,192.40 L575.50,192.25 L576.10,192.10 L576.70,191.95 L577.30,191.78 L577.90,191.61 L578.50,191.43 L579.10,191.23 L579.70,191.03 L580.30,190.81 L580.90,190.58 L581.50,190.34 L582.10,190.07 L582.70,189.77 L583.30,189.44 L583.90,189.08 L584.50,188.68 L585.10,188.25 L585.70,187.76 L586.30,187.19 L586.90,186.34 L587.50,185.28 L588.10,184.12 L588.70,182.96 L589.30,181.92 L589.90,181.11 L590.50,180.50 L591.10,179.93 L591.70,179.39 L592.30,178.89 L592.90,178.42 L593.50,178.00 L594.10,177.63 L594.70,177.30 L595.30,177.02 L595.90,176.80 L596.50,176.61 L597.10,176.43 L597.70,176.25 L598.30,176.08 L598.90,175.93 L599.50,175.79 L600.10,175.67 L600.70,175.57 L601.30,175.49 L601.90,175.43 L602.50,175.40 L603.10,175.43 L603.70,175.62 L604.30,175.97 L604.90,176.46 L605.50,177.05 L606.10,177.72 L606.70,178.43 L607.30,179.15 L607.90,179.85 L608.50,180.52 L609.10,181.29 L609.70,182.16 L610.30,183.12 L610.90,184.12 L611.50,185.15 L612.10,186.16 L612.70,187.14 L613.30,188.03 L613.90,188.83 L614.50,189.49 L615.10,189.98 L615.70,190.31 L616.30,190.60 L616.90,190.86 L617.50,191.10 L618.10,191.31 L618.70,191.50 L619.30,191.68 L619.90,191.85 L620.50,192.01 L621.10,192.17 L621.70,192.33 L622.30,192.50 L622.90,192.67 L623.50,192.87 L624.10,193.07 L624.70,193.26 L625.30,193.45 L625.90,193.63 L626.50,193.81 L627.10,193.99 L627.70,194.16 L628.30,194.33 L628.90,194.51 L629.50,194.68 L630.10,194.86 L630.70,195.04 L631.30,195.23 L631.90,195.42 L632.50,195.61 L633.10,195.82 L633.70,196.03 L634.30,196.25 L634.90,196.49 L635.50,196.73 L636.10,196.99 L636.70,197.26 L637.30,197.55 L637.90,197.86 L638.50,198.23 L639.10,198.66 L639.70,199.13 L640.30,199.63 L640.90,200.17 L641.50,200.71 L642.10,201.26 L642.70,201.81 L643.30,202.34 L643.90,202.84 L644.50,203.30 L645.10,203.75 L645.70,204.22 L646.30,204.71 L646.90,205.20 L647.50,205.68 L648.10,206.16 L648.70,206.63 L649.30,207.07 L649.90,207.49 L650.50,207.87 L651.10,208.21 L651.70,208.50 L652.30,208.73 L652.90,208.90 L653.50,209.03 L654.10,209.16 L654.70,209.28 L655.30,209.40 L655.90,209.50 L656.50,209.60 L657.10,209.70 L657.70,209.79 L658.30,209.88 L658.90,209.96 L659.50,210.04 L660.10,210.11 L660.70,210.18 L661.30,210.25 L661.90,210.31 L662.50,210.37 L663.10,210.43 L663.70,210.49 L664.30,210.54 L664.90,210.60 L665.50,210.65 L666.10,210.70 L666.70,210.75 L667.30,210.81 L667.90,210.86 L668.50,210.91 L669.10,210.96 L669.70,211.02 L670.30,211.07 L670.90,211.13 L671.50,211.18 L672.10,211.24 L672.70,211.29 L673.30,211.34 L673.90,211.40 L674.50,211.45 L675.10,211.50 L675.70,211.55 L676.30,211.61 L676.90,211.66 L677.50,211.71 L678.10,211.76 L678.70,211.81 L679.30,211.86 L679.90,211.91 L680.50,211.96 L681.10,212.00 L681.70,212.05 L682.30,212.10 L682.90,212.14 L683.50,212.19 L684.10,212.23 L684.70,212.28 L685.30,212.32 L685.90,212.36 L686.50,212.40 L687.10,212.44 L687.70,212.48 L688.30,212.52 L688.90,212.56 L689.50,212.60 L690.10,212.64 L690.70,212.67 L691.30,212.71 L691.90,212.74 L692.50,212.77 L693.10,212.81 L693.70,212.84 L694.30,212.87 L694.90,212.90 L695.50,212.93 L696.10,212.95 L696.70,212.98 L697.30,213.00 L697.90,213.03 L698.50,213.05 L699.10,213.07 L699.70,213.09" stroke="#66ee99" stroke-width="1.45"/>
<path d="M522.70,197.00 L523.30,196.29 L523.90,195.59 L524.50,194.95 L525.10,194.39 L525.70,193.94 L526.30,193.63 L526.90,193.50 L527.50,193.54 L528.10,193.67 L528.70,193.89 L529.30,194.18 L529.90,194.54 L530.50,194.96 L531.10,195.42 L531.70,195.91 L532.30,196.43 L532.90,196.96 L533.50,197.48 L534.10,198.00 L534.70,198.50 L535.30,198.97 L535.90,199.39 L536.50,199.76 L537.10,200.07 L537.70,200.30 L538.30,200.45 L538.90,200.50 L539.50,200.46 L540.10,200.34 L540.70,200.16 L541.30,199.93 L541.90,199.67 L542.50,199.38 L543.10,199.07 L543.70,198.77 L544.30,198.49 L544.90,198.23 L545.50,198.00 L546.10,197.83 L546.70,197.73 L547.30,197.70 L547.90,197.74 L548.50,197.83 L549.10,197.97 L549.70,198.15 L550.30,198.37 L550.90,198.61 L551.50,198.87 L552.10,199.14 L552.70,199.43 L553.30,199.71 L553.90,199.99 L554.50,200.25 L555.10,200.50 L555.70,200.71 L556.30,200.90 L556.90,201.05 L557.50,201.15 L558.10,201.20 L558.70,201.19 L559.30,201.15 L559.90,201.08 L560.50,200.98 L561.10,200.86 L561.70,200.71 L562.30,200.53 L562.90,200.34 L563.50,200.14 L564.10,199.91 L564.70,199.68 L565.30,199.44 L565.90,199.19 L566.50,198.94 L567.10,198.68 L567.70,198.43 L568.30,198.18 L568.90,197.93 L569.50,197.69 L570.10,197.46 L570.70,197.23 L571.30,197.00 L571.90,196.76 L572.50,196.51 L573.10,196.26 L573.70,196.00 L574.30,195.74 L574.90,195.47 L575.50,195.20 L576.10,194.92 L576.70,194.64 L577.30,194.35 L577.90,194.06 L578.50,193.76 L579.10,193.46 L579.70,193.15 L580.30,192.84 L580.90,192.51 L581.50,192.16 L582.10,191.80 L582.70,191.43 L583.30,191.06 L583.90,190.69 L584.50,190.33 L585.10,189.98 L585.70,189.65 L586.30,189.35 L586.90,189.03 L587.50,188.69 L588.10,188.34 L588.70,188.00 L589.30,187.65 L589.90,187.30 L590.50,186.97 L591.10,186.65 L591.70,186.35 L592.30,186.07 L592.90,185.83 L593.50,185.61 L594.10,185.44 L594.70,185.31 L595.30,185.23 L595.90,185.20 L596.50,185.22 L597.10,185.28 L597.70,185.38 L598.30,185.51 L598.90,185.68 L599.50,185.87 L600.10,186.09 L600.70,186.32 L601.30,186.58 L601.90,186.86 L602.50,187.14 L603.10,187.44 L603.70,187.74 L604.30,188.05 L604.90,188.44 L605.50,188.92 L606.10,189.49 L606.70,190.12 L607.30,190.80 L607.90,191.51 L608.50,192.23 L609.10,192.93 L609.70,193.62 L610.30,194.25 L610.90,194.83 L611.50,195.34 L612.10,195.82 L612.70,196.30 L613.30,196.76 L613.90,197.21 L614.50,197.65 L615.10,198.08 L615.70,198.50 L616.30,198.92 L616.90,199.33 L617.50,199.73 L618.10,200.13 L618.70,200.53 L619.30,200.93 L619.90,201.33 L620.50,201.73 L621.10,202.14 L621.70,202.55 L622.30,202.98 L622.90,203.41 L623.50,203.85 L624.10,204.29 L624.70,204.73 L625.30,205.16 L625.90,205.58 L626.50,205.99 L627.10,206.38 L627.70,206.76 L628.30,207.11 L628.90,207.44 L629.50,207.74 L630.10,208.00 L630.70,208.24 L631.30,208.45 L631.90,208.65 L632.50,208.83 L633.10,209.01 L633.70,209.18 L634.30,209.34 L634.90,209.49 L635.50,209.64 L636.10,209.78 L636.70,209.92 L637.30,210.05 L637.90,210.18 L638.50,210.31 L639.10,210.44 L639.70,210.57 L640.30,210.69 L640.90,210.82 L641.50,210.96 L642.10,211.09 L642.70,211.23 L643.30,211.37 L643.90,211.51 L644.50,211.65 L645.10,211.79 L645.70,211.93 L646.30,212.07 L646.90,212.21 L647.50,212.35 L648.10,212.49 L648.70,212.62 L649.30,212.75 L649.90,212.88 L650.50,213.00 L651.10,213.12 L651.70,213.23 L652.30,213.34 L652.90,213.44 L653.50,213.53 L654.10,213.62 L654.70,213.70 L655.30,213.77 L655.90,213.83 L656.50,213.89 L657.10,213.95 L657.70,214.00 L658.30,214.06 L658.90,214.11 L659.50,214.16 L660.10,214.21 L660.70,214.25 L661.30,214.30 L661.90,214.34 L662.50,214.38 L663.10,214.42 L663.70,214.46 L664.30,214.50 L664.90,214.54 L665.50,214.57 L666.10,214.61 L666.70,214.64 L667.30,214.68 L667.90,214.71 L668.50,214.75 L669.10,214.78 L669.70,214.81 L670.30,214.84 L670.90,214.88 L671.50,214.91 L672.10,214.94 L672.70,214.98 L673.30,215.01 L673.90,215.04 L674.50,215.08 L675.10,215.11 L675.70,215.15 L676.30,215.19 L676.90,215.23 L677.50,215.26 L678.10,215.30 L678.70,215.34 L679.30,215.38 L679.90,215.41 L680.50,215.45 L681.10,215.49 L681.70,215.52 L682.30,215.56 L682.90,215.60 L683.50,215.64 L684.10,215.67 L684.70,215.71 L685.30,215.74 L685.90,215.78 L686.50,215.82 L687.10,215.85 L687.70,215.89 L688.30,215.92 L688.90,215.96 L689.50,216.00 L690.10,216.03 L690.70,216.07 L691.30,216.10 L691.90,216.14 L692.50,216.17 L693.10,216.21 L693.70,216.24 L694.30,216.28 L694.90,216.31 L695.50,216.35 L696.10,216.38 L696.70,216.41 L697.30,216.45 L697.90,216.48 L698.50,216.52 L699.10,216.55 L699.70,216.58" stroke="#5566dd" stroke-width="1.45"/>
</g>
<path d="M522.7,33.2 V223.9" stroke="#3d4a4a" stroke-width="1.3"/>
<path d="M522.7,223.9 H701" stroke="#8a96b0" stroke-width="1.4"/>
<path d="M542.51,223.9 v1.8 M562.32,223.9 v1.8 M582.13,223.9 v1.8 M601.94,223.9 v1.8 M621.76,223.9 v1.8 M641.57,223.9 v1.8 M661.38,223.9 v1.8 M681.19,223.9 v1.8 M701.00,223.9 v1.8" stroke="#334" stroke-width="1.3"/>
<text x="702.3" y="93.8" font-size="11" fill="#222222" text-anchor="start" font-family="Liberation Sans, sans-serif" stroke="#222222" stroke-width="0.1">OCP</text>
<text x="702.3" y="138.3" font-size="11" fill="#ff1a3a" text-anchor="start" font-family="Liberation Sans, sans-serif" stroke="#ff1a3a" stroke-width="0.6">0.4 V</text>
<text x="702.3" y="153.3" font-size="11" fill="#c77fd8" text-anchor="start" font-family="Liberation Sans, sans-serif" stroke="#c77fd8" stroke-width="0.1">0.6 V</text>
<text x="702.3" y="168.6" font-size="11" fill="#6a7ae0" text-anchor="start" font-family="Liberation Sans, sans-serif" stroke="#6a7ae0" stroke-width="0.1">0.8 V</text>
<text x="702.3" y="176.4" font-size="11" fill="#7a44a8" text-anchor="start" font-family="Liberation Sans, sans-serif" stroke="#7a44a8" stroke-width="0.1">1.0 V</text>
<text x="702.3" y="184.2" font-size="11" fill="#98a080" text-anchor="start" font-family="Liberation Sans, sans-serif" stroke="#98a080" stroke-width="0.1">1.2 V</text>
<text x="702.3" y="193" font-size="11" fill="#3cbb6a" text-anchor="start" font-family="Liberation Sans, sans-serif" stroke="#3cbb6a" stroke-width="0.1">1.4 V</text>
<text x="702.3" y="204.8" font-size="11" fill="#99ee33" text-anchor="start" font-family="Liberation Sans, sans-serif" stroke="#99ee33" stroke-width="0.1">1.6 V</text>
<text x="702.3" y="212.6" font-size="11" fill="#66ee88" text-anchor="start" font-family="Liberation Sans, sans-serif" stroke="#66ee88" stroke-width="0.1">1.8 V</text>
<text x="702.3" y="222.9" font-size="11" fill="#6464dc" text-anchor="start" font-family="Liberation Sans, sans-serif" stroke="#6464dc" stroke-width="0.1">OCP</text>
<text x="574.8" y="96.4" font-size="16.5" fill="#111" text-anchor="start" font-family="Liberation Sans, sans-serif" stroke="#111" stroke-width="0.45">γ</text>
<text x="584" y="100.4" font-size="16.5" fill="#111" text-anchor="start" font-family="Liberation Sans, sans-serif" stroke="#111" stroke-width="0.45">δ</text>
<text x="596.3" y="109.5" font-size="16.5" fill="#111" text-anchor="start" font-family="Liberation Sans, sans-serif" stroke="#111" stroke-width="0.45">ε</text>
<text x="629.6" y="204.5" font-size="16" fill="#111" text-anchor="start" font-family="Liberation Sans, sans-serif"  stroke="#111" stroke-width="0.3">η</text></svg>
</body></html>
